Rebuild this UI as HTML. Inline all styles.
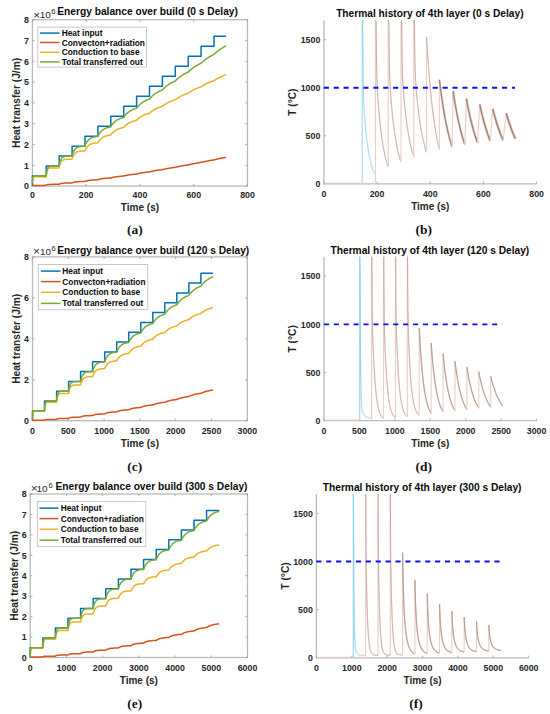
<!DOCTYPE html>
<html><head><meta charset="utf-8"><style>html,body{margin:0;padding:0;background:#fff;width:550px;height:714px;overflow:hidden}svg{display:block}</style></head>
<body><svg width="550" height="714" viewBox="0 0 550 714"><rect x="32.4" y="19.7" width="215.1" height="166.4" fill="none" stroke="#bababa" stroke-width="1.3"/>
<line x1="32.4" y1="186.1" x2="32.4" y2="183.9" stroke="#9a9a9a" stroke-width="0.8"/>
<line x1="32.4" y1="19.7" x2="32.4" y2="21.9" stroke="#9a9a9a" stroke-width="0.8"/>
<text x="32.4" y="198.2" font-size="8.8" text-anchor="middle" font-weight="bold" fill="#262626" font-family='"Liberation Sans", sans-serif' >0</text>
<line x1="86.17" y1="186.1" x2="86.17" y2="183.9" stroke="#9a9a9a" stroke-width="0.8"/>
<line x1="86.17" y1="19.7" x2="86.17" y2="21.9" stroke="#9a9a9a" stroke-width="0.8"/>
<text x="86.17" y="198.2" font-size="8.8" text-anchor="middle" font-weight="bold" fill="#262626" font-family='"Liberation Sans", sans-serif' >200</text>
<line x1="139.95" y1="186.1" x2="139.95" y2="183.9" stroke="#9a9a9a" stroke-width="0.8"/>
<line x1="139.95" y1="19.7" x2="139.95" y2="21.9" stroke="#9a9a9a" stroke-width="0.8"/>
<text x="139.95" y="198.2" font-size="8.8" text-anchor="middle" font-weight="bold" fill="#262626" font-family='"Liberation Sans", sans-serif' >400</text>
<line x1="193.72" y1="186.1" x2="193.72" y2="183.9" stroke="#9a9a9a" stroke-width="0.8"/>
<line x1="193.72" y1="19.7" x2="193.72" y2="21.9" stroke="#9a9a9a" stroke-width="0.8"/>
<text x="193.72" y="198.2" font-size="8.8" text-anchor="middle" font-weight="bold" fill="#262626" font-family='"Liberation Sans", sans-serif' >600</text>
<line x1="247.5" y1="186.1" x2="247.5" y2="183.9" stroke="#9a9a9a" stroke-width="0.8"/>
<line x1="247.5" y1="19.7" x2="247.5" y2="21.9" stroke="#9a9a9a" stroke-width="0.8"/>
<text x="247.5" y="198.2" font-size="8.8" text-anchor="middle" font-weight="bold" fill="#262626" font-family='"Liberation Sans", sans-serif' >800</text>
<line x1="32.4" y1="186.1" x2="34.6" y2="186.1" stroke="#9a9a9a" stroke-width="0.8"/>
<line x1="247.5" y1="186.1" x2="245.3" y2="186.1" stroke="#9a9a9a" stroke-width="0.8"/>
<text x="28.8" y="189.4" font-size="8.8" text-anchor="end" font-weight="bold" fill="#262626" font-family='"Liberation Sans", sans-serif' >0</text>
<line x1="32.4" y1="165.3" x2="34.6" y2="165.3" stroke="#9a9a9a" stroke-width="0.8"/>
<line x1="247.5" y1="165.3" x2="245.3" y2="165.3" stroke="#9a9a9a" stroke-width="0.8"/>
<text x="28.8" y="168.6" font-size="8.8" text-anchor="end" font-weight="bold" fill="#262626" font-family='"Liberation Sans", sans-serif' >1</text>
<line x1="32.4" y1="144.5" x2="34.6" y2="144.5" stroke="#9a9a9a" stroke-width="0.8"/>
<line x1="247.5" y1="144.5" x2="245.3" y2="144.5" stroke="#9a9a9a" stroke-width="0.8"/>
<text x="28.8" y="147.8" font-size="8.8" text-anchor="end" font-weight="bold" fill="#262626" font-family='"Liberation Sans", sans-serif' >2</text>
<line x1="32.4" y1="123.7" x2="34.6" y2="123.7" stroke="#9a9a9a" stroke-width="0.8"/>
<line x1="247.5" y1="123.7" x2="245.3" y2="123.7" stroke="#9a9a9a" stroke-width="0.8"/>
<text x="28.8" y="127" font-size="8.8" text-anchor="end" font-weight="bold" fill="#262626" font-family='"Liberation Sans", sans-serif' >3</text>
<line x1="32.4" y1="102.9" x2="34.6" y2="102.9" stroke="#9a9a9a" stroke-width="0.8"/>
<line x1="247.5" y1="102.9" x2="245.3" y2="102.9" stroke="#9a9a9a" stroke-width="0.8"/>
<text x="28.8" y="106.2" font-size="8.8" text-anchor="end" font-weight="bold" fill="#262626" font-family='"Liberation Sans", sans-serif' >4</text>
<line x1="32.4" y1="82.1" x2="34.6" y2="82.1" stroke="#9a9a9a" stroke-width="0.8"/>
<line x1="247.5" y1="82.1" x2="245.3" y2="82.1" stroke="#9a9a9a" stroke-width="0.8"/>
<text x="28.8" y="85.4" font-size="8.8" text-anchor="end" font-weight="bold" fill="#262626" font-family='"Liberation Sans", sans-serif' >5</text>
<line x1="32.4" y1="61.3" x2="34.6" y2="61.3" stroke="#9a9a9a" stroke-width="0.8"/>
<line x1="247.5" y1="61.3" x2="245.3" y2="61.3" stroke="#9a9a9a" stroke-width="0.8"/>
<text x="28.8" y="64.6" font-size="8.8" text-anchor="end" font-weight="bold" fill="#262626" font-family='"Liberation Sans", sans-serif' >6</text>
<line x1="32.4" y1="40.5" x2="34.6" y2="40.5" stroke="#9a9a9a" stroke-width="0.8"/>
<line x1="247.5" y1="40.5" x2="245.3" y2="40.5" stroke="#9a9a9a" stroke-width="0.8"/>
<text x="28.8" y="43.8" font-size="8.8" text-anchor="end" font-weight="bold" fill="#262626" font-family='"Liberation Sans", sans-serif' >7</text>
<line x1="32.4" y1="19.7" x2="34.6" y2="19.7" stroke="#9a9a9a" stroke-width="0.8"/>
<line x1="247.5" y1="19.7" x2="245.3" y2="19.7" stroke="#9a9a9a" stroke-width="0.8"/>
<text x="28.8" y="23" font-size="8.8" text-anchor="end" font-weight="bold" fill="#262626" font-family='"Liberation Sans", sans-serif' >8</text>
<path d="M32.4,186.1 32.4,176.1 46.2,176.1 46.2,166.1 59.2,166.1 59.2,156.1 72.1,156.1 72.1,146.2 85,146.2 85,136.2 97.9,136.2 97.9,126.2 110.8,126.2 110.8,116.2 123.7,116.2 123.7,106.2 136.6,106.2 136.6,96.2 149.5,96.2 149.5,86.3 162.4,86.3 162.4,76.3 175.3,76.3 175.3,66.3 188.2,66.3 188.2,56.3 201.1,56.3 201.1,46.3 214,46.3 214,36.3 226,36.3" fill="none" stroke="#0072bd" stroke-width="1.5" stroke-linejoin="round" stroke-linecap="butt" />
<path d="M32.4,183 32.7,179.6 32.9,178 33.2,177.3 33.5,177 33.7,176.9 34,176.8 34.3,176.8 34.6,176.8 34.8,176.8 35.1,176.8 35.4,176.8 35.6,176.8 35.9,176.8 36.2,176.8 36.4,176.8 36.7,176.8 37,176.8 37.2,176.8 37.5,176.8 37.8,176.8 38,176.8 38.3,176.8 38.6,176.8 38.9,176.8 39.1,176.8 39.4,176.8 39.7,176.8 39.9,176.8 40.2,176.8 40.5,176.8 40.7,176.8 41,176.8 41.3,176.8 41.5,176.8 41.8,176.8 42.1,176.8 42.3,176.8 42.6,176.8 42.9,176.9 43.2,176.9 43.4,176.9 43.7,176.9 44,176.9 44.2,176.9 44.5,176.9 44.8,176.9 45,176.9 45.3,176.9 45.6,176.9 45.8,176.9 46.1,176.9 46.4,174.6 46.7,173 46.9,171.7 47.2,170.7 47.5,170 47.7,169.5 48,169.1 48.3,168.8 48.5,168.5 48.8,168.4 49.1,168.2 49.3,168.1 49.6,168.1 49.9,168 50.1,168 50.4,167.9 50.7,167.9 51,167.9 51.2,167.9 51.5,167.9 51.8,167.9 52,167.9 52.3,167.9 52.6,167.9 52.8,167.9 53.1,167.9 53.4,167.9 53.6,167.9 53.9,167.9 54.2,167.9 54.4,167.9 54.7,167.9 55,167.9 55.3,167.9 55.5,167.9 55.8,167.9 56.1,167.9 56.3,167.9 56.6,167.9 56.9,167.9 57.1,167.9 57.4,168 57.7,168 57.9,168 58.2,168 58.5,168 58.7,168 59,168 59.3,166.7 59.6,165.6 59.8,164.7 60.1,163.9 60.4,163.2 60.6,162.6 60.9,162.1 61.2,161.7 61.4,161.3 61.7,161 62,160.8 62.2,160.5 62.5,160.3 62.8,160.2 63.1,160 63.3,159.9 63.6,159.8 63.9,159.7 64.1,159.6 64.4,159.6 64.7,159.5 64.9,159.5 65.2,159.4 65.5,159.4 65.7,159.4 66,159.4 66.3,159.3 66.5,159.3 66.8,159.3 67.1,159.3 67.4,159.3 67.6,159.3 67.9,159.3 68.2,159.3 68.4,159.3 68.7,159.3 69,159.3 69.2,159.3 69.5,159.3 69.8,159.3 70,159.3 70.3,159.3 70.6,159.3 70.8,159.3 71.1,159.3 71.4,159.3 71.7,159.3 71.9,159.3 72.2,158.5 72.5,157.7 72.7,157.1 73,156.5 73.3,155.9 73.5,155.4 73.8,154.9 74.1,154.5 74.3,154.2 74.6,153.8 74.9,153.5 75.2,153.3 75.4,153 75.7,152.8 76,152.6 76.2,152.4 76.5,152.3 76.8,152.1 77,152 77.3,151.9 77.6,151.8 77.8,151.7 78.1,151.6 78.4,151.5 78.6,151.4 78.9,151.4 79.2,151.3 79.5,151.3 79.7,151.2 80,151.2 80.3,151.1 80.5,151.1 80.8,151.1 81.1,151.1 81.3,151 81.6,151 81.9,151 82.1,151 82.4,151 82.7,151 82.9,150.9 83.2,150.9 83.5,150.9 83.8,150.9 84,150.9 84.3,150.9 84.6,150.9 84.8,150.9 85.1,150.3 85.4,149.8 85.6,149.3 85.9,148.8 86.2,148.3 86.4,147.9 86.7,147.5 87,147.2 87.3,146.9 87.5,146.5 87.8,146.3 88.1,146 88.3,145.7 88.6,145.5 88.9,145.3 89.1,145.1 89.4,144.9 89.7,144.8 89.9,144.6 90.2,144.4 90.5,144.3 90.7,144.2 91,144.1 91.3,144 91.6,143.9 91.8,143.8 92.1,143.7 92.4,143.6 92.6,143.5 92.9,143.5 93.2,143.4 93.4,143.3 93.7,143.3 94,143.2 94.2,143.2 94.5,143.1 94.8,143.1 95,143.1 95.3,143 95.6,143 95.9,143 96.1,142.9 96.4,142.9 96.7,142.9 96.9,142.9 97.2,142.9 97.5,142.9 97.7,142.8 98,142.4 98.3,141.9 98.5,141.5 98.8,141.2 99.1,140.8 99.3,140.4 99.6,140.1 99.9,139.8 100.2,139.5 100.4,139.2 100.7,139 101,138.7 101.2,138.5 101.5,138.3 101.8,138.1 102,137.9 102.3,137.7 102.6,137.5 102.8,137.3 103.1,137.2 103.4,137 103.7,136.9 103.9,136.8 104.2,136.6 104.5,136.5 104.7,136.4 105,136.3 105.3,136.2 105.5,136.1 105.8,136 106.1,135.9 106.3,135.9 106.6,135.8 106.9,135.7 107.1,135.6 107.4,135.6 107.7,135.5 108,135.5 108.2,135.4 108.5,135.4 108.8,135.3 109,135.3 109.3,135.2 109.6,135.2 109.8,135.2 110.1,135.1 110.4,135.1 110.6,135.1 110.9,134.7 111.2,134.4 111.4,134 111.7,133.7 112,133.4 112.3,133.1 112.5,132.8 112.8,132.5 113.1,132.3 113.3,132 113.6,131.8 113.9,131.5 114.1,131.3 114.4,131.1 114.7,130.9 114.9,130.7 115.2,130.5 115.5,130.4 115.8,130.2 116,130 116.3,129.9 116.6,129.7 116.8,129.6 117.1,129.5 117.4,129.3 117.6,129.2 117.9,129.1 118.2,129 118.4,128.9 118.7,128.8 119,128.7 119.2,128.6 119.5,128.5 119.8,128.4 120.1,128.4 120.3,128.3 120.6,128.2 120.9,128.1 121.1,128.1 121.4,128 121.7,127.9 121.9,127.9 122.2,127.8 122.5,127.8 122.7,127.7 123,127.7 123.3,127.6 123.5,127.6 123.8,127.3 124.1,127 124.4,126.7 124.6,126.4 124.9,126.1 125.2,125.9 125.4,125.6 125.7,125.4 126,125.1 126.2,124.9 126.5,124.7 126.8,124.5 127,124.3 127.3,124.1 127.6,123.9 127.9,123.7 128.1,123.5 128.4,123.4 128.7,123.2 128.9,123 129.2,122.9 129.5,122.7 129.7,122.6 130,122.5 130.3,122.3 130.5,122.2 130.8,122.1 131.1,122 131.3,121.8 131.6,121.7 131.9,121.6 132.2,121.5 132.4,121.4 132.7,121.3 133,121.3 133.2,121.2 133.5,121.1 133.8,121 134,120.9 134.3,120.9 134.6,120.8 134.8,120.7 135.1,120.7 135.4,120.6 135.6,120.5 135.9,120.5 136.2,120.4 136.5,120.4 136.7,120.1 137,119.8 137.3,119.6 137.5,119.3 137.8,119.1 138.1,118.8 138.3,118.6 138.6,118.4 138.9,118.1 139.1,117.9 139.4,117.7 139.7,117.5 139.9,117.3 140.2,117.2 140.5,117 140.8,116.8 141,116.6 141.3,116.5 141.6,116.3 141.8,116.2 142.1,116 142.4,115.9 142.6,115.7 142.9,115.6 143.2,115.4 143.4,115.3 143.7,115.2 144,115.1 144.3,115 144.5,114.8 144.8,114.7 145.1,114.6 145.3,114.5 145.6,114.4 145.9,114.3 146.1,114.2 146.4,114.2 146.7,114.1 146.9,114 147.2,113.9 147.5,113.8 147.7,113.7 148,113.7 148.3,113.6 148.6,113.5 148.8,113.5 149.1,113.4 149.4,113.3 149.6,113.1 149.9,112.8 150.2,112.6 150.4,112.4 150.7,112.2 151,111.9 151.2,111.7 151.5,111.5 151.8,111.3 152,111.1 152.3,110.9 152.6,110.7 152.9,110.6 153.1,110.4 153.4,110.2 153.7,110 153.9,109.9 154.2,109.7 154.5,109.6 154.7,109.4 155,109.3 155.3,109.1 155.5,109 155.8,108.8 156.1,108.7 156.4,108.6 156.6,108.5 156.9,108.3 157.2,108.2 157.4,108.1 157.7,108 158,107.9 158.2,107.8 158.5,107.7 158.8,107.6 159,107.5 159.3,107.4 159.6,107.3 159.8,107.2 160.1,107.1 160.4,107 160.7,106.9 160.9,106.9 161.2,106.8 161.5,106.7 161.7,106.6 162,106.6 162.3,106.5 162.5,106.3 162.8,106 163.1,105.8 163.3,105.6 163.6,105.4 163.9,105.2 164.1,105 164.4,104.8 164.7,104.6 165,104.4 165.2,104.3 165.5,104.1 165.8,103.9 166,103.7 166.3,103.6 166.6,103.4 166.8,103.2 167.1,103.1 167.4,102.9 167.6,102.8 167.9,102.7 168.2,102.5 168.5,102.4 168.7,102.2 169,102.1 169.3,102 169.5,101.9 169.8,101.7 170.1,101.6 170.3,101.5 170.6,101.4 170.9,101.3 171.1,101.2 171.4,101.1 171.7,101 171.9,100.9 172.2,100.8 172.5,100.7 172.8,100.6 173,100.5 173.3,100.4 173.6,100.3 173.8,100.2 174.1,100.1 174.4,100.1 174.6,100 174.9,99.9 175.2,99.8 175.4,99.6 175.7,99.4 176,99.2 176.2,99 176.5,98.8 176.8,98.6 177.1,98.4 177.3,98.2 177.6,98.1 177.9,97.9 178.1,97.7 178.4,97.5 178.7,97.4 178.9,97.2 179.2,97.1 179.5,96.9 179.7,96.7 180,96.6 180.3,96.5 180.6,96.3 180.8,96.2 181.1,96 181.4,95.9 181.6,95.8 181.9,95.6 182.2,95.5 182.4,95.4 182.7,95.3 183,95.1 183.2,95 183.5,94.9 183.8,94.8 184,94.7 184.3,94.6 184.6,94.5 184.9,94.4 185.1,94.3 185.4,94.2 185.7,94.1 185.9,94 186.2,93.9 186.5,93.8 186.7,93.7 187,93.6 187.3,93.5 187.5,93.5 187.8,93.4 188.1,93.3 188.3,93.1 188.6,92.9 188.9,92.7 189.2,92.5 189.4,92.3 189.7,92.2 190,92 190.2,91.8 190.5,91.6 190.8,91.5 191,91.3 191.3,91.1 191.6,91 191.8,90.8 192.1,90.7 192.4,90.5 192.6,90.4 192.9,90.2 193.2,90.1 193.5,89.9 193.7,89.8 194,89.7 194.3,89.5 194.5,89.4 194.8,89.3 195.1,89.2 195.3,89 195.6,88.9 195.9,88.8 196.1,88.7 196.4,88.6 196.7,88.5 197,88.3 197.2,88.2 197.5,88.1 197.8,88 198,87.9 198.3,87.8 198.6,87.7 198.8,87.6 199.1,87.5 199.4,87.4 199.6,87.3 199.9,87.3 200.2,87.2 200.4,87.1 200.7,87 201,86.9 201.3,86.7 201.5,86.5 201.8,86.4 202.1,86.2 202.3,86 202.6,85.8 202.9,85.7 203.1,85.5 203.4,85.3 203.7,85.2 203.9,85 204.2,84.9 204.5,84.7 204.7,84.6 205,84.4 205.3,84.3 205.6,84.1 205.8,84 206.1,83.8 206.4,83.7 206.6,83.6 206.9,83.4 207.2,83.3 207.4,83.2 207.7,83.1 208,82.9 208.2,82.8 208.5,82.7 208.8,82.6 209.1,82.5 209.3,82.3 209.6,82.2 209.9,82.1 210.1,82 210.4,81.9 210.7,81.8 210.9,81.7 211.2,81.6 211.5,81.5 211.7,81.4 212,81.3 212.3,81.2 212.5,81.1 212.8,81 213.1,80.9 213.4,80.8 213.6,80.8 213.9,80.7 214.2,80.5 214.4,80.3 214.7,80.1 215,80 215.2,79.8 215.5,79.6 215.8,79.4 216,79.3 216.3,79.1 216.6,78.9 216.8,78.8 217.1,78.6 217.4,78.5 217.7,78.3 217.9,78.2 218.2,78 218.5,77.9 218.7,77.7 219,77.6 219.3,77.5 219.5,77.3 219.8,77.2 220.1,77.1 220.3,76.9 220.6,76.8 220.9,76.7 221.2,76.6 221.4,76.4 221.7,76.3 222,76.2 222.2,76.1 222.5,76 222.8,75.9 223,75.8 223.3,75.6 223.6,75.5 223.8,75.4 224.1,75.3 224.4,75.2 224.6,75.1 224.9,75 225.2,74.9 225.5,74.8 225.7,74.7 226,74.6" fill="none" stroke="#edb120" stroke-width="1.5" stroke-linejoin="round" stroke-linecap="butt" />
<path d="M32.4,185.9 32.7,185.7 32.9,185.6 33.2,185.5 33.5,185.5 33.7,185.5 34,185.5 34.3,185.5 34.6,185.5 34.8,185.5 35.1,185.5 35.4,185.4 35.6,185.4 35.9,185.4 36.2,185.4 36.4,185.4 36.7,185.4 37,185.4 37.2,185.4 37.5,185.4 37.8,185.4 38,185.4 38.3,185.4 38.6,185.4 38.9,185.4 39.1,185.4 39.4,185.4 39.7,185.4 39.9,185.4 40.2,185.4 40.5,185.4 40.7,185.4 41,185.4 41.3,185.4 41.5,185.4 41.8,185.4 42.1,185.4 42.3,185.4 42.6,185.4 42.9,185.4 43.2,185.4 43.4,185.4 43.7,185.4 44,185.4 44.2,185.4 44.5,185.3 44.8,185.3 45,185.3 45.3,185.3 45.6,185.3 45.8,185.3 46.1,185.3 46.4,185.1 46.7,184.9 46.9,184.8 47.2,184.7 47.5,184.6 47.7,184.6 48,184.5 48.3,184.5 48.5,184.5 48.8,184.5 49.1,184.5 49.3,184.4 49.6,184.4 49.9,184.4 50.1,184.4 50.4,184.4 50.7,184.4 51,184.4 51.2,184.4 51.5,184.4 51.8,184.4 52,184.4 52.3,184.4 52.6,184.4 52.8,184.4 53.1,184.3 53.4,184.3 53.6,184.3 53.9,184.3 54.2,184.3 54.4,184.3 54.7,184.3 55,184.3 55.3,184.3 55.5,184.3 55.8,184.3 56.1,184.3 56.3,184.3 56.6,184.3 56.9,184.3 57.1,184.3 57.4,184.3 57.7,184.3 57.9,184.3 58.2,184.3 58.5,184.3 58.7,184.3 59,184.3 59.3,184.1 59.6,184 59.8,183.8 60.1,183.7 60.4,183.7 60.6,183.6 60.9,183.5 61.2,183.5 61.4,183.4 61.7,183.4 62,183.3 62.2,183.3 62.5,183.3 62.8,183.2 63.1,183.2 63.3,183.2 63.6,183.2 63.9,183.2 64.1,183.1 64.4,183.1 64.7,183.1 64.9,183.1 65.2,183.1 65.5,183.1 65.7,183.1 66,183.1 66.3,183.1 66.5,183.1 66.8,183.1 67.1,183 67.4,183 67.6,183 67.9,183 68.2,183 68.4,183 68.7,183 69,183 69.2,183 69.5,183 69.8,183 70,183 70.3,183 70.6,183 70.8,183 71.1,183 71.4,183 71.7,182.9 71.9,182.9 72.2,182.8 72.5,182.7 72.7,182.6 73,182.5 73.3,182.4 73.5,182.3 73.8,182.3 74.1,182.2 74.3,182.2 74.6,182.1 74.9,182.1 75.2,182 75.4,182 75.7,181.9 76,181.9 76.2,181.9 76.5,181.8 76.8,181.8 77,181.8 77.3,181.8 77.6,181.7 77.8,181.7 78.1,181.7 78.4,181.7 78.6,181.7 78.9,181.6 79.2,181.6 79.5,181.6 79.7,181.6 80,181.6 80.3,181.6 80.5,181.6 80.8,181.6 81.1,181.5 81.3,181.5 81.6,181.5 81.9,181.5 82.1,181.5 82.4,181.5 82.7,181.5 82.9,181.5 83.2,181.5 83.5,181.5 83.8,181.5 84,181.5 84.3,181.4 84.6,181.4 84.8,181.4 85.1,181.3 85.4,181.2 85.6,181.1 85.9,181.1 86.2,181 86.4,180.9 86.7,180.8 87,180.8 87.3,180.7 87.5,180.7 87.8,180.6 88.1,180.6 88.3,180.5 88.6,180.5 88.9,180.4 89.1,180.4 89.4,180.3 89.7,180.3 89.9,180.3 90.2,180.2 90.5,180.2 90.7,180.2 91,180.2 91.3,180.1 91.6,180.1 91.8,180.1 92.1,180.1 92.4,180 92.6,180 92.9,180 93.2,180 93.4,180 93.7,180 94,179.9 94.2,179.9 94.5,179.9 94.8,179.9 95,179.9 95.3,179.9 95.6,179.9 95.9,179.8 96.1,179.8 96.4,179.8 96.7,179.8 96.9,179.8 97.2,179.8 97.5,179.8 97.7,179.8 98,179.7 98.3,179.6 98.5,179.5 98.8,179.4 99.1,179.4 99.3,179.3 99.6,179.2 99.9,179.2 100.2,179.1 100.4,179 100.7,179 101,178.9 101.2,178.9 101.5,178.8 101.8,178.8 102,178.7 102.3,178.7 102.6,178.7 102.8,178.6 103.1,178.6 103.4,178.6 103.7,178.5 103.9,178.5 104.2,178.5 104.5,178.4 104.7,178.4 105,178.4 105.3,178.3 105.5,178.3 105.8,178.3 106.1,178.3 106.3,178.2 106.6,178.2 106.9,178.2 107.1,178.2 107.4,178.2 107.7,178.1 108,178.1 108.2,178.1 108.5,178.1 108.8,178.1 109,178.1 109.3,178 109.6,178 109.8,178 110.1,178 110.4,178 110.6,178 110.9,177.9 111.2,177.8 111.4,177.7 111.7,177.7 112,177.6 112.3,177.5 112.5,177.5 112.8,177.4 113.1,177.3 113.3,177.3 113.6,177.2 113.9,177.2 114.1,177.1 114.4,177.1 114.7,177 114.9,177 115.2,176.9 115.5,176.9 115.8,176.8 116,176.8 116.3,176.8 116.6,176.7 116.8,176.7 117.1,176.7 117.4,176.6 117.6,176.6 117.9,176.6 118.2,176.5 118.4,176.5 118.7,176.5 119,176.4 119.2,176.4 119.5,176.4 119.8,176.4 120.1,176.3 120.3,176.3 120.6,176.3 120.9,176.3 121.1,176.2 121.4,176.2 121.7,176.2 121.9,176.2 122.2,176.2 122.5,176.1 122.7,176.1 123,176.1 123.3,176.1 123.5,176.1 123.8,176 124.1,175.9 124.4,175.8 124.6,175.8 124.9,175.7 125.2,175.6 125.4,175.6 125.7,175.5 126,175.4 126.2,175.4 126.5,175.3 126.8,175.3 127,175.2 127.3,175.2 127.6,175.1 127.9,175.1 128.1,175 128.4,175 128.7,174.9 128.9,174.9 129.2,174.8 129.5,174.8 129.7,174.8 130,174.7 130.3,174.7 130.5,174.7 130.8,174.6 131.1,174.6 131.3,174.5 131.6,174.5 131.9,174.5 132.2,174.4 132.4,174.4 132.7,174.4 133,174.4 133.2,174.3 133.5,174.3 133.8,174.3 134,174.2 134.3,174.2 134.6,174.2 134.8,174.2 135.1,174.2 135.4,174.1 135.6,174.1 135.9,174.1 136.2,174.1 136.5,174 136.7,174 137,173.9 137.3,173.8 137.5,173.8 137.8,173.7 138.1,173.6 138.3,173.6 138.6,173.5 138.9,173.4 139.1,173.4 139.4,173.3 139.7,173.3 139.9,173.2 140.2,173.2 140.5,173.1 140.8,173.1 141,173 141.3,173 141.6,172.9 141.8,172.9 142.1,172.8 142.4,172.8 142.6,172.7 142.9,172.7 143.2,172.6 143.4,172.6 143.7,172.6 144,172.5 144.3,172.5 144.5,172.5 144.8,172.4 145.1,172.4 145.3,172.3 145.6,172.3 145.9,172.3 146.1,172.3 146.4,172.2 146.7,172.2 146.9,172.2 147.2,172.1 147.5,172.1 147.7,172.1 148,172 148.3,172 148.6,172 148.8,172 149.1,171.9 149.4,171.9 149.6,171.8 149.9,171.8 150.2,171.7 150.4,171.6 150.7,171.6 151,171.5 151.2,171.4 151.5,171.4 151.8,171.3 152,171.3 152.3,171.2 152.6,171.1 152.9,171.1 153.1,171 153.4,171 153.7,170.9 153.9,170.9 154.2,170.8 154.5,170.8 154.7,170.7 155,170.7 155.3,170.6 155.5,170.6 155.8,170.5 156.1,170.5 156.4,170.5 156.6,170.4 156.9,170.4 157.2,170.3 157.4,170.3 157.7,170.3 158,170.2 158.2,170.2 158.5,170.1 158.8,170.1 159,170.1 159.3,170 159.6,170 159.8,170 160.1,169.9 160.4,169.9 160.7,169.9 160.9,169.8 161.2,169.8 161.5,169.8 161.7,169.7 162,169.7 162.3,169.7 162.5,169.6 162.8,169.6 163.1,169.5 163.3,169.4 163.6,169.3 163.9,169.3 164.1,169.2 164.4,169.2 164.7,169.1 165,169 165.2,169 165.5,168.9 165.8,168.9 166,168.8 166.3,168.8 166.6,168.7 166.8,168.6 167.1,168.6 167.4,168.5 167.6,168.5 167.9,168.4 168.2,168.4 168.5,168.3 168.7,168.3 169,168.3 169.3,168.2 169.5,168.2 169.8,168.1 170.1,168.1 170.3,168 170.6,168 170.9,167.9 171.1,167.9 171.4,167.9 171.7,167.8 171.9,167.8 172.2,167.8 172.5,167.7 172.8,167.7 173,167.6 173.3,167.6 173.6,167.6 173.8,167.5 174.1,167.5 174.4,167.5 174.6,167.4 174.9,167.4 175.2,167.4 175.4,167.3 175.7,167.2 176,167.2 176.2,167.1 176.5,167 176.8,167 177.1,166.9 177.3,166.8 177.6,166.8 177.9,166.7 178.1,166.7 178.4,166.6 178.7,166.5 178.9,166.5 179.2,166.4 179.5,166.4 179.7,166.3 180,166.3 180.3,166.2 180.6,166.2 180.8,166.1 181.1,166.1 181.4,166 181.6,166 181.9,165.9 182.2,165.9 182.4,165.8 182.7,165.8 183,165.7 183.2,165.7 183.5,165.6 183.8,165.6 184,165.5 184.3,165.5 184.6,165.5 184.9,165.4 185.1,165.4 185.4,165.3 185.7,165.3 185.9,165.3 186.2,165.2 186.5,165.2 186.7,165.2 187,165.1 187.3,165.1 187.5,165 187.8,165 188.1,165 188.3,164.9 188.6,164.8 188.9,164.8 189.2,164.7 189.4,164.6 189.7,164.6 190,164.5 190.2,164.4 190.5,164.4 190.8,164.3 191,164.2 191.3,164.2 191.6,164.1 191.8,164.1 192.1,164 192.4,164 192.6,163.9 192.9,163.8 193.2,163.8 193.5,163.7 193.7,163.7 194,163.6 194.3,163.6 194.5,163.5 194.8,163.5 195.1,163.4 195.3,163.4 195.6,163.3 195.9,163.3 196.1,163.2 196.4,163.2 196.7,163.1 197,163.1 197.2,163.1 197.5,163 197.8,163 198,162.9 198.3,162.9 198.6,162.8 198.8,162.8 199.1,162.8 199.4,162.7 199.6,162.7 199.9,162.6 200.2,162.6 200.4,162.6 200.7,162.5 201,162.5 201.3,162.4 201.5,162.3 201.8,162.3 202.1,162.2 202.3,162.1 202.6,162.1 202.9,162 203.1,161.9 203.4,161.9 203.7,161.8 203.9,161.8 204.2,161.7 204.5,161.6 204.7,161.6 205,161.5 205.3,161.5 205.6,161.4 205.8,161.3 206.1,161.3 206.4,161.2 206.6,161.2 206.9,161.1 207.2,161.1 207.4,161 207.7,161 208,160.9 208.2,160.9 208.5,160.8 208.8,160.8 209.1,160.7 209.3,160.7 209.6,160.6 209.9,160.6 210.1,160.5 210.4,160.5 210.7,160.4 210.9,160.4 211.2,160.3 211.5,160.3 211.7,160.2 212,160.2 212.3,160.2 212.5,160.1 212.8,160.1 213.1,160 213.4,160 213.6,159.9 213.9,159.9 214.2,159.8 214.4,159.8 214.7,159.7 215,159.6 215.2,159.6 215.5,159.5 215.8,159.4 216,159.3 216.3,159.3 216.6,159.2 216.8,159.2 217.1,159.1 217.4,159 217.7,159 217.9,158.9 218.2,158.8 218.5,158.8 218.7,158.7 219,158.7 219.3,158.6 219.5,158.5 219.8,158.5 220.1,158.4 220.3,158.4 220.6,158.3 220.9,158.3 221.2,158.2 221.4,158.2 221.7,158.1 222,158.1 222.2,158 222.5,157.9 222.8,157.9 223,157.8 223.3,157.8 223.6,157.7 223.8,157.7 224.1,157.7 224.4,157.6 224.6,157.6 224.9,157.5 225.2,157.5 225.5,157.4 225.7,157.4 226,157.3" fill="none" stroke="#d95319" stroke-width="1.5" stroke-linejoin="round" stroke-linecap="butt" />
<path d="M32.4,182.8 32.7,179.1 32.9,177.5 33.2,176.7 33.5,176.4 33.7,176.2 34,176.2 34.3,176.1 34.6,176.1 34.8,176.1 35.1,176.1 35.4,176.1 35.6,176.1 35.9,176.1 36.2,176.1 36.4,176.1 36.7,176.1 37,176.1 37.2,176.1 37.5,176.1 37.8,176.1 38,176.1 38.3,176.1 38.6,176.1 38.9,176.1 39.1,176.1 39.4,176.1 39.7,176.1 39.9,176.1 40.2,176.1 40.5,176.1 40.7,176.1 41,176.1 41.3,176.1 41.5,176.1 41.8,176.1 42.1,176.1 42.3,176.1 42.6,176.1 42.9,176.1 43.2,176.1 43.4,176.1 43.7,176.1 44,176.1 44.2,176.1 44.5,176.1 44.8,176.1 45,176.1 45.3,176.1 45.6,176.1 45.8,176.1 46.1,176.1 46.4,173.7 46.7,171.8 46.9,170.4 47.2,169.4 47.5,168.6 47.7,168 48,167.5 48.3,167.2 48.5,166.9 48.8,166.7 49.1,166.6 49.3,166.5 49.6,166.4 49.9,166.3 50.1,166.3 50.4,166.2 50.7,166.2 51,166.2 51.2,166.2 51.5,166.2 51.8,166.2 52,166.2 52.3,166.1 52.6,166.1 52.8,166.1 53.1,166.1 53.4,166.1 53.6,166.1 53.9,166.1 54.2,166.1 54.4,166.1 54.7,166.1 55,166.1 55.3,166.1 55.5,166.1 55.8,166.1 56.1,166.1 56.3,166.1 56.6,166.1 56.9,166.1 57.1,166.1 57.4,166.1 57.7,166.1 57.9,166.1 58.2,166.1 58.5,166.1 58.7,166.1 59,166.1 59.3,164.7 59.6,163.5 59.8,162.4 60.1,161.5 60.4,160.8 60.6,160.1 60.9,159.5 61.2,159.1 61.4,158.6 61.7,158.3 62,158 62.2,157.7 62.5,157.5 62.8,157.3 63.1,157.1 63.3,157 63.6,156.9 63.9,156.8 64.1,156.7 64.4,156.6 64.7,156.5 64.9,156.5 65.2,156.4 65.5,156.4 65.7,156.4 66,156.3 66.3,156.3 66.5,156.3 66.8,156.3 67.1,156.2 67.4,156.2 67.6,156.2 67.9,156.2 68.2,156.2 68.4,156.2 68.7,156.2 69,156.2 69.2,156.2 69.5,156.2 69.8,156.2 70,156.2 70.3,156.2 70.6,156.2 70.8,156.2 71.1,156.2 71.4,156.2 71.7,156.2 71.9,156.2 72.2,155.2 72.5,154.3 72.7,153.6 73,152.9 73.3,152.2 73.5,151.6 73.8,151.1 74.1,150.7 74.3,150.2 74.6,149.8 74.9,149.5 75.2,149.2 75.4,148.9 75.7,148.6 76,148.4 76.2,148.2 76.5,148 76.8,147.8 77,147.7 77.3,147.5 77.6,147.4 77.8,147.3 78.1,147.2 78.4,147.1 78.6,147 78.9,146.9 79.2,146.8 79.5,146.8 79.7,146.7 80,146.7 80.3,146.6 80.5,146.6 80.8,146.5 81.1,146.5 81.3,146.5 81.6,146.4 81.9,146.4 82.1,146.4 82.4,146.4 82.7,146.3 82.9,146.3 83.2,146.3 83.5,146.3 83.8,146.3 84,146.3 84.3,146.3 84.6,146.3 84.8,146.2 85.1,145.6 85.4,144.9 85.6,144.3 85.9,143.7 86.2,143.2 86.4,142.7 86.7,142.3 87,141.9 87.3,141.5 87.5,141.1 87.8,140.8 88.1,140.4 88.3,140.2 88.6,139.9 88.9,139.6 89.1,139.4 89.4,139.2 89.7,139 89.9,138.8 90.2,138.6 90.5,138.4 90.7,138.3 91,138.1 91.3,138 91.6,137.9 91.8,137.7 92.1,137.6 92.4,137.5 92.6,137.4 92.9,137.4 93.2,137.3 93.4,137.2 93.7,137.1 94,137.1 94.2,137 94.5,136.9 94.8,136.9 95,136.8 95.3,136.8 95.6,136.8 95.9,136.7 96.1,136.7 96.4,136.6 96.7,136.6 96.9,136.6 97.2,136.6 97.5,136.5 97.7,136.5 98,136 98.3,135.4 98.5,135 98.8,134.5 99.1,134 99.3,133.6 99.6,133.2 99.9,132.9 100.2,132.5 100.4,132.2 100.7,131.9 101,131.6 101.2,131.3 101.5,131 101.8,130.8 102,130.5 102.3,130.3 102.6,130.1 102.8,129.9 103.1,129.7 103.4,129.5 103.7,129.3 103.9,129.1 104.2,129 104.5,128.8 104.7,128.7 105,128.6 105.3,128.4 105.5,128.3 105.8,128.2 106.1,128.1 106.3,128 106.6,127.9 106.9,127.8 107.1,127.7 107.4,127.6 107.7,127.6 108,127.5 108.2,127.4 108.5,127.4 108.8,127.3 109,127.2 109.3,127.2 109.6,127.1 109.8,127.1 110.1,127 110.4,127 110.6,127 110.9,126.5 111.2,126.1 111.4,125.6 111.7,125.2 112,124.9 112.3,124.5 112.5,124.1 112.8,123.8 113.1,123.5 113.3,123.2 113.6,122.9 113.9,122.6 114.1,122.3 114.4,122.1 114.7,121.8 114.9,121.6 115.2,121.4 115.5,121.1 115.8,120.9 116,120.7 116.3,120.5 116.6,120.4 116.8,120.2 117.1,120 117.4,119.9 117.6,119.7 117.9,119.6 118.2,119.4 118.4,119.3 118.7,119.2 119,119 119.2,118.9 119.5,118.8 119.8,118.7 120.1,118.6 120.3,118.5 120.6,118.4 120.9,118.3 121.1,118.2 121.4,118.1 121.7,118 121.9,118 122.2,117.9 122.5,117.8 122.7,117.7 123,117.7 123.3,117.6 123.5,117.6 123.8,117.2 124.1,116.8 124.4,116.4 124.6,116.1 124.9,115.7 125.2,115.4 125.4,115.1 125.7,114.8 126,114.5 126.2,114.2 126.5,113.9 126.8,113.6 127,113.4 127.3,113.1 127.6,112.9 127.9,112.7 128.1,112.4 128.4,112.2 128.7,112 128.9,111.8 129.2,111.6 129.5,111.4 129.7,111.3 130,111.1 130.3,110.9 130.5,110.7 130.8,110.6 131.1,110.4 131.3,110.3 131.6,110.2 131.9,110 132.2,109.9 132.4,109.8 132.7,109.6 133,109.5 133.2,109.4 133.5,109.3 133.8,109.2 134,109.1 134.3,109 134.6,108.9 134.8,108.8 135.1,108.7 135.4,108.6 135.6,108.5 135.9,108.5 136.2,108.4 136.5,108.3 136.7,108 137,107.6 137.3,107.3 137.5,107 137.8,106.6 138.1,106.3 138.3,106 138.6,105.8 138.9,105.5 139.1,105.2 139.4,105 139.7,104.7 139.9,104.4 140.2,104.2 140.5,104 140.8,103.8 141,103.5 141.3,103.3 141.6,103.1 141.8,102.9 142.1,102.7 142.4,102.5 142.6,102.3 142.9,102.2 143.2,102 143.4,101.8 143.7,101.7 144,101.5 144.3,101.4 144.5,101.2 144.8,101.1 145.1,100.9 145.3,100.8 145.6,100.6 145.9,100.5 146.1,100.4 146.4,100.3 146.7,100.2 146.9,100 147.2,99.9 147.5,99.8 147.7,99.7 148,99.6 148.3,99.5 148.6,99.4 148.8,99.3 149.1,99.2 149.4,99.2 149.6,98.8 149.9,98.5 150.2,98.2 150.4,97.9 150.7,97.6 151,97.3 151.2,97.1 151.5,96.8 151.8,96.5 152,96.3 152.3,96 152.6,95.8 152.9,95.5 153.1,95.3 153.4,95.1 153.7,94.9 153.9,94.6 154.2,94.4 154.5,94.2 154.7,94 155,93.8 155.3,93.6 155.5,93.5 155.8,93.3 156.1,93.1 156.4,92.9 156.6,92.8 156.9,92.6 157.2,92.5 157.4,92.3 157.7,92.1 158,92 158.2,91.9 158.5,91.7 158.8,91.6 159,91.4 159.3,91.3 159.6,91.2 159.8,91.1 160.1,90.9 160.4,90.8 160.7,90.7 160.9,90.6 161.2,90.5 161.5,90.4 161.7,90.3 162,90.2 162.3,90.1 162.5,89.8 162.8,89.5 163.1,89.2 163.3,88.9 163.6,88.7 163.9,88.4 164.1,88.1 164.4,87.9 164.7,87.6 165,87.4 165.2,87.1 165.5,86.9 165.8,86.7 166,86.4 166.3,86.2 166.6,86 166.8,85.8 167.1,85.6 167.4,85.4 167.6,85.2 167.9,85 168.2,84.8 168.5,84.6 168.7,84.4 169,84.3 169.3,84.1 169.5,83.9 169.8,83.8 170.1,83.6 170.3,83.4 170.6,83.3 170.9,83.1 171.1,83 171.4,82.8 171.7,82.7 171.9,82.5 172.2,82.4 172.5,82.3 172.8,82.1 173,82 173.3,81.9 173.6,81.8 173.8,81.7 174.1,81.5 174.4,81.4 174.6,81.3 174.9,81.2 175.2,81.1 175.4,80.8 175.7,80.5 176,80.3 176.2,80 176.5,79.7 176.8,79.5 177.1,79.2 177.3,79 177.6,78.7 177.9,78.5 178.1,78.3 178.4,78 178.7,77.8 178.9,77.6 179.2,77.4 179.5,77.2 179.7,77 180,76.8 180.3,76.6 180.6,76.4 180.8,76.2 181.1,76 181.4,75.8 181.6,75.6 181.9,75.4 182.2,75.3 182.4,75.1 182.7,74.9 183,74.8 183.2,74.6 183.5,74.4 183.8,74.3 184,74.1 184.3,74 184.6,73.8 184.9,73.7 185.1,73.6 185.4,73.4 185.7,73.3 185.9,73.1 186.2,73 186.5,72.9 186.7,72.8 187,72.6 187.3,72.5 187.5,72.4 187.8,72.3 188.1,72.2 188.3,71.9 188.6,71.6 188.9,71.4 189.2,71.1 189.4,70.9 189.7,70.6 190,70.4 190.2,70.1 190.5,69.9 190.8,69.7 191,69.5 191.3,69.2 191.6,69 191.8,68.8 192.1,68.6 192.4,68.4 192.6,68.2 192.9,68 193.2,67.8 193.5,67.6 193.7,67.4 194,67.2 194.3,67 194.5,66.8 194.8,66.7 195.1,66.5 195.3,66.3 195.6,66.1 195.9,66 196.1,65.8 196.4,65.7 196.7,65.5 197,65.3 197.2,65.2 197.5,65 197.8,64.9 198,64.7 198.3,64.6 198.6,64.5 198.8,64.3 199.1,64.2 199.4,64.1 199.6,63.9 199.9,63.8 200.2,63.7 200.4,63.5 200.7,63.4 201,63.3 201.3,63 201.5,62.8 201.8,62.5 202.1,62.3 202.3,62.1 202.6,61.8 202.9,61.6 203.1,61.3 203.4,61.1 203.7,60.9 203.9,60.7 204.2,60.5 204.5,60.2 204.7,60 205,59.8 205.3,59.6 205.6,59.4 205.8,59.2 206.1,59 206.4,58.8 206.6,58.6 206.9,58.5 207.2,58.3 207.4,58.1 207.7,57.9 208,57.7 208.2,57.6 208.5,57.4 208.8,57.2 209.1,57.1 209.3,56.9 209.6,56.7 209.9,56.6 210.1,56.4 210.4,56.3 210.7,56.1 210.9,56 211.2,55.8 211.5,55.7 211.7,55.5 212,55.4 212.3,55.3 212.5,55.1 212.8,55 213.1,54.9 213.4,54.7 213.6,54.6 213.9,54.5 214.2,54.2 214.4,54 214.7,53.7 215,53.5 215.2,53.2 215.5,53 215.8,52.8 216,52.5 216.3,52.3 216.6,52.1 216.8,51.8 217.1,51.6 217.4,51.4 217.7,51.2 217.9,51 218.2,50.8 218.5,50.6 218.7,50.4 219,50.2 219.3,50 219.5,49.8 219.8,49.6 220.1,49.4 220.3,49.2 220.6,49 220.9,48.9 221.2,48.7 221.4,48.5 221.7,48.3 222,48.2 222.2,48 222.5,47.8 222.8,47.7 223,47.5 223.3,47.3 223.6,47.2 223.8,47 224.1,46.9 224.4,46.7 224.6,46.6 224.9,46.4 225.2,46.3 225.5,46.2 225.7,46 226,45.9" fill="none" stroke="#77ac30" stroke-width="1.5" stroke-linejoin="round" stroke-linecap="butt" />
<text x="57.3" y="14.9" font-size="10.2" text-anchor="start" font-weight="bold" fill="#0a0a0a" font-family='"Liberation Sans", sans-serif' >Energy balance over build (0 s Delay)</text>
<text x="33.2" y="18.6" font-size="11.8" text-anchor="start" font-weight="normal" fill="#262626" font-family='"Liberation Sans", sans-serif' >×</text>
<text x="39.8" y="18" font-size="9.9" text-anchor="start" font-weight="normal" fill="#262626" font-family='"Liberation Sans", sans-serif' >10</text>
<text x="51.3" y="13.7" font-size="7.6" text-anchor="start" font-weight="normal" fill="#262626" font-family='"Liberation Sans", sans-serif' >6</text>
<rect x="37.8" y="27.1" width="108.7" height="40" fill="#fff" stroke="#c4c4c4" stroke-width="0.9"/>
<line x1="39.9" y1="33.1" x2="59.5" y2="33.1" stroke="#0072bd" stroke-width="1.5"/>
<text x="61.7" y="36.1" font-size="8.35" text-anchor="start" font-weight="bold" fill="#0a0a0a" font-family='"Liberation Sans", sans-serif' >Heat input</text>
<line x1="39.9" y1="42.5" x2="59.5" y2="42.5" stroke="#d95319" stroke-width="1.5"/>
<text x="61.7" y="45.5" font-size="8.35" text-anchor="start" font-weight="bold" fill="#0a0a0a" font-family='"Liberation Sans", sans-serif' >Convecton+radiation</text>
<line x1="39.9" y1="52.3" x2="59.5" y2="52.3" stroke="#edb120" stroke-width="1.5"/>
<text x="61.7" y="55.3" font-size="8.35" text-anchor="start" font-weight="bold" fill="#0a0a0a" font-family='"Liberation Sans", sans-serif' >Conduction to base</text>
<line x1="39.9" y1="61.9" x2="59.5" y2="61.9" stroke="#77ac30" stroke-width="1.5"/>
<text x="61.7" y="64.9" font-size="8.35" text-anchor="start" font-weight="bold" fill="#0a0a0a" font-family='"Liberation Sans", sans-serif' >Total transferred out</text>
<text x="0" y="0" font-size="10.2" font-weight="bold" fill="#262626" font-family='"Liberation Sans", sans-serif' text-anchor="middle" transform="translate(19.6,102.9) rotate(-90)">Heat transfer (J/m)</text>
<text x="139.95" y="210.5" font-size="10.0" text-anchor="middle" font-weight="bold" fill="#262626" font-family='"Liberation Sans", sans-serif' >Time (s)</text>
<rect x="32.5" y="256.9" width="214.8" height="163.8" fill="none" stroke="#bababa" stroke-width="1.3"/>
<line x1="32.5" y1="420.7" x2="32.5" y2="418.5" stroke="#9a9a9a" stroke-width="0.8"/>
<line x1="32.5" y1="256.9" x2="32.5" y2="259.1" stroke="#9a9a9a" stroke-width="0.8"/>
<text x="32.5" y="433.7" font-size="8.8" text-anchor="middle" font-weight="bold" fill="#262626" font-family='"Liberation Sans", sans-serif' >0</text>
<line x1="68.3" y1="420.7" x2="68.3" y2="418.5" stroke="#9a9a9a" stroke-width="0.8"/>
<line x1="68.3" y1="256.9" x2="68.3" y2="259.1" stroke="#9a9a9a" stroke-width="0.8"/>
<text x="68.3" y="433.7" font-size="8.8" text-anchor="middle" font-weight="bold" fill="#262626" font-family='"Liberation Sans", sans-serif' >500</text>
<line x1="104.1" y1="420.7" x2="104.1" y2="418.5" stroke="#9a9a9a" stroke-width="0.8"/>
<line x1="104.1" y1="256.9" x2="104.1" y2="259.1" stroke="#9a9a9a" stroke-width="0.8"/>
<text x="104.1" y="433.7" font-size="8.8" text-anchor="middle" font-weight="bold" fill="#262626" font-family='"Liberation Sans", sans-serif' >1000</text>
<line x1="139.9" y1="420.7" x2="139.9" y2="418.5" stroke="#9a9a9a" stroke-width="0.8"/>
<line x1="139.9" y1="256.9" x2="139.9" y2="259.1" stroke="#9a9a9a" stroke-width="0.8"/>
<text x="139.9" y="433.7" font-size="8.8" text-anchor="middle" font-weight="bold" fill="#262626" font-family='"Liberation Sans", sans-serif' >1500</text>
<line x1="175.7" y1="420.7" x2="175.7" y2="418.5" stroke="#9a9a9a" stroke-width="0.8"/>
<line x1="175.7" y1="256.9" x2="175.7" y2="259.1" stroke="#9a9a9a" stroke-width="0.8"/>
<text x="175.7" y="433.7" font-size="8.8" text-anchor="middle" font-weight="bold" fill="#262626" font-family='"Liberation Sans", sans-serif' >2000</text>
<line x1="211.5" y1="420.7" x2="211.5" y2="418.5" stroke="#9a9a9a" stroke-width="0.8"/>
<line x1="211.5" y1="256.9" x2="211.5" y2="259.1" stroke="#9a9a9a" stroke-width="0.8"/>
<text x="211.5" y="433.7" font-size="8.8" text-anchor="middle" font-weight="bold" fill="#262626" font-family='"Liberation Sans", sans-serif' >2500</text>
<line x1="247.3" y1="420.7" x2="247.3" y2="418.5" stroke="#9a9a9a" stroke-width="0.8"/>
<line x1="247.3" y1="256.9" x2="247.3" y2="259.1" stroke="#9a9a9a" stroke-width="0.8"/>
<text x="247.3" y="433.7" font-size="8.8" text-anchor="middle" font-weight="bold" fill="#262626" font-family='"Liberation Sans", sans-serif' >3000</text>
<line x1="32.5" y1="420.7" x2="34.7" y2="420.7" stroke="#9a9a9a" stroke-width="0.8"/>
<line x1="247.3" y1="420.7" x2="245.1" y2="420.7" stroke="#9a9a9a" stroke-width="0.8"/>
<text x="28.9" y="424" font-size="8.8" text-anchor="end" font-weight="bold" fill="#262626" font-family='"Liberation Sans", sans-serif' >0</text>
<line x1="32.5" y1="379.75" x2="34.7" y2="379.75" stroke="#9a9a9a" stroke-width="0.8"/>
<line x1="247.3" y1="379.75" x2="245.1" y2="379.75" stroke="#9a9a9a" stroke-width="0.8"/>
<text x="28.9" y="383.05" font-size="8.8" text-anchor="end" font-weight="bold" fill="#262626" font-family='"Liberation Sans", sans-serif' >2</text>
<line x1="32.5" y1="338.8" x2="34.7" y2="338.8" stroke="#9a9a9a" stroke-width="0.8"/>
<line x1="247.3" y1="338.8" x2="245.1" y2="338.8" stroke="#9a9a9a" stroke-width="0.8"/>
<text x="28.9" y="342.1" font-size="8.8" text-anchor="end" font-weight="bold" fill="#262626" font-family='"Liberation Sans", sans-serif' >4</text>
<line x1="32.5" y1="297.85" x2="34.7" y2="297.85" stroke="#9a9a9a" stroke-width="0.8"/>
<line x1="247.3" y1="297.85" x2="245.1" y2="297.85" stroke="#9a9a9a" stroke-width="0.8"/>
<text x="28.9" y="301.15" font-size="8.8" text-anchor="end" font-weight="bold" fill="#262626" font-family='"Liberation Sans", sans-serif' >6</text>
<line x1="32.5" y1="256.9" x2="34.7" y2="256.9" stroke="#9a9a9a" stroke-width="0.8"/>
<line x1="247.3" y1="256.9" x2="245.1" y2="256.9" stroke="#9a9a9a" stroke-width="0.8"/>
<text x="28.9" y="260.2" font-size="8.8" text-anchor="end" font-weight="bold" fill="#262626" font-family='"Liberation Sans", sans-serif' >8</text>
<path d="M32.5,420.7 32.5,410.9 44.5,410.9 44.5,401 56.6,401 56.6,391.2 68.6,391.2 68.6,381.4 80.6,381.4 80.6,371.6 92.6,371.6 92.6,361.7 104.7,361.7 104.7,351.9 116.7,351.9 116.7,342.1 128.7,342.1 128.7,332.2 140.8,332.2 140.8,322.4 152.8,322.4 152.8,312.6 164.8,312.6 164.8,302.8 176.8,302.8 176.8,292.9 188.9,292.9 188.9,283.1 200.9,283.1 200.9,273.3 212.9,273.3" fill="none" stroke="#0072bd" stroke-width="1.5" stroke-linejoin="round" stroke-linecap="butt" />
<path d="M32.5,419.3 32.8,413.8 33,412.1 33.3,411.5 33.5,411.4 33.8,411.3 34,411.3 34.3,411.3 34.5,411.3 34.8,411.3 35,411.3 35.3,411.3 35.5,411.3 35.8,411.3 36,411.3 36.3,411.3 36.5,411.3 36.8,411.3 37,411.3 37.3,411.3 37.5,411.3 37.8,411.3 38,411.3 38.3,411.3 38.5,411.3 38.8,411.3 39,411.3 39.3,411.3 39.5,411.3 39.8,411.3 40,411.3 40.3,411.3 40.5,411.3 40.8,411.3 41,411.3 41.3,411.3 41.5,411.3 41.8,411.3 42,411.3 42.3,411.3 42.5,411.3 42.8,411.3 43,411.3 43.3,411.3 43.5,411.3 43.8,411.3 44,411.3 44.3,411.3 44.5,410.8 44.8,407.7 45,405.7 45.3,404.5 45.5,403.7 45.8,403.1 46,402.8 46.3,402.6 46.5,402.5 46.8,402.4 47,402.3 47.3,402.3 47.5,402.3 47.8,402.2 48,402.2 48.3,402.2 48.5,402.2 48.8,402.2 49,402.2 49.3,402.2 49.5,402.2 49.8,402.2 50,402.2 50.3,402.2 50.5,402.2 50.8,402.2 51,402.2 51.3,402.2 51.5,402.2 51.8,402.2 52,402.2 52.3,402.2 52.5,402.2 52.8,402.2 53,402.3 53.3,402.3 53.6,402.3 53.8,402.3 54.1,402.3 54.3,402.3 54.6,402.3 54.8,402.3 55.1,402.3 55.3,402.3 55.6,402.3 55.8,402.3 56.1,402.3 56.3,402.3 56.6,402 56.8,400.1 57.1,398.6 57.3,397.4 57.6,396.5 57.8,395.8 58.1,395.3 58.3,394.9 58.6,394.6 58.8,394.3 59.1,394.1 59.3,394 59.6,393.8 59.8,393.7 60.1,393.7 60.3,393.6 60.6,393.6 60.8,393.5 61.1,393.5 61.3,393.5 61.6,393.5 61.8,393.5 62.1,393.5 62.3,393.5 62.6,393.5 62.8,393.5 63.1,393.5 63.3,393.5 63.6,393.5 63.8,393.5 64.1,393.5 64.3,393.5 64.6,393.5 64.8,393.5 65.1,393.5 65.3,393.5 65.6,393.5 65.8,393.5 66.1,393.5 66.3,393.5 66.6,393.5 66.8,393.5 67.1,393.5 67.3,393.5 67.6,393.5 67.8,393.5 68.1,393.5 68.3,393.5 68.6,393.3 68.8,392 69.1,390.9 69.3,390 69.6,389.2 69.8,388.5 70.1,387.9 70.3,387.5 70.6,387.1 70.8,386.7 71.1,386.4 71.3,386.2 71.6,386 71.8,385.8 72.1,385.7 72.3,385.6 72.6,385.5 72.8,385.4 73.1,385.3 73.3,385.2 73.6,385.2 73.8,385.1 74.1,385.1 74.4,385.1 74.6,385 74.9,385 75.1,385 75.4,385 75.6,385 75.9,385 76.1,385 76.4,385 76.6,385 76.9,385 77.1,384.9 77.4,384.9 77.6,384.9 77.9,384.9 78.1,384.9 78.4,384.9 78.6,384.9 78.9,384.9 79.1,384.9 79.4,385 79.6,385 79.9,385 80.1,385 80.4,385 80.6,384.8 80.9,383.9 81.1,383 81.4,382.3 81.6,381.6 81.9,381 82.1,380.5 82.4,380.1 82.6,379.7 82.9,379.3 83.1,379 83.4,378.7 83.6,378.5 83.9,378.2 84.1,378 84.4,377.9 84.6,377.7 84.9,377.6 85.1,377.5 85.4,377.4 85.6,377.3 85.9,377.2 86.1,377.1 86.4,377.1 86.6,377 86.9,377 87.1,376.9 87.4,376.9 87.6,376.9 87.9,376.8 88.1,376.8 88.4,376.8 88.6,376.8 88.9,376.8 89.1,376.7 89.4,376.7 89.6,376.7 89.9,376.7 90.1,376.7 90.4,376.7 90.6,376.7 90.9,376.7 91.1,376.7 91.4,376.7 91.6,376.7 91.9,376.7 92.1,376.7 92.4,376.7 92.6,376.6 92.9,375.8 93.1,375.2 93.4,374.6 93.6,374 93.9,373.5 94.1,373.1 94.4,372.6 94.6,372.3 94.9,371.9 95.2,371.6 95.4,371.3 95.7,371.1 95.9,370.8 96.2,370.6 96.4,370.4 96.7,370.3 96.9,370.1 97.2,370 97.4,369.8 97.7,369.7 97.9,369.6 98.2,369.5 98.4,369.4 98.7,369.3 98.9,369.3 99.2,369.2 99.4,369.1 99.7,369.1 99.9,369 100.2,369 100.4,369 100.7,368.9 100.9,368.9 101.2,368.9 101.4,368.8 101.7,368.8 101.9,368.8 102.2,368.8 102.4,368.8 102.7,368.7 102.9,368.7 103.2,368.7 103.4,368.7 103.7,368.7 103.9,368.7 104.2,368.7 104.4,368.7 104.7,368.6 104.9,368 105.2,367.5 105.4,366.9 105.7,366.5 105.9,366.1 106.2,365.7 106.4,365.3 106.7,364.9 106.9,364.6 107.2,364.3 107.4,364.1 107.7,363.8 107.9,363.6 108.2,363.4 108.4,363.2 108.7,363 108.9,362.8 109.2,362.6 109.4,362.5 109.7,362.4 109.9,362.2 110.2,362.1 110.4,362 110.7,361.9 110.9,361.8 111.2,361.7 111.4,361.7 111.7,361.6 111.9,361.5 112.2,361.5 112.4,361.4 112.7,361.4 112.9,361.3 113.2,361.3 113.4,361.2 113.7,361.2 113.9,361.2 114.2,361.1 114.4,361.1 114.7,361.1 114.9,361.1 115.2,361 115.4,361 115.7,361 115.9,361 116.2,361 116.5,361 116.7,360.9 117,360.4 117.2,359.9 117.5,359.5 117.7,359.1 118,358.7 118.2,358.4 118.5,358 118.7,357.7 119,357.4 119.2,357.2 119.5,356.9 119.7,356.7 120,356.4 120.2,356.2 120.5,356 120.7,355.8 121,355.7 121.2,355.5 121.5,355.4 121.7,355.2 122,355.1 122.2,355 122.5,354.8 122.7,354.7 123,354.6 123.2,354.5 123.5,354.4 123.7,354.4 124,354.3 124.2,354.2 124.5,354.1 124.7,354.1 125,354 125.2,354 125.5,353.9 125.7,353.9 126,353.8 126.2,353.8 126.5,353.7 126.7,353.7 127,353.7 127.2,353.6 127.5,353.6 127.7,353.6 128,353.5 128.2,353.5 128.5,353.5 128.7,353.4 129,353 129.2,352.6 129.5,352.2 129.7,351.9 130,351.6 130.2,351.2 130.5,350.9 130.7,350.7 131,350.4 131.2,350.1 131.5,349.9 131.7,349.7 132,349.5 132.2,349.3 132.5,349.1 132.7,348.9 133,348.7 133.2,348.5 133.5,348.4 133.7,348.2 134,348.1 134.2,348 134.5,347.8 134.7,347.7 135,347.6 135.2,347.5 135.5,347.4 135.7,347.3 136,347.2 136.2,347.2 136.5,347.1 136.7,347 137,346.9 137.3,346.9 137.5,346.8 137.8,346.7 138,346.7 138.3,346.6 138.5,346.6 138.8,346.5 139,346.5 139.3,346.5 139.5,346.4 139.8,346.4 140,346.3 140.3,346.3 140.5,346.3 140.8,346.2 141,345.8 141.3,345.5 141.5,345.2 141.8,344.9 142,344.6 142.3,344.3 142.5,344 142.8,343.8 143,343.5 143.3,343.3 143.5,343 143.8,342.8 144,342.6 144.3,342.4 144.5,342.2 144.8,342.1 145,341.9 145.3,341.7 145.5,341.6 145.8,341.4 146,341.3 146.3,341.2 146.5,341 146.8,340.9 147,340.8 147.3,340.7 147.5,340.6 147.8,340.5 148,340.4 148.3,340.3 148.5,340.2 148.8,340.2 149,340.1 149.3,340 149.5,339.9 149.8,339.9 150,339.8 150.3,339.7 150.5,339.7 150.8,339.6 151,339.6 151.3,339.5 151.5,339.5 151.8,339.4 152,339.4 152.3,339.4 152.5,339.3 152.8,339.2 153,338.9 153.3,338.6 153.5,338.3 153.8,338 154,337.8 154.3,337.5 154.5,337.3 154.8,337 155,336.8 155.3,336.6 155.5,336.4 155.8,336.2 156,336 156.3,335.8 156.5,335.6 156.8,335.4 157,335.3 157.3,335.1 157.5,335 157.8,334.8 158.1,334.7 158.3,334.6 158.6,334.4 158.8,334.3 159.1,334.2 159.3,334.1 159.6,334 159.8,333.9 160.1,333.8 160.3,333.7 160.6,333.6 160.8,333.5 161.1,333.4 161.3,333.3 161.6,333.3 161.8,333.2 162.1,333.1 162.3,333.1 162.6,333 162.8,332.9 163.1,332.9 163.3,332.8 163.6,332.8 163.8,332.7 164.1,332.7 164.3,332.6 164.6,332.6 164.8,332.5 165.1,332.2 165.3,331.9 165.6,331.7 165.8,331.4 166.1,331.2 166.3,330.9 166.6,330.7 166.8,330.5 167.1,330.3 167.3,330.1 167.6,329.9 167.8,329.7 168.1,329.5 168.3,329.3 168.6,329.1 168.8,329 169.1,328.8 169.3,328.7 169.6,328.5 169.8,328.4 170.1,328.2 170.3,328.1 170.6,328 170.8,327.9 171.1,327.7 171.3,327.6 171.6,327.5 171.8,327.4 172.1,327.3 172.3,327.2 172.6,327.1 172.8,327 173.1,327 173.3,326.9 173.6,326.8 173.8,326.7 174.1,326.6 174.3,326.6 174.6,326.5 174.8,326.4 175.1,326.4 175.3,326.3 175.6,326.3 175.8,326.2 176.1,326.1 176.3,326.1 176.6,326 176.8,326 177.1,325.7 177.3,325.5 177.6,325.2 177.8,325 178.1,324.7 178.3,324.5 178.6,324.3 178.9,324.1 179.1,323.9 179.4,323.7 179.6,323.5 179.9,323.3 180.1,323.2 180.4,323 180.6,322.8 180.9,322.7 181.1,322.5 181.4,322.4 181.6,322.2 181.9,322.1 182.1,322 182.4,321.8 182.6,321.7 182.9,321.6 183.1,321.5 183.4,321.4 183.6,321.3 183.9,321.2 184.1,321.1 184.4,321 184.6,320.9 184.9,320.8 185.1,320.7 185.4,320.6 185.6,320.5 185.9,320.4 186.1,320.4 186.4,320.3 186.6,320.2 186.9,320.1 187.1,320.1 187.4,320 187.6,319.9 187.9,319.9 188.1,319.8 188.4,319.8 188.6,319.7 188.9,319.6 189.1,319.4 189.4,319.2 189.6,318.9 189.9,318.7 190.1,318.5 190.4,318.3 190.6,318.1 190.9,317.9 191.1,317.7 191.4,317.5 191.6,317.4 191.9,317.2 192.1,317 192.4,316.9 192.6,316.7 192.9,316.6 193.1,316.4 193.4,316.3 193.6,316.1 193.9,316 194.1,315.9 194.4,315.7 194.6,315.6 194.9,315.5 195.1,315.4 195.4,315.3 195.6,315.2 195.9,315.1 196.1,315 196.4,314.9 196.6,314.8 196.9,314.7 197.1,314.6 197.4,314.5 197.6,314.4 197.9,314.3 198.1,314.3 198.4,314.2 198.6,314.1 198.9,314 199.1,314 199.4,313.9 199.7,313.8 199.9,313.8 200.2,313.7 200.4,313.6 200.7,313.6 200.9,313.5 201.2,313.3 201.4,313.1 201.7,312.9 201.9,312.7 202.2,312.5 202.4,312.3 202.7,312.1 202.9,311.9 203.2,311.7 203.4,311.6 203.7,311.4 203.9,311.2 204.2,311.1 204.4,310.9 204.7,310.8 204.9,310.6 205.2,310.5 205.4,310.3 205.7,310.2 205.9,310.1 206.2,309.9 206.4,309.8 206.7,309.7 206.9,309.6 207.2,309.5 207.4,309.4 207.7,309.3 207.9,309.1 208.2,309 208.4,308.9 208.7,308.9 208.9,308.8 209.2,308.7 209.4,308.6 209.7,308.5 209.9,308.4 210.2,308.3 210.4,308.3 210.7,308.2 210.9,308.1 211.2,308 211.4,308 211.7,307.9 211.9,307.8 212.2,307.8 212.4,307.7 212.7,307.6 212.9,307.6" fill="none" stroke="#edb120" stroke-width="1.5" stroke-linejoin="round" stroke-linecap="butt" />
<path d="M32.5,420.6 32.8,420.4 33,420.3 33.3,420.3 33.5,420.3 33.8,420.3 34,420.3 34.3,420.3 34.5,420.3 34.8,420.3 35,420.3 35.3,420.3 35.5,420.3 35.8,420.3 36,420.3 36.3,420.3 36.5,420.3 36.8,420.3 37,420.3 37.3,420.3 37.5,420.3 37.8,420.3 38,420.3 38.3,420.3 38.5,420.3 38.8,420.3 39,420.3 39.3,420.3 39.5,420.3 39.8,420.3 40,420.3 40.3,420.3 40.5,420.3 40.8,420.3 41,420.3 41.3,420.3 41.5,420.3 41.8,420.3 42,420.3 42.3,420.3 42.5,420.2 42.8,420.2 43,420.2 43.3,420.2 43.5,420.2 43.8,420.2 44,420.2 44.3,420.2 44.5,420.2 44.8,420 45,419.8 45.3,419.7 45.5,419.7 45.8,419.6 46,419.6 46.3,419.6 46.5,419.6 46.8,419.5 47,419.5 47.3,419.5 47.5,419.5 47.8,419.5 48,419.5 48.3,419.5 48.5,419.5 48.8,419.5 49,419.5 49.3,419.5 49.5,419.5 49.8,419.5 50,419.5 50.3,419.5 50.5,419.5 50.8,419.5 51,419.5 51.3,419.5 51.5,419.5 51.8,419.5 52,419.5 52.3,419.5 52.5,419.5 52.8,419.5 53,419.5 53.3,419.5 53.6,419.5 53.8,419.5 54.1,419.5 54.3,419.5 54.6,419.5 54.8,419.5 55.1,419.5 55.3,419.5 55.6,419.5 55.8,419.5 56.1,419.5 56.3,419.5 56.6,419.4 56.8,419.2 57.1,419.1 57.3,419 57.6,418.9 57.8,418.8 58.1,418.7 58.3,418.7 58.6,418.6 58.8,418.6 59.1,418.6 59.3,418.6 59.6,418.5 59.8,418.5 60.1,418.5 60.3,418.5 60.6,418.5 60.8,418.5 61.1,418.5 61.3,418.5 61.6,418.5 61.8,418.5 62.1,418.5 62.3,418.5 62.6,418.5 62.8,418.5 63.1,418.5 63.3,418.5 63.6,418.5 63.8,418.5 64.1,418.5 64.3,418.5 64.6,418.5 64.8,418.5 65.1,418.5 65.3,418.5 65.6,418.5 65.8,418.5 66.1,418.4 66.3,418.4 66.6,418.4 66.8,418.4 67.1,418.4 67.3,418.4 67.6,418.4 67.8,418.4 68.1,418.4 68.3,418.4 68.6,418.4 68.8,418.2 69.1,418.1 69.3,417.9 69.6,417.8 69.8,417.7 70.1,417.7 70.3,417.6 70.6,417.5 70.8,417.5 71.1,417.4 71.3,417.4 71.6,417.4 71.8,417.4 72.1,417.3 72.3,417.3 72.6,417.3 72.8,417.3 73.1,417.3 73.3,417.3 73.6,417.2 73.8,417.2 74.1,417.2 74.4,417.2 74.6,417.2 74.9,417.2 75.1,417.2 75.4,417.2 75.6,417.2 75.9,417.2 76.1,417.2 76.4,417.2 76.6,417.2 76.9,417.2 77.1,417.2 77.4,417.2 77.6,417.2 77.9,417.2 78.1,417.2 78.4,417.2 78.6,417.2 78.9,417.2 79.1,417.1 79.4,417.1 79.6,417.1 79.9,417.1 80.1,417.1 80.4,417.1 80.6,417.1 80.9,416.9 81.1,416.8 81.4,416.7 81.6,416.6 81.9,416.5 82.1,416.4 82.4,416.3 82.6,416.2 82.9,416.2 83.1,416.1 83.4,416.1 83.6,416 83.9,416 84.1,415.9 84.4,415.9 84.6,415.9 84.9,415.9 85.1,415.8 85.4,415.8 85.6,415.8 85.9,415.8 86.1,415.8 86.4,415.8 86.6,415.7 86.9,415.7 87.1,415.7 87.4,415.7 87.6,415.7 87.9,415.7 88.1,415.7 88.4,415.7 88.6,415.7 88.9,415.7 89.1,415.7 89.4,415.7 89.6,415.7 89.9,415.6 90.1,415.6 90.4,415.6 90.6,415.6 90.9,415.6 91.1,415.6 91.4,415.6 91.6,415.6 91.9,415.6 92.1,415.6 92.4,415.6 92.6,415.6 92.9,415.4 93.1,415.3 93.4,415.2 93.6,415.1 93.9,415 94.1,414.9 94.4,414.8 94.6,414.7 94.9,414.6 95.2,414.6 95.4,414.5 95.7,414.5 95.9,414.4 96.2,414.4 96.4,414.3 96.7,414.3 96.9,414.3 97.2,414.2 97.4,414.2 97.7,414.2 97.9,414.2 98.2,414.1 98.4,414.1 98.7,414.1 98.9,414.1 99.2,414.1 99.4,414 99.7,414 99.9,414 100.2,414 100.4,414 100.7,414 100.9,414 101.2,414 101.4,413.9 101.7,413.9 101.9,413.9 102.2,413.9 102.4,413.9 102.7,413.9 102.9,413.9 103.2,413.9 103.4,413.9 103.7,413.9 103.9,413.9 104.2,413.9 104.4,413.9 104.7,413.8 104.9,413.7 105.2,413.6 105.4,413.5 105.7,413.4 105.9,413.3 106.2,413.2 106.4,413.1 106.7,413 106.9,412.9 107.2,412.8 107.4,412.8 107.7,412.7 107.9,412.7 108.2,412.6 108.4,412.6 108.7,412.5 108.9,412.5 109.2,412.4 109.4,412.4 109.7,412.4 109.9,412.3 110.2,412.3 110.4,412.3 110.7,412.2 110.9,412.2 111.2,412.2 111.4,412.2 111.7,412.2 111.9,412.1 112.2,412.1 112.4,412.1 112.7,412.1 112.9,412.1 113.2,412.1 113.4,412 113.7,412 113.9,412 114.2,412 114.4,412 114.7,412 114.9,412 115.2,412 115.4,412 115.7,411.9 115.9,411.9 116.2,411.9 116.5,411.9 116.7,411.9 117,411.8 117.2,411.6 117.5,411.5 117.7,411.4 118,411.3 118.2,411.2 118.5,411.1 118.7,411.1 119,411 119.2,410.9 119.5,410.8 119.7,410.8 120,410.7 120.2,410.7 120.5,410.6 120.7,410.6 121,410.5 121.2,410.5 121.5,410.4 121.7,410.4 122,410.3 122.2,410.3 122.5,410.3 122.7,410.2 123,410.2 123.2,410.2 123.5,410.1 123.7,410.1 124,410.1 124.2,410.1 124.5,410 124.7,410 125,410 125.2,410 125.5,410 125.7,409.9 126,409.9 126.2,409.9 126.5,409.9 126.7,409.9 127,409.9 127.2,409.9 127.5,409.8 127.7,409.8 128,409.8 128.2,409.8 128.5,409.8 128.7,409.8 129,409.6 129.2,409.5 129.5,409.4 129.7,409.3 130,409.2 130.2,409.1 130.5,409 130.7,408.9 131,408.9 131.2,408.8 131.5,408.7 131.7,408.6 132,408.6 132.2,408.5 132.5,408.5 132.7,408.4 133,408.3 133.2,408.3 133.5,408.2 133.7,408.2 134,408.1 134.2,408.1 134.5,408.1 134.7,408 135,408 135.2,408 135.5,407.9 135.7,407.9 136,407.9 136.2,407.8 136.5,407.8 136.7,407.8 137,407.7 137.3,407.7 137.5,407.7 137.8,407.7 138,407.7 138.3,407.6 138.5,407.6 138.8,407.6 139,407.6 139.3,407.6 139.5,407.5 139.8,407.5 140,407.5 140.3,407.5 140.5,407.5 140.8,407.4 141,407.3 141.3,407.2 141.5,407.1 141.8,407 142,406.9 142.3,406.8 142.5,406.7 142.8,406.6 143,406.6 143.3,406.5 143.5,406.4 143.8,406.3 144,406.3 144.3,406.2 144.5,406.1 144.8,406.1 145,406 145.3,405.9 145.5,405.9 145.8,405.8 146,405.8 146.3,405.7 146.5,405.7 146.8,405.6 147,405.6 147.3,405.6 147.5,405.5 147.8,405.5 148,405.5 148.3,405.4 148.5,405.4 148.8,405.4 149,405.3 149.3,405.3 149.5,405.3 149.8,405.2 150,405.2 150.3,405.2 150.5,405.2 150.8,405.1 151,405.1 151.3,405.1 151.5,405.1 151.8,405 152,405 152.3,405 152.5,405 152.8,405 153,404.8 153.3,404.7 153.5,404.6 153.8,404.5 154,404.4 154.3,404.3 154.5,404.2 154.8,404.1 155,404.1 155.3,404 155.5,403.9 155.8,403.8 156,403.7 156.3,403.7 156.5,403.6 156.8,403.5 157,403.5 157.3,403.4 157.5,403.4 157.8,403.3 158.1,403.2 158.3,403.2 158.6,403.1 158.8,403.1 159.1,403.1 159.3,403 159.6,403 159.8,402.9 160.1,402.9 160.3,402.8 160.6,402.8 160.8,402.8 161.1,402.7 161.3,402.7 161.6,402.7 161.8,402.6 162.1,402.6 162.3,402.6 162.6,402.5 162.8,402.5 163.1,402.5 163.3,402.5 163.6,402.4 163.8,402.4 164.1,402.4 164.3,402.4 164.6,402.3 164.8,402.3 165.1,402.2 165.3,402.1 165.6,402 165.8,401.9 166.1,401.8 166.3,401.7 166.6,401.6 166.8,401.5 167.1,401.4 167.3,401.3 167.6,401.2 167.8,401.1 168.1,401.1 168.3,401 168.6,400.9 168.8,400.9 169.1,400.8 169.3,400.7 169.6,400.7 169.8,400.6 170.1,400.5 170.3,400.5 170.6,400.4 170.8,400.4 171.1,400.3 171.3,400.3 171.6,400.2 171.8,400.2 172.1,400.1 172.3,400.1 172.6,400 172.8,400 173.1,400 173.3,399.9 173.6,399.9 173.8,399.9 174.1,399.8 174.3,399.8 174.6,399.7 174.8,399.7 175.1,399.7 175.3,399.7 175.6,399.6 175.8,399.6 176.1,399.6 176.3,399.5 176.6,399.5 176.8,399.5 177.1,399.4 177.3,399.2 177.6,399.1 177.8,399 178.1,398.9 178.3,398.8 178.6,398.7 178.9,398.6 179.1,398.6 179.4,398.5 179.6,398.4 179.9,398.3 180.1,398.2 180.4,398.1 180.6,398.1 180.9,398 181.1,397.9 181.4,397.9 181.6,397.8 181.9,397.7 182.1,397.7 182.4,397.6 182.6,397.5 182.9,397.5 183.1,397.4 183.4,397.4 183.6,397.3 183.9,397.3 184.1,397.2 184.4,397.2 184.6,397.1 184.9,397.1 185.1,397 185.4,397 185.6,397 185.9,396.9 186.1,396.9 186.4,396.8 186.6,396.8 186.9,396.8 187.1,396.7 187.4,396.7 187.6,396.7 187.9,396.6 188.1,396.6 188.4,396.6 188.6,396.5 188.9,396.5 189.1,396.4 189.4,396.3 189.6,396.1 189.9,396 190.1,395.9 190.4,395.8 190.6,395.7 190.9,395.7 191.1,395.6 191.4,395.5 191.6,395.4 191.9,395.3 192.1,395.2 192.4,395.1 192.6,395.1 192.9,395 193.1,394.9 193.4,394.8 193.6,394.8 193.9,394.7 194.1,394.6 194.4,394.6 194.6,394.5 194.9,394.4 195.1,394.4 195.4,394.3 195.6,394.3 195.9,394.2 196.1,394.2 196.4,394.1 196.6,394 196.9,394 197.1,394 197.4,393.9 197.6,393.9 197.9,393.8 198.1,393.8 198.4,393.7 198.6,393.7 198.9,393.6 199.1,393.6 199.4,393.6 199.7,393.5 199.9,393.5 200.2,393.4 200.4,393.4 200.7,393.4 200.9,393.3 201.2,393.2 201.4,393.1 201.7,393 201.9,392.9 202.2,392.8 202.4,392.7 202.7,392.6 202.9,392.5 203.2,392.4 203.4,392.3 203.7,392.2 203.9,392.1 204.2,392 204.4,392 204.7,391.9 204.9,391.8 205.2,391.7 205.4,391.6 205.7,391.6 205.9,391.5 206.2,391.4 206.4,391.4 206.7,391.3 206.9,391.2 207.2,391.2 207.4,391.1 207.7,391 207.9,391 208.2,390.9 208.4,390.9 208.7,390.8 208.9,390.8 209.2,390.7 209.4,390.7 209.7,390.6 209.9,390.6 210.2,390.5 210.4,390.5 210.7,390.4 210.9,390.4 211.2,390.3 211.4,390.3 211.7,390.2 211.9,390.2 212.2,390.1 212.4,390.1 212.7,390.1 212.9,390" fill="none" stroke="#d95319" stroke-width="1.5" stroke-linejoin="round" stroke-linecap="butt" />
<path d="M32.5,419.2 32.8,413.5 33,411.7 33.3,411.1 33.5,411 33.8,410.9 34,410.9 34.3,410.9 34.5,410.9 34.8,410.9 35,410.9 35.3,410.9 35.5,410.9 35.8,410.9 36,410.9 36.3,410.9 36.5,410.9 36.8,410.9 37,410.9 37.3,410.9 37.5,410.9 37.8,410.9 38,410.9 38.3,410.9 38.5,410.9 38.8,410.9 39,410.9 39.3,410.9 39.5,410.9 39.8,410.9 40,410.9 40.3,410.9 40.5,410.9 40.8,410.9 41,410.9 41.3,410.9 41.5,410.9 41.8,410.9 42,410.9 42.3,410.9 42.5,410.9 42.8,410.9 43,410.9 43.3,410.9 43.5,410.9 43.8,410.9 44,410.9 44.3,410.9 44.5,410.3 44.8,407 45,404.9 45.3,403.5 45.5,402.6 45.8,402.1 46,401.7 46.3,401.5 46.5,401.3 46.8,401.2 47,401.2 47.3,401.1 47.5,401.1 47.8,401.1 48,401.1 48.3,401.1 48.5,401.1 48.8,401 49,401 49.3,401 49.5,401 49.8,401 50,401 50.3,401 50.5,401 50.8,401 51,401 51.3,401 51.5,401 51.8,401 52,401 52.3,401 52.5,401 52.8,401 53,401 53.3,401 53.6,401 53.8,401 54.1,401 54.3,401 54.6,401 54.8,401 55.1,401 55.3,401 55.6,401 55.8,401 56.1,401 56.3,401 56.6,400.7 56.8,398.6 57.1,397 57.3,395.7 57.6,394.7 57.8,393.9 58.1,393.3 58.3,392.9 58.6,392.5 58.8,392.2 59.1,392 59.3,391.8 59.6,391.7 59.8,391.6 60.1,391.5 60.3,391.4 60.6,391.4 60.8,391.3 61.1,391.3 61.3,391.3 61.6,391.3 61.8,391.3 62.1,391.3 62.3,391.2 62.6,391.2 62.8,391.2 63.1,391.2 63.3,391.2 63.6,391.2 63.8,391.2 64.1,391.2 64.3,391.2 64.6,391.2 64.8,391.2 65.1,391.2 65.3,391.2 65.6,391.2 65.8,391.2 66.1,391.2 66.3,391.2 66.6,391.2 66.8,391.2 67.1,391.2 67.3,391.2 67.6,391.2 67.8,391.2 68.1,391.2 68.3,391.2 68.6,391 68.8,389.5 69.1,388.3 69.3,387.2 69.6,386.3 69.8,385.5 70.1,384.9 70.3,384.4 70.6,383.9 70.8,383.5 71.1,383.2 71.3,382.9 71.6,382.7 71.8,382.5 72.1,382.3 72.3,382.2 72.6,382 72.8,381.9 73.1,381.9 73.3,381.8 73.6,381.7 73.8,381.7 74.1,381.6 74.4,381.6 74.6,381.6 74.9,381.5 75.1,381.5 75.4,381.5 75.6,381.5 75.9,381.5 76.1,381.5 76.4,381.4 76.6,381.4 76.9,381.4 77.1,381.4 77.4,381.4 77.6,381.4 77.9,381.4 78.1,381.4 78.4,381.4 78.6,381.4 78.9,381.4 79.1,381.4 79.4,381.4 79.6,381.4 79.9,381.4 80.1,381.4 80.4,381.4 80.6,381.2 80.9,380.1 81.1,379.1 81.4,378.2 81.6,377.5 81.9,376.8 82.1,376.2 82.4,375.7 82.6,375.2 82.9,374.8 83.1,374.4 83.4,374.1 83.6,373.8 83.9,373.5 84.1,373.3 84.4,373.1 84.6,372.9 84.9,372.8 85.1,372.6 85.4,372.5 85.6,372.4 85.9,372.3 86.1,372.2 86.4,372.1 86.6,372.1 86.9,372 87.1,372 87.4,371.9 87.6,371.9 87.9,371.8 88.1,371.8 88.4,371.8 88.6,371.8 88.9,371.7 89.1,371.7 89.4,371.7 89.6,371.7 89.9,371.7 90.1,371.7 90.4,371.6 90.6,371.6 90.9,371.6 91.1,371.6 91.4,371.6 91.6,371.6 91.9,371.6 92.1,371.6 92.4,371.6 92.6,371.5 92.9,370.6 93.1,369.8 93.4,369 93.6,368.4 93.9,367.8 94.1,367.2 94.4,366.7 94.6,366.3 94.9,365.9 95.2,365.5 95.4,365.2 95.7,364.8 95.9,364.6 96.2,364.3 96.4,364.1 96.7,363.9 96.9,363.7 97.2,363.5 97.4,363.3 97.7,363.2 97.9,363.1 98.2,362.9 98.4,362.8 98.7,362.7 98.9,362.6 99.2,362.6 99.4,362.5 99.7,362.4 99.9,362.4 100.2,362.3 100.4,362.2 100.7,362.2 100.9,362.2 101.2,362.1 101.4,362.1 101.7,362.1 101.9,362 102.2,362 102.4,362 102.7,361.9 102.9,361.9 103.2,361.9 103.4,361.9 103.7,361.9 103.9,361.9 104.2,361.9 104.4,361.8 104.7,361.7 104.9,361 105.2,360.3 105.4,359.7 105.7,359.1 105.9,358.6 106.2,358.1 106.4,357.7 106.7,357.2 106.9,356.8 107.2,356.5 107.4,356.1 107.7,355.8 107.9,355.5 108.2,355.3 108.4,355 108.7,354.8 108.9,354.6 109.2,354.4 109.4,354.2 109.7,354 109.9,353.9 110.2,353.7 110.4,353.6 110.7,353.5 110.9,353.4 111.2,353.2 111.4,353.1 111.7,353.1 111.9,353 112.2,352.9 112.4,352.8 112.7,352.8 112.9,352.7 113.2,352.6 113.4,352.6 113.7,352.5 113.9,352.5 114.2,352.4 114.4,352.4 114.7,352.4 114.9,352.3 115.2,352.3 115.4,352.3 115.7,352.2 115.9,352.2 116.2,352.2 116.5,352.2 116.7,352.1 117,351.5 117.2,350.9 117.5,350.3 117.7,349.8 118,349.3 118.2,348.9 118.5,348.5 118.7,348.1 119,347.7 119.2,347.4 119.5,347 119.7,346.7 120,346.5 120.2,346.2 120.5,345.9 120.7,345.7 121,345.5 121.2,345.3 121.5,345.1 121.7,344.9 122,344.7 122.2,344.5 122.5,344.4 122.7,344.3 123,344.1 123.2,344 123.5,343.9 123.7,343.8 124,343.7 124.2,343.6 124.5,343.5 124.7,343.4 125,343.3 125.2,343.2 125.5,343.2 125.7,343.1 126,343 126.2,343 126.5,342.9 126.7,342.9 127,342.8 127.2,342.8 127.5,342.7 127.7,342.7 128,342.7 128.2,342.6 128.5,342.6 128.7,342.5 129,341.9 129.2,341.4 129.5,341 129.7,340.5 130,340.1 130.2,339.7 130.5,339.3 130.7,338.9 131,338.5 131.2,338.2 131.5,337.9 131.7,337.6 132,337.3 132.2,337.1 132.5,336.8 132.7,336.6 133,336.3 133.2,336.1 133.5,335.9 133.7,335.7 134,335.6 134.2,335.4 134.5,335.2 134.7,335.1 135,334.9 135.2,334.8 135.5,334.6 135.7,334.5 136,334.4 136.2,334.3 136.5,334.2 136.7,334.1 137,334 137.3,333.9 137.5,333.8 137.8,333.7 138,333.6 138.3,333.6 138.5,333.5 138.8,333.4 139,333.4 139.3,333.3 139.5,333.3 139.8,333.2 140,333.2 140.3,333.1 140.5,333.1 140.8,333 141,332.5 141.3,332 141.5,331.6 141.8,331.2 142,330.8 142.3,330.4 142.5,330 142.8,329.7 143,329.4 143.3,329 143.5,328.7 143.8,328.5 144,328.2 144.3,327.9 144.5,327.7 144.8,327.4 145,327.2 145.3,327 145.5,326.8 145.8,326.6 146,326.4 146.3,326.2 146.5,326 146.8,325.9 147,325.7 147.3,325.6 147.5,325.4 147.8,325.3 148,325.2 148.3,325 148.5,324.9 148.8,324.8 149,324.7 149.3,324.6 149.5,324.5 149.8,324.4 150,324.3 150.3,324.2 150.5,324.1 150.8,324.1 151,324 151.3,323.9 151.5,323.8 151.8,323.8 152,323.7 152.3,323.7 152.5,323.6 152.8,323.5 153,323.1 153.3,322.6 153.5,322.2 153.8,321.9 154,321.5 154.3,321.1 154.5,320.8 154.8,320.5 155,320.2 155.3,319.9 155.5,319.6 155.8,319.3 156,319 156.3,318.8 156.5,318.5 156.8,318.3 157,318.1 157.3,317.8 157.5,317.6 157.8,317.4 158.1,317.2 158.3,317.1 158.6,316.9 158.8,316.7 159.1,316.5 159.3,316.4 159.6,316.2 159.8,316.1 160.1,315.9 160.3,315.8 160.6,315.7 160.8,315.6 161.1,315.4 161.3,315.3 161.6,315.2 161.8,315.1 162.1,315 162.3,314.9 162.6,314.8 162.8,314.7 163.1,314.7 163.3,314.6 163.6,314.5 163.8,314.4 164.1,314.3 164.3,314.3 164.6,314.2 164.8,314.1 165.1,313.7 165.3,313.3 165.6,312.9 165.8,312.6 166.1,312.2 166.3,311.9 166.6,311.6 166.8,311.3 167.1,311 167.3,310.7 167.6,310.4 167.8,310.1 168.1,309.9 168.3,309.6 168.6,309.4 168.8,309.1 169.1,308.9 169.3,308.7 169.6,308.5 169.8,308.3 170.1,308.1 170.3,307.9 170.6,307.7 170.8,307.5 171.1,307.4 171.3,307.2 171.6,307.1 171.8,306.9 172.1,306.8 172.3,306.6 172.6,306.5 172.8,306.3 173.1,306.2 173.3,306.1 173.6,306 173.8,305.9 174.1,305.8 174.3,305.7 174.6,305.5 174.8,305.4 175.1,305.4 175.3,305.3 175.6,305.2 175.8,305.1 176.1,305 176.3,304.9 176.6,304.9 176.8,304.7 177.1,304.4 177.3,304 177.6,303.6 177.8,303.3 178.1,303 178.3,302.7 178.6,302.4 178.9,302.1 179.1,301.8 179.4,301.5 179.6,301.2 179.9,301 180.1,300.7 180.4,300.5 180.6,300.2 180.9,300 181.1,299.8 181.4,299.5 181.6,299.3 181.9,299.1 182.1,298.9 182.4,298.7 182.6,298.6 182.9,298.4 183.1,298.2 183.4,298 183.6,297.9 183.9,297.7 184.1,297.6 184.4,297.4 184.6,297.3 184.9,297.2 185.1,297 185.4,296.9 185.6,296.8 185.9,296.6 186.1,296.5 186.4,296.4 186.6,296.3 186.9,296.2 187.1,296.1 187.4,296 187.6,295.9 187.9,295.8 188.1,295.7 188.4,295.6 188.6,295.5 188.9,295.4 189.1,295.1 189.4,294.7 189.6,294.4 189.9,294.1 190.1,293.8 190.4,293.5 190.6,293.2 190.9,292.9 191.1,292.6 191.4,292.3 191.6,292.1 191.9,291.8 192.1,291.6 192.4,291.3 192.6,291.1 192.9,290.8 193.1,290.6 193.4,290.4 193.6,290.2 193.9,290 194.1,289.8 194.4,289.6 194.6,289.4 194.9,289.2 195.1,289.1 195.4,288.9 195.6,288.7 195.9,288.6 196.1,288.4 196.4,288.3 196.6,288.1 196.9,288 197.1,287.8 197.4,287.7 197.6,287.6 197.9,287.4 198.1,287.3 198.4,287.2 198.6,287.1 198.9,287 199.1,286.9 199.4,286.7 199.7,286.6 199.9,286.5 200.2,286.4 200.4,286.4 200.7,286.3 200.9,286.1 201.2,285.8 201.4,285.5 201.7,285.2 201.9,284.8 202.2,284.5 202.4,284.3 202.7,284 202.9,283.7 203.2,283.4 203.4,283.2 203.7,282.9 203.9,282.7 204.2,282.4 204.4,282.2 204.7,281.9 204.9,281.7 205.2,281.5 205.4,281.3 205.7,281.1 205.9,280.9 206.2,280.7 206.4,280.5 206.7,280.3 206.9,280.1 207.2,279.9 207.4,279.8 207.7,279.6 207.9,279.4 208.2,279.3 208.4,279.1 208.7,279 208.9,278.8 209.2,278.7 209.4,278.5 209.7,278.4 209.9,278.3 210.2,278.1 210.4,278 210.7,277.9 210.9,277.8 211.2,277.6 211.4,277.5 211.7,277.4 211.9,277.3 212.2,277.2 212.4,277.1 212.7,277 212.9,276.9" fill="none" stroke="#77ac30" stroke-width="1.5" stroke-linejoin="round" stroke-linecap="butt" />
<text x="57.3" y="253.6" font-size="10.2" text-anchor="start" font-weight="bold" fill="#0a0a0a" font-family='"Liberation Sans", sans-serif' >Energy balance over build (120 s Delay)</text>
<text x="33" y="255.1" font-size="11.8" text-anchor="start" font-weight="normal" fill="#262626" font-family='"Liberation Sans", sans-serif' >×</text>
<text x="40.1" y="254.5" font-size="9.9" text-anchor="start" font-weight="normal" fill="#262626" font-family='"Liberation Sans", sans-serif' >10</text>
<text x="51.6" y="250.7" font-size="7.6" text-anchor="start" font-weight="normal" fill="#262626" font-family='"Liberation Sans", sans-serif' >6</text>
<rect x="38.3" y="264.5" width="109.5" height="45.2" fill="#fff" stroke="#c4c4c4" stroke-width="0.9"/>
<line x1="40.9" y1="271.1" x2="60.5" y2="271.1" stroke="#0072bd" stroke-width="1.5"/>
<text x="62.3" y="274.1" font-size="8.35" text-anchor="start" font-weight="bold" fill="#0a0a0a" font-family='"Liberation Sans", sans-serif' >Heat input</text>
<line x1="40.9" y1="281.6" x2="60.5" y2="281.6" stroke="#d95319" stroke-width="1.5"/>
<text x="62.3" y="284.6" font-size="8.35" text-anchor="start" font-weight="bold" fill="#0a0a0a" font-family='"Liberation Sans", sans-serif' >Convecton+radiation</text>
<line x1="40.9" y1="292.3" x2="60.5" y2="292.3" stroke="#edb120" stroke-width="1.5"/>
<text x="62.3" y="295.3" font-size="8.35" text-anchor="start" font-weight="bold" fill="#0a0a0a" font-family='"Liberation Sans", sans-serif' >Conduction to base</text>
<line x1="40.9" y1="303.4" x2="60.5" y2="303.4" stroke="#77ac30" stroke-width="1.5"/>
<text x="62.3" y="306.4" font-size="8.35" text-anchor="start" font-weight="bold" fill="#0a0a0a" font-family='"Liberation Sans", sans-serif' >Total transferred out</text>
<text x="0" y="0" font-size="10.2" font-weight="bold" fill="#262626" font-family='"Liberation Sans", sans-serif' text-anchor="middle" transform="translate(19.6,338.8) rotate(-90)">Heat transfer (J/m)</text>
<text x="139.9" y="446.8" font-size="10.0" text-anchor="middle" font-weight="bold" fill="#262626" font-family='"Liberation Sans", sans-serif' >Time (s)</text>
<rect x="30.2" y="494" width="217.3" height="163.5" fill="none" stroke="#bababa" stroke-width="1.3"/>
<line x1="30.2" y1="657.5" x2="30.2" y2="655.3" stroke="#9a9a9a" stroke-width="0.8"/>
<line x1="30.2" y1="494" x2="30.2" y2="496.2" stroke="#9a9a9a" stroke-width="0.8"/>
<text x="30.2" y="670.5" font-size="8.8" text-anchor="middle" font-weight="bold" fill="#262626" font-family='"Liberation Sans", sans-serif' >0</text>
<line x1="66.42" y1="657.5" x2="66.42" y2="655.3" stroke="#9a9a9a" stroke-width="0.8"/>
<line x1="66.42" y1="494" x2="66.42" y2="496.2" stroke="#9a9a9a" stroke-width="0.8"/>
<text x="66.42" y="670.5" font-size="8.8" text-anchor="middle" font-weight="bold" fill="#262626" font-family='"Liberation Sans", sans-serif' >1000</text>
<line x1="102.63" y1="657.5" x2="102.63" y2="655.3" stroke="#9a9a9a" stroke-width="0.8"/>
<line x1="102.63" y1="494" x2="102.63" y2="496.2" stroke="#9a9a9a" stroke-width="0.8"/>
<text x="102.63" y="670.5" font-size="8.8" text-anchor="middle" font-weight="bold" fill="#262626" font-family='"Liberation Sans", sans-serif' >2000</text>
<line x1="138.85" y1="657.5" x2="138.85" y2="655.3" stroke="#9a9a9a" stroke-width="0.8"/>
<line x1="138.85" y1="494" x2="138.85" y2="496.2" stroke="#9a9a9a" stroke-width="0.8"/>
<text x="138.85" y="670.5" font-size="8.8" text-anchor="middle" font-weight="bold" fill="#262626" font-family='"Liberation Sans", sans-serif' >3000</text>
<line x1="175.07" y1="657.5" x2="175.07" y2="655.3" stroke="#9a9a9a" stroke-width="0.8"/>
<line x1="175.07" y1="494" x2="175.07" y2="496.2" stroke="#9a9a9a" stroke-width="0.8"/>
<text x="175.07" y="670.5" font-size="8.8" text-anchor="middle" font-weight="bold" fill="#262626" font-family='"Liberation Sans", sans-serif' >4000</text>
<line x1="211.28" y1="657.5" x2="211.28" y2="655.3" stroke="#9a9a9a" stroke-width="0.8"/>
<line x1="211.28" y1="494" x2="211.28" y2="496.2" stroke="#9a9a9a" stroke-width="0.8"/>
<text x="211.28" y="670.5" font-size="8.8" text-anchor="middle" font-weight="bold" fill="#262626" font-family='"Liberation Sans", sans-serif' >5000</text>
<line x1="247.5" y1="657.5" x2="247.5" y2="655.3" stroke="#9a9a9a" stroke-width="0.8"/>
<line x1="247.5" y1="494" x2="247.5" y2="496.2" stroke="#9a9a9a" stroke-width="0.8"/>
<text x="247.5" y="670.5" font-size="8.8" text-anchor="middle" font-weight="bold" fill="#262626" font-family='"Liberation Sans", sans-serif' >6000</text>
<line x1="30.2" y1="657.5" x2="32.4" y2="657.5" stroke="#9a9a9a" stroke-width="0.8"/>
<line x1="247.5" y1="657.5" x2="245.3" y2="657.5" stroke="#9a9a9a" stroke-width="0.8"/>
<text x="26.6" y="660.8" font-size="8.8" text-anchor="end" font-weight="bold" fill="#262626" font-family='"Liberation Sans", sans-serif' >0</text>
<line x1="30.2" y1="637.06" x2="32.4" y2="637.06" stroke="#9a9a9a" stroke-width="0.8"/>
<line x1="247.5" y1="637.06" x2="245.3" y2="637.06" stroke="#9a9a9a" stroke-width="0.8"/>
<text x="26.6" y="640.36" font-size="8.8" text-anchor="end" font-weight="bold" fill="#262626" font-family='"Liberation Sans", sans-serif' >1</text>
<line x1="30.2" y1="616.62" x2="32.4" y2="616.62" stroke="#9a9a9a" stroke-width="0.8"/>
<line x1="247.5" y1="616.62" x2="245.3" y2="616.62" stroke="#9a9a9a" stroke-width="0.8"/>
<text x="26.6" y="619.92" font-size="8.8" text-anchor="end" font-weight="bold" fill="#262626" font-family='"Liberation Sans", sans-serif' >2</text>
<line x1="30.2" y1="596.19" x2="32.4" y2="596.19" stroke="#9a9a9a" stroke-width="0.8"/>
<line x1="247.5" y1="596.19" x2="245.3" y2="596.19" stroke="#9a9a9a" stroke-width="0.8"/>
<text x="26.6" y="599.49" font-size="8.8" text-anchor="end" font-weight="bold" fill="#262626" font-family='"Liberation Sans", sans-serif' >3</text>
<line x1="30.2" y1="575.75" x2="32.4" y2="575.75" stroke="#9a9a9a" stroke-width="0.8"/>
<line x1="247.5" y1="575.75" x2="245.3" y2="575.75" stroke="#9a9a9a" stroke-width="0.8"/>
<text x="26.6" y="579.05" font-size="8.8" text-anchor="end" font-weight="bold" fill="#262626" font-family='"Liberation Sans", sans-serif' >4</text>
<line x1="30.2" y1="555.31" x2="32.4" y2="555.31" stroke="#9a9a9a" stroke-width="0.8"/>
<line x1="247.5" y1="555.31" x2="245.3" y2="555.31" stroke="#9a9a9a" stroke-width="0.8"/>
<text x="26.6" y="558.61" font-size="8.8" text-anchor="end" font-weight="bold" fill="#262626" font-family='"Liberation Sans", sans-serif' >5</text>
<line x1="30.2" y1="534.88" x2="32.4" y2="534.88" stroke="#9a9a9a" stroke-width="0.8"/>
<line x1="247.5" y1="534.88" x2="245.3" y2="534.88" stroke="#9a9a9a" stroke-width="0.8"/>
<text x="26.6" y="538.17" font-size="8.8" text-anchor="end" font-weight="bold" fill="#262626" font-family='"Liberation Sans", sans-serif' >6</text>
<line x1="30.2" y1="514.44" x2="32.4" y2="514.44" stroke="#9a9a9a" stroke-width="0.8"/>
<line x1="247.5" y1="514.44" x2="245.3" y2="514.44" stroke="#9a9a9a" stroke-width="0.8"/>
<text x="26.6" y="517.74" font-size="8.8" text-anchor="end" font-weight="bold" fill="#262626" font-family='"Liberation Sans", sans-serif' >7</text>
<line x1="30.2" y1="494" x2="32.4" y2="494" stroke="#9a9a9a" stroke-width="0.8"/>
<line x1="247.5" y1="494" x2="245.3" y2="494" stroke="#9a9a9a" stroke-width="0.8"/>
<text x="26.6" y="497.3" font-size="8.8" text-anchor="end" font-weight="bold" fill="#262626" font-family='"Liberation Sans", sans-serif' >8</text>
<path d="M30.2,657.5 30.2,647.7 42.8,647.7 42.8,637.9 55.4,637.9 55.4,628.1 68,628.1 68,618.3 80.6,618.3 80.6,608.5 93.2,608.5 93.2,598.6 105.8,598.6 105.8,588.8 118.4,588.8 118.4,579 131,579 131,569.2 143.6,569.2 143.6,559.4 156.2,559.4 156.2,549.6 168.8,549.6 168.8,539.8 181.4,539.8 181.4,530 194,530 194,520.2 206.6,520.2 206.6,510.4 219.3,510.4" fill="none" stroke="#0072bd" stroke-width="1.5" stroke-linejoin="round" stroke-linecap="butt" />
<path d="M30.2,656.9 30.5,651.6 30.7,649.5 31,648.7 31.2,648.3 31.5,648.2 31.7,648.2 32,648.2 32.2,648.1 32.5,648.1 32.7,648.1 33,648.1 33.2,648.1 33.5,648.1 33.7,648.1 34,648.1 34.3,648.1 34.5,648.1 34.8,648.2 35,648.2 35.3,648.2 35.5,648.2 35.8,648.2 36,648.2 36.3,648.2 36.5,648.2 36.8,648.2 37,648.2 37.3,648.2 37.6,648.2 37.8,648.2 38.1,648.2 38.3,648.2 38.6,648.2 38.8,648.2 39.1,648.2 39.3,648.2 39.6,648.2 39.8,648.2 40.1,648.2 40.3,648.2 40.6,648.2 40.8,648.2 41.1,648.2 41.4,648.2 41.6,648.2 41.9,648.2 42.1,648.2 42.4,648.2 42.6,648.2 42.9,646.9 43.1,644.1 43.4,642.4 43.6,641.2 43.9,640.5 44.1,640 44.4,639.7 44.7,639.5 44.9,639.4 45.2,639.3 45.4,639.2 45.7,639.2 45.9,639.2 46.2,639.2 46.4,639.2 46.7,639.2 46.9,639.2 47.2,639.1 47.4,639.1 47.7,639.2 47.9,639.2 48.2,639.2 48.5,639.2 48.7,639.2 49,639.2 49.2,639.2 49.5,639.2 49.7,639.2 50,639.2 50.2,639.2 50.5,639.2 50.7,639.2 51,639.2 51.2,639.2 51.5,639.2 51.7,639.2 52,639.2 52.3,639.2 52.5,639.2 52.8,639.2 53,639.2 53.3,639.2 53.5,639.2 53.8,639.2 54,639.2 54.3,639.2 54.5,639.2 54.8,639.2 55,639.2 55.3,639.2 55.6,637.8 55.8,636 56.1,634.6 56.3,633.6 56.6,632.8 56.8,632.2 57.1,631.8 57.3,631.5 57.6,631.2 57.8,631 58.1,630.9 58.3,630.8 58.6,630.7 58.8,630.6 59.1,630.6 59.4,630.5 59.6,630.5 59.9,630.5 60.1,630.5 60.4,630.5 60.6,630.5 60.9,630.5 61.1,630.5 61.4,630.5 61.6,630.5 61.9,630.5 62.1,630.5 62.4,630.5 62.7,630.5 62.9,630.5 63.2,630.5 63.4,630.5 63.7,630.5 63.9,630.5 64.2,630.5 64.4,630.5 64.7,630.5 64.9,630.5 65.2,630.5 65.4,630.5 65.7,630.5 65.9,630.5 66.2,630.5 66.5,630.5 66.7,630.5 67,630.5 67.2,630.5 67.5,630.5 67.7,630.5 68,630.5 68.2,629 68.5,627.7 68.7,626.7 69,625.8 69.2,625.1 69.5,624.5 69.7,624.1 70,623.7 70.3,623.4 70.5,623.1 70.8,622.9 71,622.7 71.3,622.6 71.5,622.5 71.8,622.4 72,622.3 72.3,622.3 72.5,622.2 72.8,622.2 73,622.2 73.3,622.1 73.6,622.1 73.8,622.1 74.1,622.1 74.3,622.1 74.6,622.1 74.8,622.1 75.1,622.1 75.3,622.1 75.6,622.1 75.8,622.1 76.1,622.1 76.3,622.1 76.6,622.1 76.8,622.1 77.1,622.1 77.4,622.1 77.6,622.1 77.9,622.1 78.1,622.1 78.4,622.1 78.6,622.1 78.9,622.1 79.1,622.1 79.4,622.1 79.6,622.1 79.9,622.1 80.1,622.1 80.4,622.1 80.6,621.8 80.9,620.6 81.2,619.6 81.4,618.8 81.7,618 81.9,617.4 82.2,616.9 82.4,616.4 82.7,616 82.9,615.7 83.2,615.4 83.4,615.2 83.7,615 83.9,614.8 84.2,614.7 84.5,614.6 84.7,614.4 85,614.4 85.2,614.3 85.5,614.2 85.7,614.2 86,614.1 86.2,614.1 86.5,614 86.7,614 87,614 87.2,614 87.5,614 87.7,613.9 88,613.9 88.3,613.9 88.5,613.9 88.8,613.9 89,613.9 89.3,613.9 89.5,613.9 89.8,613.9 90,613.9 90.3,613.9 90.5,613.9 90.8,613.9 91,613.9 91.3,613.9 91.6,613.9 91.8,613.9 92.1,613.9 92.3,613.9 92.6,613.9 92.8,613.9 93.1,613.9 93.3,613.4 93.6,612.5 93.8,611.7 94.1,611 94.3,610.3 94.6,609.8 94.8,609.3 95.1,608.9 95.4,608.5 95.6,608.2 95.9,607.9 96.1,607.7 96.4,607.5 96.6,607.3 96.9,607.1 97.1,607 97.4,606.8 97.6,606.7 97.9,606.6 98.1,606.5 98.4,606.5 98.6,606.4 98.9,606.3 99.2,606.3 99.4,606.2 99.7,606.2 99.9,606.2 100.2,606.1 100.4,606.1 100.7,606.1 100.9,606.1 101.2,606.1 101.4,606.1 101.7,606 101.9,606 102.2,606 102.5,606 102.7,606 103,606 103.2,606 103.5,606 103.7,606 104,606 104.2,606 104.5,606 104.7,606 105,606 105.2,606 105.5,606 105.7,606 106,605.4 106.3,604.6 106.5,603.9 106.8,603.3 107,602.8 107.3,602.3 107.5,601.9 107.8,601.5 108,601.2 108.3,600.8 108.5,600.6 108.8,600.3 109,600.1 109.3,599.9 109.6,599.7 109.8,599.6 110.1,599.4 110.3,599.3 110.6,599.2 110.8,599.1 111.1,599 111.3,598.9 111.6,598.8 111.8,598.8 112.1,598.7 112.3,598.7 112.6,598.6 112.8,598.6 113.1,598.6 113.4,598.5 113.6,598.5 113.9,598.5 114.1,598.5 114.4,598.4 114.6,598.4 114.9,598.4 115.1,598.4 115.4,598.4 115.6,598.4 115.9,598.4 116.1,598.4 116.4,598.4 116.6,598.3 116.9,598.3 117.2,598.3 117.4,598.3 117.7,598.3 117.9,598.3 118.2,598.3 118.4,598.3 118.7,597.6 118.9,597 119.2,596.4 119.4,595.9 119.7,595.4 119.9,595 120.2,594.6 120.5,594.2 120.7,593.9 121,593.6 121.2,593.4 121.5,593.1 121.7,592.9 122,592.7 122.2,592.5 122.5,592.4 122.7,592.2 123,592.1 123.2,592 123.5,591.9 123.7,591.8 124,591.7 124.3,591.6 124.5,591.5 124.8,591.4 125,591.4 125.3,591.3 125.5,591.3 125.8,591.2 126,591.2 126.3,591.2 126.5,591.1 126.8,591.1 127,591.1 127.3,591 127.6,591 127.8,591 128.1,591 128.3,591 128.6,591 128.8,591 129.1,590.9 129.3,590.9 129.6,590.9 129.8,590.9 130.1,590.9 130.3,590.9 130.6,590.9 130.8,590.9 131.1,590.7 131.4,590.1 131.6,589.6 131.9,589.1 132.1,588.6 132.4,588.2 132.6,587.8 132.9,587.5 133.1,587.2 133.4,586.9 133.6,586.6 133.9,586.3 134.1,586.1 134.4,585.9 134.6,585.7 134.9,585.5 135.2,585.4 135.4,585.2 135.7,585.1 135.9,584.9 136.2,584.8 136.4,584.7 136.7,584.6 136.9,584.5 137.2,584.5 137.4,584.4 137.7,584.3 137.9,584.2 138.2,584.2 138.5,584.1 138.7,584.1 139,584 139.2,584 139.5,584 139.7,583.9 140,583.9 140.2,583.9 140.5,583.9 140.7,583.8 141,583.8 141.2,583.8 141.5,583.8 141.7,583.8 142,583.8 142.3,583.7 142.5,583.7 142.8,583.7 143,583.7 143.3,583.7 143.5,583.7 143.8,583.4 144,582.9 144.3,582.4 144.5,582 144.8,581.6 145,581.2 145.3,580.8 145.6,580.5 145.8,580.2 146.1,580 146.3,579.7 146.6,579.5 146.8,579.3 147.1,579 147.3,578.9 147.6,578.7 147.8,578.5 148.1,578.4 148.3,578.2 148.6,578.1 148.8,578 149.1,577.9 149.4,577.8 149.6,577.7 149.9,577.6 150.1,577.5 150.4,577.4 150.6,577.4 150.9,577.3 151.1,577.3 151.4,577.2 151.6,577.2 151.9,577.1 152.1,577.1 152.4,577 152.6,577 152.9,577 153.2,576.9 153.4,576.9 153.7,576.9 153.9,576.9 154.2,576.8 154.4,576.8 154.7,576.8 154.9,576.8 155.2,576.8 155.4,576.8 155.7,576.7 155.9,576.7 156.2,576.7 156.5,576.3 156.7,575.9 157,575.4 157.2,575.1 157.5,574.7 157.7,574.4 158,574.1 158.2,573.8 158.5,573.5 158.7,573.2 159,573 159.2,572.8 159.5,572.6 159.7,572.4 160,572.2 160.3,572 160.5,571.9 160.8,571.7 161,571.6 161.3,571.5 161.5,571.3 161.8,571.2 162,571.1 162.3,571 162.5,570.9 162.8,570.9 163,570.8 163.3,570.7 163.5,570.6 163.8,570.6 164.1,570.5 164.3,570.5 164.6,570.4 164.8,570.4 165.1,570.3 165.3,570.3 165.6,570.3 165.8,570.2 166.1,570.2 166.3,570.2 166.6,570.1 166.8,570.1 167.1,570.1 167.4,570.1 167.6,570 167.9,570 168.1,570 168.4,570 168.6,570 168.9,569.9 169.1,569.5 169.4,569.1 169.6,568.7 169.9,568.4 170.1,568 170.4,567.7 170.6,567.5 170.9,567.2 171.2,566.9 171.4,566.7 171.7,566.5 171.9,566.3 172.2,566.1 172.4,565.9 172.7,565.7 172.9,565.6 173.2,565.4 173.4,565.3 173.7,565.1 173.9,565 174.2,564.9 174.5,564.8 174.7,564.7 175,564.6 175.2,564.5 175.5,564.4 175.7,564.3 176,564.2 176.2,564.2 176.5,564.1 176.7,564 177,564 177.2,563.9 177.5,563.9 177.7,563.8 178,563.8 178.3,563.7 178.5,563.7 178.8,563.7 179,563.6 179.3,563.6 179.5,563.6 179.8,563.6 180,563.5 180.3,563.5 180.5,563.5 180.8,563.5 181,563.5 181.3,563.4 181.5,563.2 181.8,562.9 182.1,562.5 182.3,562.2 182.6,561.9 182.8,561.6 183.1,561.3 183.3,561.1 183.6,560.8 183.8,560.6 184.1,560.4 184.3,560.1 184.6,559.9 184.8,559.8 185.1,559.6 185.4,559.4 185.6,559.3 185.9,559.1 186.1,559 186.4,558.8 186.6,558.7 186.9,558.6 187.1,558.5 187.4,558.4 187.6,558.3 187.9,558.2 188.1,558.1 188.4,558 188.6,558 188.9,557.9 189.2,557.8 189.4,557.8 189.7,557.7 189.9,557.6 190.2,557.6 190.4,557.5 190.7,557.5 190.9,557.4 191.2,557.4 191.4,557.4 191.7,557.3 191.9,557.3 192.2,557.3 192.5,557.2 192.7,557.2 193,557.2 193.2,557.2 193.5,557.1 193.7,557.1 194,557.1 194.2,556.8 194.5,556.5 194.7,556.2 195,555.9 195.2,555.6 195.5,555.3 195.7,555.1 196,554.8 196.3,554.6 196.5,554.4 196.8,554.2 197,554 197.3,553.8 197.5,553.6 197.8,553.5 198,553.3 198.3,553.1 198.5,553 198.8,552.9 199,552.7 199.3,552.6 199.5,552.5 199.8,552.4 200.1,552.3 200.3,552.2 200.6,552.1 200.8,552 201.1,551.9 201.3,551.9 201.6,551.8 201.8,551.7 202.1,551.7 202.3,551.6 202.6,551.5 202.8,551.5 203.1,551.4 203.4,551.4 203.6,551.3 203.9,551.3 204.1,551.2 204.4,551.2 204.6,551.2 204.9,551.1 205.1,551.1 205.4,551.1 205.6,551 205.9,551 206.1,551 206.4,551 206.6,550.9 206.9,550.6 207.2,550.3 207.4,550 207.7,549.8 207.9,549.5 208.2,549.3 208.4,549 208.7,548.8 208.9,548.6 209.2,548.4 209.4,548.2 209.7,548 209.9,547.8 210.2,547.7 210.5,547.5 210.7,547.4 211,547.2 211.2,547.1 211.5,546.9 211.7,546.8 212,546.7 212.2,546.6 212.5,546.5 212.7,546.4 213,546.3 213.2,546.2 213.5,546.1 213.7,546 214,546 214.3,545.9 214.5,545.8 214.8,545.7 215,545.7 215.3,545.6 215.5,545.6 215.8,545.5 216,545.5 216.3,545.4 216.5,545.4 216.8,545.3 217,545.3 217.3,545.2 217.5,545.2 217.8,545.2 218.1,545.1 218.3,545.1 218.6,545.1 218.8,545.1 219.1,545" fill="none" stroke="#edb120" stroke-width="1.5" stroke-linejoin="round" stroke-linecap="butt" />
<path d="M30.2,657.5 30.5,657.2 30.7,657.1 31,657.1 31.2,657.1 31.5,657.1 31.7,657.1 32,657.1 32.2,657 32.5,657 32.7,657 33,657 33.2,657 33.5,657 33.7,657 34,657 34.3,657 34.5,657 34.8,657 35,657 35.3,657 35.5,657 35.8,657 36,657 36.3,657 36.5,657 36.8,657 37,657 37.3,657 37.6,657 37.8,657 38.1,657 38.3,657 38.6,657 38.8,657 39.1,657 39.3,657 39.6,657 39.8,657 40.1,657 40.3,657 40.6,657 40.8,657 41.1,657 41.4,657 41.6,657 41.9,657 42.1,657 42.4,657 42.6,657 42.9,656.9 43.1,656.7 43.4,656.5 43.6,656.4 43.9,656.4 44.1,656.3 44.4,656.3 44.7,656.3 44.9,656.3 45.2,656.3 45.4,656.3 45.7,656.3 45.9,656.2 46.2,656.2 46.4,656.2 46.7,656.2 46.9,656.2 47.2,656.2 47.4,656.2 47.7,656.2 47.9,656.2 48.2,656.2 48.5,656.2 48.7,656.2 49,656.2 49.2,656.2 49.5,656.2 49.7,656.2 50,656.2 50.2,656.2 50.5,656.2 50.7,656.2 51,656.2 51.2,656.2 51.5,656.2 51.7,656.2 52,656.2 52.3,656.2 52.5,656.2 52.8,656.2 53,656.2 53.3,656.2 53.5,656.2 53.8,656.2 54,656.2 54.3,656.2 54.5,656.2 54.8,656.2 55,656.2 55.3,656.2 55.6,656 55.8,655.8 56.1,655.6 56.3,655.5 56.6,655.4 56.8,655.4 57.1,655.3 57.3,655.3 57.6,655.2 57.8,655.2 58.1,655.2 58.3,655.2 58.6,655.2 58.8,655.2 59.1,655.2 59.4,655.1 59.6,655.1 59.9,655.1 60.1,655.1 60.4,655.1 60.6,655.1 60.9,655.1 61.1,655.1 61.4,655.1 61.6,655.1 61.9,655.1 62.1,655.1 62.4,655.1 62.7,655.1 62.9,655.1 63.2,655.1 63.4,655.1 63.7,655.1 63.9,655.1 64.2,655.1 64.4,655.1 64.7,655.1 64.9,655.1 65.2,655.1 65.4,655.1 65.7,655.1 65.9,655.1 66.2,655.1 66.5,655.1 66.7,655.1 67,655.1 67.2,655.1 67.5,655.1 67.7,655.1 68,655.1 68.2,654.8 68.5,654.6 68.7,654.5 69,654.4 69.2,654.3 69.5,654.2 69.7,654.1 70,654 70.3,654 70.5,653.9 70.8,653.9 71,653.9 71.3,653.9 71.5,653.8 71.8,653.8 72,653.8 72.3,653.8 72.5,653.8 72.8,653.8 73,653.8 73.3,653.8 73.6,653.8 73.8,653.8 74.1,653.8 74.3,653.7 74.6,653.7 74.8,653.7 75.1,653.7 75.3,653.7 75.6,653.7 75.8,653.7 76.1,653.7 76.3,653.7 76.6,653.7 76.8,653.7 77.1,653.7 77.4,653.7 77.6,653.7 77.9,653.7 78.1,653.7 78.4,653.7 78.6,653.7 78.9,653.7 79.1,653.7 79.4,653.7 79.6,653.7 79.9,653.7 80.1,653.7 80.4,653.7 80.6,653.6 80.9,653.4 81.2,653.2 81.4,653.1 81.7,652.9 81.9,652.8 82.2,652.7 82.4,652.6 82.7,652.6 82.9,652.5 83.2,652.4 83.4,652.4 83.7,652.4 83.9,652.3 84.2,652.3 84.5,652.3 84.7,652.2 85,652.2 85.2,652.2 85.5,652.2 85.7,652.2 86,652.2 86.2,652.2 86.5,652.1 86.7,652.1 87,652.1 87.2,652.1 87.5,652.1 87.7,652.1 88,652.1 88.3,652.1 88.5,652.1 88.8,652.1 89,652.1 89.3,652.1 89.5,652.1 89.8,652.1 90,652.1 90.3,652.1 90.5,652.1 90.8,652.1 91,652.1 91.3,652.1 91.6,652 91.8,652 92.1,652 92.3,652 92.6,652 92.8,652 93.1,652 93.3,651.9 93.6,651.7 93.8,651.5 94.1,651.4 94.3,651.3 94.6,651.1 94.8,651 95.1,650.9 95.4,650.9 95.6,650.8 95.9,650.7 96.1,650.7 96.4,650.6 96.6,650.6 96.9,650.5 97.1,650.5 97.4,650.5 97.6,650.4 97.9,650.4 98.1,650.4 98.4,650.4 98.6,650.3 98.9,650.3 99.2,650.3 99.4,650.3 99.7,650.3 99.9,650.3 100.2,650.3 100.4,650.3 100.7,650.3 100.9,650.2 101.2,650.2 101.4,650.2 101.7,650.2 101.9,650.2 102.2,650.2 102.5,650.2 102.7,650.2 103,650.2 103.2,650.2 103.5,650.2 103.7,650.2 104,650.2 104.2,650.2 104.5,650.2 104.7,650.2 105,650.2 105.2,650.2 105.5,650.1 105.7,650.1 106,650 106.3,649.8 106.5,649.6 106.8,649.5 107,649.3 107.3,649.2 107.5,649.1 107.8,649 108,648.9 108.3,648.8 108.5,648.8 108.8,648.7 109,648.6 109.3,648.6 109.6,648.5 109.8,648.5 110.1,648.5 110.3,648.4 110.6,648.4 110.8,648.4 111.1,648.3 111.3,648.3 111.6,648.3 111.8,648.3 112.1,648.3 112.3,648.2 112.6,648.2 112.8,648.2 113.1,648.2 113.4,648.2 113.6,648.2 113.9,648.2 114.1,648.1 114.4,648.1 114.6,648.1 114.9,648.1 115.1,648.1 115.4,648.1 115.6,648.1 115.9,648.1 116.1,648.1 116.4,648.1 116.6,648.1 116.9,648.1 117.2,648.1 117.4,648.1 117.7,648 117.9,648 118.2,648 118.4,648 118.7,647.8 118.9,647.6 119.2,647.5 119.4,647.3 119.7,647.2 119.9,647.1 120.2,647 120.5,646.9 120.7,646.8 121,646.7 121.2,646.6 121.5,646.5 121.7,646.5 122,646.4 122.2,646.4 122.5,646.3 122.7,646.3 123,646.2 123.2,646.2 123.5,646.1 123.7,646.1 124,646.1 124.3,646 124.5,646 124.8,646 125,646 125.3,646 125.5,645.9 125.8,645.9 126,645.9 126.3,645.9 126.5,645.9 126.8,645.9 127,645.8 127.3,645.8 127.6,645.8 127.8,645.8 128.1,645.8 128.3,645.8 128.6,645.8 128.8,645.8 129.1,645.8 129.3,645.7 129.6,645.7 129.8,645.7 130.1,645.7 130.3,645.7 130.6,645.7 130.8,645.7 131.1,645.6 131.4,645.4 131.6,645.3 131.9,645.1 132.1,645 132.4,644.8 132.6,644.7 132.9,644.6 133.1,644.5 133.4,644.4 133.6,644.3 133.9,644.2 134.1,644.1 134.4,644.1 134.6,644 134.9,643.9 135.2,643.9 135.4,643.8 135.7,643.8 135.9,643.7 136.2,643.7 136.4,643.7 136.7,643.6 136.9,643.6 137.2,643.6 137.4,643.5 137.7,643.5 137.9,643.5 138.2,643.5 138.5,643.4 138.7,643.4 139,643.4 139.2,643.4 139.5,643.4 139.7,643.3 140,643.3 140.2,643.3 140.5,643.3 140.7,643.3 141,643.3 141.2,643.3 141.5,643.2 141.7,643.2 142,643.2 142.3,643.2 142.5,643.2 142.8,643.2 143,643.2 143.3,643.2 143.5,643.2 143.8,643 144,642.9 144.3,642.7 144.5,642.5 144.8,642.4 145,642.3 145.3,642.1 145.6,642 145.8,641.9 146.1,641.8 146.3,641.7 146.6,641.6 146.8,641.6 147.1,641.5 147.3,641.4 147.6,641.3 147.8,641.3 148.1,641.2 148.3,641.2 148.6,641.1 148.8,641.1 149.1,641 149.4,641 149.6,640.9 149.9,640.9 150.1,640.9 150.4,640.8 150.6,640.8 150.9,640.8 151.1,640.7 151.4,640.7 151.6,640.7 151.9,640.7 152.1,640.7 152.4,640.6 152.6,640.6 152.9,640.6 153.2,640.6 153.4,640.6 153.7,640.5 153.9,640.5 154.2,640.5 154.4,640.5 154.7,640.5 154.9,640.5 155.2,640.5 155.4,640.5 155.7,640.4 155.9,640.4 156.2,640.4 156.5,640.3 156.7,640.1 157,639.9 157.2,639.8 157.5,639.6 157.7,639.5 158,639.4 158.2,639.2 158.5,639.1 158.7,639 159,638.9 159.2,638.8 159.5,638.8 159.7,638.7 160,638.6 160.3,638.5 160.5,638.5 160.8,638.4 161,638.3 161.3,638.3 161.5,638.2 161.8,638.2 162,638.1 162.3,638.1 162.5,638 162.8,638 163,638 163.3,637.9 163.5,637.9 163.8,637.9 164.1,637.8 164.3,637.8 164.6,637.8 164.8,637.8 165.1,637.7 165.3,637.7 165.6,637.7 165.8,637.7 166.1,637.7 166.3,637.6 166.6,637.6 166.8,637.6 167.1,637.6 167.4,637.6 167.6,637.5 167.9,637.5 168.1,637.5 168.4,637.5 168.6,637.5 168.9,637.4 169.1,637.3 169.4,637.1 169.6,636.9 169.9,636.8 170.1,636.6 170.4,636.5 170.6,636.4 170.9,636.3 171.2,636.2 171.4,636 171.7,635.9 171.9,635.9 172.2,635.8 172.4,635.7 172.7,635.6 172.9,635.5 173.2,635.5 173.4,635.4 173.7,635.3 173.9,635.3 174.2,635.2 174.5,635.1 174.7,635.1 175,635 175.2,635 175.5,635 175.7,634.9 176,634.9 176.2,634.8 176.5,634.8 176.7,634.8 177,634.7 177.2,634.7 177.5,634.7 177.7,634.6 178,634.6 178.3,634.6 178.5,634.6 178.8,634.5 179,634.5 179.3,634.5 179.5,634.5 179.8,634.5 180,634.4 180.3,634.4 180.5,634.4 180.8,634.4 181,634.4 181.3,634.4 181.5,634.3 181.8,634.1 182.1,633.9 182.3,633.8 182.6,633.6 182.8,633.5 183.1,633.3 183.3,633.2 183.6,633.1 183.8,633 184.1,632.9 184.3,632.8 184.6,632.7 184.8,632.6 185.1,632.5 185.4,632.4 185.6,632.3 185.9,632.3 186.1,632.2 186.4,632.1 186.6,632 186.9,632 187.1,631.9 187.4,631.9 187.6,631.8 187.9,631.8 188.1,631.7 188.4,631.7 188.6,631.6 188.9,631.6 189.2,631.5 189.4,631.5 189.7,631.5 189.9,631.4 190.2,631.4 190.4,631.4 190.7,631.3 190.9,631.3 191.2,631.3 191.4,631.3 191.7,631.2 191.9,631.2 192.2,631.2 192.5,631.2 192.7,631.1 193,631.1 193.2,631.1 193.5,631.1 193.7,631.1 194,631 194.2,630.9 194.5,630.7 194.7,630.6 195,630.4 195.2,630.3 195.5,630.1 195.7,630 196,629.9 196.3,629.7 196.5,629.6 196.8,629.5 197,629.4 197.3,629.3 197.5,629.2 197.8,629.1 198,629 198.3,628.9 198.5,628.9 198.8,628.8 199,628.7 199.3,628.6 199.5,628.6 199.8,628.5 200.1,628.5 200.3,628.4 200.6,628.3 200.8,628.3 201.1,628.2 201.3,628.2 201.6,628.1 201.8,628.1 202.1,628.1 202.3,628 202.6,628 202.8,627.9 203.1,627.9 203.4,627.9 203.6,627.8 203.9,627.8 204.1,627.8 204.4,627.7 204.6,627.7 204.9,627.7 205.1,627.7 205.4,627.6 205.6,627.6 205.9,627.6 206.1,627.6 206.4,627.5 206.6,627.5 206.9,627.3 207.2,627.2 207.4,627 207.7,626.9 207.9,626.7 208.2,626.6 208.4,626.4 208.7,626.3 208.9,626.2 209.2,626.1 209.4,625.9 209.7,625.8 209.9,625.7 210.2,625.6 210.5,625.5 210.7,625.5 211,625.4 211.2,625.3 211.5,625.2 211.7,625.1 212,625.1 212.2,625 212.5,624.9 212.7,624.9 213,624.8 213.2,624.7 213.5,624.7 213.7,624.6 214,624.6 214.3,624.5 214.5,624.5 214.8,624.4 215,624.4 215.3,624.3 215.5,624.3 215.8,624.3 216,624.2 216.3,624.2 216.5,624.1 216.8,624.1 217,624.1 217.3,624.1 217.5,624 217.8,624 218.1,624 218.3,623.9 218.6,623.9 218.8,623.9 219.1,623.9" fill="none" stroke="#d95319" stroke-width="1.5" stroke-linejoin="round" stroke-linecap="butt" />
<path d="M30.2,656.9 30.5,651.3 30.7,649.1 31,648.2 31.2,647.9 31.5,647.8 31.7,647.7 32,647.7 32.2,647.7 32.5,647.7 32.7,647.7 33,647.7 33.2,647.7 33.5,647.7 33.7,647.7 34,647.7 34.3,647.7 34.5,647.7 34.8,647.7 35,647.7 35.3,647.7 35.5,647.7 35.8,647.7 36,647.7 36.3,647.7 36.5,647.7 36.8,647.7 37,647.7 37.3,647.7 37.6,647.7 37.8,647.7 38.1,647.7 38.3,647.7 38.6,647.7 38.8,647.7 39.1,647.7 39.3,647.7 39.6,647.7 39.8,647.7 40.1,647.7 40.3,647.7 40.6,647.7 40.8,647.7 41.1,647.7 41.4,647.7 41.6,647.7 41.9,647.7 42.1,647.7 42.4,647.7 42.6,647.7 42.9,646.3 43.1,643.3 43.4,641.4 43.6,640.2 43.9,639.4 44.1,638.8 44.4,638.5 44.7,638.3 44.9,638.1 45.2,638 45.4,638 45.7,637.9 45.9,637.9 46.2,637.9 46.4,637.9 46.7,637.9 46.9,637.9 47.2,637.9 47.4,637.9 47.7,637.9 47.9,637.9 48.2,637.9 48.5,637.9 48.7,637.9 49,637.9 49.2,637.9 49.5,637.9 49.7,637.9 50,637.9 50.2,637.9 50.5,637.9 50.7,637.9 51,637.9 51.2,637.9 51.5,637.9 51.7,637.9 52,637.9 52.3,637.9 52.5,637.9 52.8,637.9 53,637.9 53.3,637.9 53.5,637.9 53.8,637.9 54,637.9 54.3,637.9 54.5,637.9 54.8,637.9 55,637.9 55.3,637.9 55.6,636.3 55.8,634.3 56.1,632.8 56.3,631.6 56.6,630.8 56.8,630.1 57.1,629.6 57.3,629.2 57.6,629 57.8,628.7 58.1,628.6 58.3,628.5 58.6,628.4 58.8,628.3 59.1,628.2 59.4,628.2 59.6,628.2 59.9,628.1 60.1,628.1 60.4,628.1 60.6,628.1 60.9,628.1 61.1,628.1 61.4,628.1 61.6,628.1 61.9,628.1 62.1,628.1 62.4,628.1 62.7,628.1 62.9,628.1 63.2,628.1 63.4,628.1 63.7,628.1 63.9,628.1 64.2,628.1 64.4,628.1 64.7,628.1 64.9,628.1 65.2,628.1 65.4,628.1 65.7,628.1 65.9,628.1 66.2,628.1 66.5,628.1 66.7,628.1 67,628.1 67.2,628.1 67.5,628.1 67.7,628.1 68,628.1 68.2,626.4 68.5,624.9 68.7,623.7 69,622.7 69.2,621.9 69.5,621.2 69.7,620.7 70,620.2 70.3,619.9 70.5,619.6 70.8,619.3 71,619.1 71.3,619 71.5,618.8 71.8,618.7 72,618.6 72.3,618.6 72.5,618.5 72.8,618.5 73,618.4 73.3,618.4 73.6,618.4 73.8,618.4 74.1,618.3 74.3,618.3 74.6,618.3 74.8,618.3 75.1,618.3 75.3,618.3 75.6,618.3 75.8,618.3 76.1,618.3 76.3,618.3 76.6,618.3 76.8,618.3 77.1,618.3 77.4,618.3 77.6,618.3 77.9,618.3 78.1,618.3 78.4,618.3 78.6,618.3 78.9,618.3 79.1,618.3 79.4,618.3 79.6,618.3 79.9,618.3 80.1,618.3 80.4,618.3 80.6,617.9 80.9,616.5 81.2,615.4 81.4,614.3 81.7,613.5 81.9,612.7 82.2,612.1 82.4,611.6 82.7,611.1 82.9,610.7 83.2,610.4 83.4,610.1 83.7,609.9 83.9,609.7 84.2,609.5 84.5,609.3 84.7,609.2 85,609.1 85.2,609 85.5,608.9 85.7,608.8 86,608.8 86.2,608.7 86.5,608.7 86.7,608.7 87,608.6 87.2,608.6 87.5,608.6 87.7,608.6 88,608.5 88.3,608.5 88.5,608.5 88.8,608.5 89,608.5 89.3,608.5 89.5,608.5 89.8,608.5 90,608.5 90.3,608.5 90.5,608.5 90.8,608.5 91,608.5 91.3,608.5 91.6,608.5 91.8,608.5 92.1,608.5 92.3,608.5 92.6,608.5 92.8,608.5 93.1,608.5 93.3,607.8 93.6,606.7 93.8,605.7 94.1,604.9 94.3,604.1 94.6,603.4 94.8,602.9 95.1,602.3 95.4,601.9 95.6,601.5 95.9,601.1 96.1,600.8 96.4,600.6 96.6,600.3 96.9,600.1 97.1,599.9 97.4,599.8 97.6,599.6 97.9,599.5 98.1,599.4 98.4,599.3 98.6,599.2 98.9,599.2 99.2,599.1 99.4,599 99.7,599 99.9,599 100.2,598.9 100.4,598.9 100.7,598.9 100.9,598.8 101.2,598.8 101.4,598.8 101.7,598.8 101.9,598.8 102.2,598.7 102.5,598.7 102.7,598.7 103,598.7 103.2,598.7 103.5,598.7 103.7,598.7 104,598.7 104.2,598.7 104.5,598.7 104.7,598.7 105,598.7 105.2,598.7 105.5,598.7 105.7,598.7 106,597.8 106.3,596.9 106.5,596.1 106.8,595.3 107,594.6 107.3,594 107.5,593.5 107.8,593 108,592.6 108.3,592.2 108.5,591.8 108.8,591.5 109,591.2 109.3,591 109.6,590.8 109.8,590.6 110.1,590.4 110.3,590.2 110.6,590.1 110.8,590 111.1,589.8 111.3,589.7 111.6,589.6 111.8,589.6 112.1,589.5 112.3,589.4 112.6,589.3 112.8,589.3 113.1,589.2 113.4,589.2 113.6,589.2 113.9,589.1 114.1,589.1 114.4,589.1 114.6,589 114.9,589 115.1,589 115.4,589 115.6,589 115.9,589 116.1,588.9 116.4,588.9 116.6,588.9 116.9,588.9 117.2,588.9 117.4,588.9 117.7,588.9 117.9,588.9 118.2,588.9 118.4,588.8 118.7,587.9 118.9,587.1 119.2,586.4 119.4,585.7 119.7,585.1 119.9,584.6 120.2,584.1 120.5,583.6 120.7,583.2 121,582.8 121.2,582.5 121.5,582.2 121.7,581.9 122,581.6 122.2,581.4 122.5,581.2 122.7,581 123,580.8 123.2,580.6 123.5,580.5 123.7,580.4 124,580.2 124.3,580.1 124.5,580 124.8,579.9 125,579.9 125.3,579.8 125.5,579.7 125.8,579.6 126,579.6 126.3,579.5 126.5,579.5 126.8,579.4 127,579.4 127.3,579.4 127.6,579.3 127.8,579.3 128.1,579.3 128.3,579.3 128.6,579.2 128.8,579.2 129.1,579.2 129.3,579.2 129.6,579.2 129.8,579.2 130.1,579.1 130.3,579.1 130.6,579.1 130.8,579.1 131.1,578.8 131.4,578.1 131.6,577.3 131.9,576.7 132.1,576.1 132.4,575.5 132.6,575 132.9,574.6 133.1,574.1 133.4,573.8 133.6,573.4 133.9,573.1 134.1,572.7 134.4,572.5 134.6,572.2 134.9,572 135.2,571.7 135.4,571.5 135.7,571.4 135.9,571.2 136.2,571 136.4,570.9 136.7,570.7 136.9,570.6 137.2,570.5 137.4,570.4 137.7,570.3 137.9,570.2 138.2,570.1 138.5,570.1 138.7,570 139,569.9 139.2,569.9 139.5,569.8 139.7,569.8 140,569.7 140.2,569.7 140.5,569.7 140.7,569.6 141,569.6 141.2,569.6 141.5,569.5 141.7,569.5 142,569.5 142.3,569.5 142.5,569.4 142.8,569.4 143,569.4 143.3,569.4 143.5,569.4 143.8,568.9 144,568.2 144.3,567.6 144.5,567 144.8,566.5 145,566 145.3,565.5 145.6,565.1 145.8,564.7 146.1,564.3 146.3,563.9 146.6,563.6 146.8,563.3 147.1,563 147.3,562.8 147.6,562.5 147.8,562.3 148.1,562.1 148.3,561.9 148.6,561.7 148.8,561.6 149.1,561.4 149.4,561.3 149.6,561.1 149.9,561 150.1,560.9 150.4,560.8 150.6,560.7 150.9,560.6 151.1,560.5 151.4,560.4 151.6,560.4 151.9,560.3 152.1,560.2 152.4,560.2 152.6,560.1 152.9,560.1 153.2,560 153.4,560 153.7,559.9 153.9,559.9 154.2,559.9 154.4,559.8 154.7,559.8 154.9,559.8 155.2,559.7 155.4,559.7 155.7,559.7 155.9,559.7 156.2,559.7 156.5,559 156.7,558.4 157,557.9 157.2,557.3 157.5,556.8 157.7,556.4 158,555.9 158.2,555.5 158.5,555.1 158.7,554.8 159,554.4 159.2,554.1 159.5,553.8 159.7,553.6 160,553.3 160.3,553.1 160.5,552.8 160.8,552.6 161,552.4 161.3,552.2 161.5,552.1 161.8,551.9 162,551.8 162.3,551.6 162.5,551.5 162.8,551.4 163,551.3 163.3,551.1 163.5,551 163.8,551 164.1,550.9 164.3,550.8 164.6,550.7 164.8,550.6 165.1,550.6 165.3,550.5 165.6,550.4 165.8,550.4 166.1,550.3 166.3,550.3 166.6,550.2 166.8,550.2 167.1,550.2 167.4,550.1 167.6,550.1 167.9,550.1 168.1,550 168.4,550 168.6,550 168.9,549.8 169.1,549.2 169.4,548.7 169.6,548.2 169.9,547.7 170.1,547.2 170.4,546.8 170.6,546.3 170.9,546 171.2,545.6 171.4,545.3 171.7,544.9 171.9,544.6 172.2,544.3 172.4,544.1 172.7,543.8 172.9,543.6 173.2,543.4 173.4,543.1 173.7,543 173.9,542.8 174.2,542.6 174.5,542.4 174.7,542.3 175,542.1 175.2,542 175.5,541.9 175.7,541.7 176,541.6 176.2,541.5 176.5,541.4 176.7,541.3 177,541.2 177.2,541.1 177.5,541.1 177.7,541 178,540.9 178.3,540.8 178.5,540.8 178.8,540.7 179,540.7 179.3,540.6 179.5,540.6 179.8,540.5 180,540.5 180.3,540.4 180.5,540.4 180.8,540.4 181,540.3 181.3,540.3 181.5,540 181.8,539.5 182.1,538.9 182.3,538.5 182.6,538 182.8,537.6 183.1,537.2 183.3,536.8 183.6,536.4 183.8,536.1 184.1,535.7 184.3,535.4 184.6,535.1 184.8,534.8 185.1,534.6 185.4,534.3 185.6,534.1 185.9,533.9 186.1,533.7 186.4,533.5 186.6,533.3 186.9,533.1 187.1,532.9 187.4,532.8 187.6,532.6 187.9,532.5 188.1,532.3 188.4,532.2 188.6,532.1 188.9,532 189.2,531.9 189.4,531.8 189.7,531.7 189.9,531.6 190.2,531.5 190.4,531.4 190.7,531.3 190.9,531.3 191.2,531.2 191.4,531.1 191.7,531.1 191.9,531 192.2,530.9 192.5,530.9 192.7,530.8 193,530.8 193.2,530.7 193.5,530.7 193.7,530.7 194,530.6 194.2,530.2 194.5,529.7 194.7,529.2 195,528.8 195.2,528.3 195.5,527.9 195.7,527.6 196,527.2 196.3,526.8 196.5,526.5 196.8,526.2 197,525.9 197.3,525.6 197.5,525.3 197.8,525.1 198,524.8 198.3,524.6 198.5,524.4 198.8,524.2 199,524 199.3,523.8 199.5,523.6 199.8,523.4 200.1,523.3 200.3,523.1 200.6,523 200.8,522.8 201.1,522.7 201.3,522.6 201.6,522.4 201.8,522.3 202.1,522.2 202.3,522.1 202.6,522 202.8,521.9 203.1,521.8 203.4,521.8 203.6,521.7 203.9,521.6 204.1,521.5 204.4,521.5 204.6,521.4 204.9,521.3 205.1,521.3 205.4,521.2 205.6,521.2 205.9,521.1 206.1,521.1 206.4,521 206.6,520.9 206.9,520.5 207.2,520 207.4,519.5 207.7,519.1 207.9,518.7 208.2,518.3 208.4,517.9 208.7,517.6 208.9,517.3 209.2,516.9 209.4,516.6 209.7,516.3 209.9,516.1 210.2,515.8 210.5,515.5 210.7,515.3 211,515.1 211.2,514.9 211.5,514.6 211.7,514.5 212,514.3 212.2,514.1 212.5,513.9 212.7,513.7 213,513.6 213.2,513.4 213.5,513.3 213.7,513.2 214,513 214.3,512.9 214.5,512.8 214.8,512.7 215,512.6 215.3,512.5 215.5,512.4 215.8,512.3 216,512.2 216.3,512.1 216.5,512 216.8,511.9 217,511.9 217.3,511.8 217.5,511.7 217.8,511.7 218.1,511.6 218.3,511.5 218.6,511.5 218.8,511.4 219.1,511.4" fill="none" stroke="#77ac30" stroke-width="1.5" stroke-linejoin="round" stroke-linecap="butt" />
<text x="55.5" y="490" font-size="10.2" text-anchor="start" font-weight="bold" fill="#0a0a0a" font-family='"Liberation Sans", sans-serif' >Energy balance over build (300 s Delay)</text>
<text x="30.8" y="492.4" font-size="11.8" text-anchor="start" font-weight="normal" fill="#262626" font-family='"Liberation Sans", sans-serif' >×</text>
<text x="36.5" y="491.8" font-size="9.9" text-anchor="start" font-weight="normal" fill="#262626" font-family='"Liberation Sans", sans-serif' >10</text>
<text x="48.6" y="487.7" font-size="7.6" text-anchor="start" font-weight="normal" fill="#262626" font-family='"Liberation Sans", sans-serif' >6</text>
<rect x="37.4" y="501.5" width="108.4" height="45.2" fill="#fff" stroke="#c4c4c4" stroke-width="0.9"/>
<line x1="39.5" y1="508.1" x2="58.5" y2="508.1" stroke="#0072bd" stroke-width="1.5"/>
<text x="60.7" y="511.1" font-size="8.35" text-anchor="start" font-weight="bold" fill="#0a0a0a" font-family='"Liberation Sans", sans-serif' >Heat input</text>
<line x1="39.5" y1="518.6" x2="58.5" y2="518.6" stroke="#d95319" stroke-width="1.5"/>
<text x="60.7" y="521.6" font-size="8.35" text-anchor="start" font-weight="bold" fill="#0a0a0a" font-family='"Liberation Sans", sans-serif' >Convecton+radiation</text>
<line x1="39.5" y1="529.3" x2="58.5" y2="529.3" stroke="#edb120" stroke-width="1.5"/>
<text x="60.7" y="532.3" font-size="8.35" text-anchor="start" font-weight="bold" fill="#0a0a0a" font-family='"Liberation Sans", sans-serif' >Conduction to base</text>
<line x1="39.5" y1="540.2" x2="58.5" y2="540.2" stroke="#77ac30" stroke-width="1.5"/>
<text x="60.7" y="543.2" font-size="8.35" text-anchor="start" font-weight="bold" fill="#0a0a0a" font-family='"Liberation Sans", sans-serif' >Total transferred out</text>
<text x="0" y="0" font-size="10.2" font-weight="bold" fill="#262626" font-family='"Liberation Sans", sans-serif' text-anchor="middle" transform="translate(17.5,575.75) rotate(-90)">Heat transfer (J/m)</text>
<text x="138.85" y="683.8" font-size="10.0" text-anchor="middle" font-weight="bold" fill="#262626" font-family='"Liberation Sans", sans-serif' >Time (s)</text>
<path d="M323.9,20.5 L323.9,183.8 L536.6,183.8" fill="none" stroke="#bababa" stroke-width="1.3"/>
<line x1="323.9" y1="183.8" x2="323.9" y2="181.6" stroke="#9a9a9a" stroke-width="0.8"/>
<text x="323.9" y="196.8" font-size="8.8" text-anchor="middle" font-weight="bold" fill="#262626" font-family='"Liberation Sans", sans-serif' >0</text>
<line x1="377.07" y1="183.8" x2="377.07" y2="181.6" stroke="#9a9a9a" stroke-width="0.8"/>
<text x="377.07" y="196.8" font-size="8.8" text-anchor="middle" font-weight="bold" fill="#262626" font-family='"Liberation Sans", sans-serif' >200</text>
<line x1="430.25" y1="183.8" x2="430.25" y2="181.6" stroke="#9a9a9a" stroke-width="0.8"/>
<text x="430.25" y="196.8" font-size="8.8" text-anchor="middle" font-weight="bold" fill="#262626" font-family='"Liberation Sans", sans-serif' >400</text>
<line x1="483.43" y1="183.8" x2="483.43" y2="181.6" stroke="#9a9a9a" stroke-width="0.8"/>
<text x="483.43" y="196.8" font-size="8.8" text-anchor="middle" font-weight="bold" fill="#262626" font-family='"Liberation Sans", sans-serif' >600</text>
<line x1="536.6" y1="183.8" x2="536.6" y2="181.6" stroke="#9a9a9a" stroke-width="0.8"/>
<text x="536.6" y="196.8" font-size="8.8" text-anchor="middle" font-weight="bold" fill="#262626" font-family='"Liberation Sans", sans-serif' >800</text>
<line x1="323.9" y1="183.8" x2="326.1" y2="183.8" stroke="#9a9a9a" stroke-width="0.8"/>
<text x="320.3" y="187.1" font-size="8.8" text-anchor="end" font-weight="bold" fill="#262626" font-family='"Liberation Sans", sans-serif' >0</text>
<line x1="323.9" y1="135.77" x2="326.1" y2="135.77" stroke="#9a9a9a" stroke-width="0.8"/>
<text x="320.3" y="139.07" font-size="8.8" text-anchor="end" font-weight="bold" fill="#262626" font-family='"Liberation Sans", sans-serif' >500</text>
<line x1="323.9" y1="87.74" x2="326.1" y2="87.74" stroke="#9a9a9a" stroke-width="0.8"/>
<text x="320.3" y="91.04" font-size="8.8" text-anchor="end" font-weight="bold" fill="#262626" font-family='"Liberation Sans", sans-serif' >1000</text>
<line x1="323.9" y1="39.71" x2="326.1" y2="39.71" stroke="#9a9a9a" stroke-width="0.8"/>
<text x="320.3" y="43.01" font-size="8.8" text-anchor="end" font-weight="bold" fill="#262626" font-family='"Liberation Sans", sans-serif' >1500</text>
<line x1="323.9" y1="183.3" x2="362.19" y2="183.3" stroke="#e2c9c2" stroke-width="1"/>
<line x1="362.19" y1="183.8" x2="362.19" y2="20.5" stroke="#a6daf2" stroke-width="1.1"/>
<path d="M362.2,20.5 362.4,20.5 362.7,20.5 362.7,23.8 362.7,27.2 362.8,30.4 362.8,33.6 362.8,36.7 362.8,39.8 362.8,42.7 362.9,45.6 362.9,48.3 362.9,51 362.9,53.6 362.9,56.2 363,58.6 363,61 363,63.3 363,65.5 363.1,67.6 363.1,69.7 363.1,71.7 363.1,73.6 363.2,75.4 363.2,77.2 363.2,78.9 363.2,80.6 363.3,82.1 363.3,83.7 363.3,85.1 363.4,86.6 363.4,87.9 363.4,89.3 363.5,90.5 363.5,91.8 363.5,92.9 363.5,94.1 363.6,95.2 363.6,96.3 363.6,97.3 363.7,98.3 363.7,99.2 363.7,100.2 363.8,101.1 363.8,102 363.9,102.8 363.9,103.7 363.9,104.5 364,105.3 364,106 364,106.8 364.1,107.5 364.1,108.3 364.1,109 364.2,109.7 364.2,110.4 364.3,111 364.3,111.7 364.3,112.4 364.4,113 364.4,113.7 364.5,114.3 364.5,114.9 364.6,115.5 364.6,116.1 364.6,116.8 364.7,117.4 364.7,118 364.8,118.6 364.8,119.1 364.9,119.7 364.9,120.3 365,120.9 365,121.5 365.1,122.1 365.1,122.6 365.2,123.2 365.2,123.8 365.3,124.3 365.3,124.9 365.4,125.5 365.4,126 365.5,126.6 365.5,127.2 365.6,127.7 365.6,128.3 365.7,128.8 365.7,129.4 365.8,129.9 365.8,130.5 365.9,131 365.9,131.6 366,132.1 366,132.7 366.1,133.2 366.2,133.7 366.2,134.3 366.3,134.8 366.3,135.4 366.4,135.9 366.5,136.4 366.5,137 366.6,137.5 366.6,138 366.7,138.5 366.8,139 366.8,139.6 366.9,140.1 366.9,140.6 367,141.1 367.1,141.6 367.1,142.1 367.2,142.6 367.3,143.1 367.3,143.6 367.4,144.1 367.5,144.6 367.5,145.1 367.6,145.6 367.7,146.1 367.7,146.6 367.8,147 367.9,147.5 367.9,148 368,148.5 368.1,148.9 368.2,149.4 368.2,149.8 368.3,150.3 368.4,150.8 368.4,151.2 368.5,151.6 368.6,152.1 368.7,152.5 368.7,153 368.8,153.4 368.9,153.8 369,154.3 369,154.7 369.1,155.1 369.2,155.5 369.3,155.9 369.4,156.3 369.4,156.7 369.5,157.1 369.6,157.5 369.7,157.9 369.8,158.3 369.8,158.7 369.9,159.1 370,159.5 370.1,159.9 370.2,160.2 370.2,160.6 370.3,161 370.4,161.3 370.5,161.7 370.6,162 370.7,162.4 370.8,162.7 370.8,163.1 370.9,163.4 371,163.7 371.1,164.1 371.2,164.4 371.3,164.7 371.4,165.1 371.5,165.4 371.6,165.7 371.7,166 371.7,166.3 371.8,166.6 371.9,166.9 372,167.2 372.1,167.5 372.2,167.8 372.3,168.1 372.4,168.3 372.5,168.6 372.6,168.9 372.7,169.1 372.8,169.4 372.9,169.7 373,169.9 373.1,170.2 373.2,170.4 373.4,170.9 373.6,171.4 373.8,171.9 374,172.3 374.2,172.8 374.4,173.2 374.6,173.6 374.8,174 374.9,174.2" fill="none" stroke="#8ccfee" stroke-width="1.0" stroke-linejoin="round" stroke-linecap="butt" />
<line x1="375.48" y1="183.8" x2="375.48" y2="20.5" stroke="#ead0c9" stroke-width="1.15"/>
<path d="M375.5,20.5 375.7,20.5 376,20.5 376.1,23.5 376.1,26.3 376.2,29.1 376.2,31.8 376.2,34.4 376.2,36.9 376.3,39.4 376.3,41.8 376.3,44 376.3,46.3 376.4,48.4 376.4,50.5 376.4,52.5 376.4,54.4 376.5,56.2 376.5,58 376.5,59.7 376.5,61.4 376.6,63 376.6,64.5 376.6,66 376.7,67.4 376.7,68.8 376.7,70.2 376.7,71.4 376.8,72.7 376.8,73.9 376.8,75 376.9,76.2 376.9,77.2 376.9,78.3 377,79.3 377,80.3 377,81.2 377.1,82.2 377.1,83.1 377.1,83.9 377.2,84.8 377.2,85.6 377.3,86.4 377.3,87.2 377.3,88 377.4,88.8 377.4,89.5 377.4,90.3 377.5,91 377.5,91.7 377.6,92.4 377.6,93.1 377.6,93.8 377.7,94.5 377.7,95.2 377.8,95.8 377.8,96.5 377.9,97.1 377.9,97.8 377.9,98.4 378,99.1 378,99.7 378.1,100.3 378.1,101 378.2,101.6 378.2,102.2 378.3,102.8 378.3,103.5 378.4,104.1 378.4,104.7 378.4,105.3 378.5,105.9 378.5,106.6 378.6,107.2 378.6,107.8 378.7,108.4 378.7,109 378.8,109.6 378.9,110.2 378.9,110.8 379,111.5 379,112.1 379.1,112.7 379.1,113.3 379.2,113.9 379.2,114.5 379.3,115.1 379.3,115.7 379.4,116.3 379.5,116.9 379.5,117.5 379.6,118.1 379.6,118.7 379.7,119.3 379.7,119.9 379.8,120.5 379.9,121.1 379.9,121.7 380,122.3 380,122.9 380.1,123.5 380.2,124.1 380.2,124.6 380.3,125.2 380.4,125.8 380.4,126.4 380.5,127 380.6,127.6 380.6,128.1 380.7,128.7 380.8,129.3 380.8,129.9 380.9,130.4 381,131 381,131.6 381.1,132.1 381.2,132.7 381.2,133.2 381.3,133.8 381.4,134.3 381.4,134.9 381.5,135.4 381.6,136 381.7,136.5 381.7,137.1 381.8,137.6 381.9,138.1 382,138.7 382,139.2 382.1,139.7 382.2,140.2 382.3,140.8 382.3,141.3 382.4,141.8 382.5,142.3 382.6,142.8 382.6,143.3 382.7,143.8 382.8,144.3 382.9,144.8 383,145.3 383,145.8 383.1,146.3 383.2,146.8 383.3,147.2 383.4,147.7 383.5,148.2 383.5,148.6 383.6,149.1 383.7,149.6 383.8,150 383.9,150.5 384,150.9 384.1,151.4 384.1,151.8 384.2,152.3 384.3,152.7 384.4,153.1 384.5,153.6 384.6,154 384.7,154.4 384.8,154.8 384.9,155.2 384.9,155.6 385,156.1 385.1,156.5 385.2,156.9 385.3,157.2 385.4,157.6 385.5,158 385.6,158.4 385.7,158.8 385.8,159.2 385.9,159.5 386,159.9 386.1,160.3 386.2,160.6 386.3,161 386.4,161.3 386.5,161.7 386.6,162 386.7,162.4 386.8,162.7 386.9,163.1 387,163.4 387.1,163.7 387.2,164 387.3,164.4 387.4,164.7 387.5,165 387.6,165.3 387.7,165.6 387.8,165.9 387.9,166.2 388,166.5 388.1,166.8 388.2,167.1" fill="none" stroke="#ecdad5" stroke-width="1.3" stroke-linejoin="round" stroke-linecap="butt" stroke-opacity="0.6"/>
<path d="M375.5,20.5 375.7,20.5 376,20.5 376.1,23.5 376.1,26.3 376.2,29.1 376.2,31.8 376.2,34.4 376.2,36.9 376.3,39.4 376.3,41.8 376.3,44 376.3,46.3 376.4,48.4 376.4,50.5 376.4,52.5 376.4,54.4 376.5,56.2 376.5,58 376.5,59.7 376.5,61.4 376.6,63 376.6,64.5 376.6,66 376.7,67.4 376.7,68.8 376.7,70.2 376.7,71.4 376.8,72.7 376.8,73.9 376.8,75 376.9,76.2 376.9,77.2 376.9,78.3 377,79.3 377,80.3 377,81.2 377.1,82.2 377.1,83.1 377.1,83.9 377.2,84.8 377.2,85.6 377.3,86.4 377.3,87.2 377.3,88 377.4,88.8 377.4,89.5 377.4,90.3 377.5,91 377.5,91.7 377.6,92.4 377.6,93.1 377.6,93.8 377.7,94.5 377.7,95.2 377.8,95.8 377.8,96.5 377.9,97.1 377.9,97.8 377.9,98.4 378,99.1 378,99.7 378.1,100.3 378.1,101 378.2,101.6 378.2,102.2 378.3,102.8 378.3,103.5 378.4,104.1 378.4,104.7 378.4,105.3 378.5,105.9 378.5,106.6 378.6,107.2 378.6,107.8 378.7,108.4 378.7,109 378.8,109.6 378.9,110.2 378.9,110.8 379,111.5 379,112.1 379.1,112.7 379.1,113.3 379.2,113.9 379.2,114.5 379.3,115.1 379.3,115.7 379.4,116.3 379.5,116.9 379.5,117.5 379.6,118.1 379.6,118.7 379.7,119.3 379.7,119.9 379.8,120.5 379.9,121.1 379.9,121.7 380,122.3 380,122.9 380.1,123.5 380.2,124.1 380.2,124.6 380.3,125.2 380.4,125.8 380.4,126.4 380.5,127 380.6,127.6 380.6,128.1 380.7,128.7 380.8,129.3 380.8,129.9 380.9,130.4 381,131 381,131.6 381.1,132.1 381.2,132.7 381.2,133.2 381.3,133.8 381.4,134.3 381.4,134.9 381.5,135.4 381.6,136 381.7,136.5 381.7,137.1 381.8,137.6 381.9,138.1 382,138.7 382,139.2 382.1,139.7 382.2,140.2 382.3,140.8 382.3,141.3 382.4,141.8 382.5,142.3 382.6,142.8 382.6,143.3 382.7,143.8 382.8,144.3 382.9,144.8 383,145.3 383,145.8 383.1,146.3 383.2,146.8 383.3,147.2 383.4,147.7 383.5,148.2 383.5,148.6 383.6,149.1 383.7,149.6 383.8,150 383.9,150.5 384,150.9 384.1,151.4 384.1,151.8 384.2,152.3 384.3,152.7 384.4,153.1 384.5,153.6 384.6,154 384.7,154.4 384.8,154.8 384.9,155.2 384.9,155.6 385,156.1 385.1,156.5 385.2,156.9 385.3,157.2 385.4,157.6 385.5,158 385.6,158.4 385.7,158.8 385.8,159.2 385.9,159.5 386,159.9 386.1,160.3 386.2,160.6 386.3,161 386.4,161.3 386.5,161.7 386.6,162 386.7,162.4 386.8,162.7 386.9,163.1 387,163.4 387.1,163.7 387.2,164 387.3,164.4 387.4,164.7 387.5,165 387.6,165.3 387.7,165.6 387.8,165.9 387.9,166.2 388,166.5 388.1,166.8 388.2,167.1" fill="none" stroke="#b89689" stroke-width="0.75" stroke-linejoin="round" stroke-linecap="butt" />
<line x1="388.24" y1="167.09" x2="388.24" y2="20.5" stroke="#ead0c9" stroke-width="1.15"/>
<path d="M388.2,20.5 388.5,20.5 388.7,20.5 388.9,22.3 388.9,25.2 388.9,27.9 389,30.6 389,33.2 389,35.6 389,38.1 389,40.4 389.1,42.6 389.1,44.8 389.1,46.9 389.1,49 389.2,50.9 389.2,52.8 389.2,54.6 389.2,56.4 389.3,58 389.3,59.7 389.3,61.2 389.4,62.7 389.4,64.2 389.4,65.6 389.4,66.9 389.5,68.2 389.5,69.4 389.5,70.6 389.6,71.8 389.6,72.9 389.6,74 389.7,75 389.7,76 389.7,77 389.8,77.9 389.8,78.9 389.8,79.7 389.9,80.6 389.9,81.4 389.9,82.2 390,83 390,83.8 390.1,84.6 390.1,85.3 390.1,86 390.2,86.7 390.2,87.4 390.2,88.1 390.3,88.8 390.3,89.5 390.4,90.1 390.4,90.8 390.4,91.4 390.5,92 390.5,92.6 390.6,93.3 390.6,93.9 390.7,94.5 390.7,95.1 390.7,95.7 390.8,96.3 390.8,96.9 390.9,97.5 390.9,98.1 391,98.6 391,99.2 391.1,99.8 391.1,100.4 391.2,101 391.2,101.6 391.3,102.1 391.3,102.7 391.4,103.3 391.4,103.9 391.5,104.4 391.5,105 391.6,105.6 391.6,106.2 391.7,106.7 391.7,107.3 391.8,107.9 391.8,108.5 391.9,109 391.9,109.6 392,110.2 392,110.8 392.1,111.3 392.2,111.9 392.2,112.5 392.3,113.1 392.3,113.6 392.4,114.2 392.4,114.8 392.5,115.3 392.6,115.9 392.6,116.5 392.7,117 392.7,117.6 392.8,118.2 392.9,118.7 392.9,119.3 393,119.9 393.1,120.4 393.1,121 393.2,121.5 393.3,122.1 393.3,122.6 393.4,123.2 393.4,123.8 393.5,124.3 393.6,124.9 393.7,125.4 393.7,126 393.8,126.5 393.9,127 393.9,127.6 394,128.1 394.1,128.7 394.1,129.2 394.2,129.7 394.3,130.3 394.3,130.8 394.4,131.3 394.5,131.9 394.6,132.4 394.6,132.9 394.7,133.4 394.8,133.9 394.9,134.4 394.9,135 395,135.5 395.1,136 395.2,136.5 395.3,137 395.3,137.5 395.4,138 395.5,138.5 395.6,139 395.6,139.5 395.7,139.9 395.8,140.4 395.9,140.9 396,141.4 396.1,141.9 396.1,142.3 396.2,142.8 396.3,143.3 396.4,143.7 396.5,144.2 396.6,144.6 396.6,145.1 396.7,145.5 396.8,146 396.9,146.4 397,146.9 397.1,147.3 397.2,147.7 397.3,148.2 397.3,148.6 397.4,149 397.5,149.5 397.6,149.9 397.7,150.3 397.8,150.7 397.9,151.1 398,151.5 398.1,151.9 398.2,152.3 398.3,152.7 398.4,153.1 398.5,153.5 398.6,153.9 398.7,154.3 398.7,154.6 398.8,155 398.9,155.4 399,155.7 399.1,156.1 399.2,156.5 399.3,156.8 399.4,157.2 399.5,157.5 399.6,157.9 399.7,158.2 399.8,158.6 399.9,158.9 400.1,159.2 400.2,159.6 400.3,159.9 400.4,160.2 400.5,160.5 400.6,160.9 400.7,161.2 400.8,161.5 400.9,161.8 401,162.1" fill="none" stroke="#ecdad5" stroke-width="1.3" stroke-linejoin="round" stroke-linecap="butt" stroke-opacity="0.6"/>
<path d="M388.2,20.5 388.5,20.5 388.7,20.5 388.9,22.3 388.9,25.2 388.9,27.9 389,30.6 389,33.2 389,35.6 389,38.1 389,40.4 389.1,42.6 389.1,44.8 389.1,46.9 389.1,49 389.2,50.9 389.2,52.8 389.2,54.6 389.2,56.4 389.3,58 389.3,59.7 389.3,61.2 389.4,62.7 389.4,64.2 389.4,65.6 389.4,66.9 389.5,68.2 389.5,69.4 389.5,70.6 389.6,71.8 389.6,72.9 389.6,74 389.7,75 389.7,76 389.7,77 389.8,77.9 389.8,78.9 389.8,79.7 389.9,80.6 389.9,81.4 389.9,82.2 390,83 390,83.8 390.1,84.6 390.1,85.3 390.1,86 390.2,86.7 390.2,87.4 390.2,88.1 390.3,88.8 390.3,89.5 390.4,90.1 390.4,90.8 390.4,91.4 390.5,92 390.5,92.6 390.6,93.3 390.6,93.9 390.7,94.5 390.7,95.1 390.7,95.7 390.8,96.3 390.8,96.9 390.9,97.5 390.9,98.1 391,98.6 391,99.2 391.1,99.8 391.1,100.4 391.2,101 391.2,101.6 391.3,102.1 391.3,102.7 391.4,103.3 391.4,103.9 391.5,104.4 391.5,105 391.6,105.6 391.6,106.2 391.7,106.7 391.7,107.3 391.8,107.9 391.8,108.5 391.9,109 391.9,109.6 392,110.2 392,110.8 392.1,111.3 392.2,111.9 392.2,112.5 392.3,113.1 392.3,113.6 392.4,114.2 392.4,114.8 392.5,115.3 392.6,115.9 392.6,116.5 392.7,117 392.7,117.6 392.8,118.2 392.9,118.7 392.9,119.3 393,119.9 393.1,120.4 393.1,121 393.2,121.5 393.3,122.1 393.3,122.6 393.4,123.2 393.4,123.8 393.5,124.3 393.6,124.9 393.7,125.4 393.7,126 393.8,126.5 393.9,127 393.9,127.6 394,128.1 394.1,128.7 394.1,129.2 394.2,129.7 394.3,130.3 394.3,130.8 394.4,131.3 394.5,131.9 394.6,132.4 394.6,132.9 394.7,133.4 394.8,133.9 394.9,134.4 394.9,135 395,135.5 395.1,136 395.2,136.5 395.3,137 395.3,137.5 395.4,138 395.5,138.5 395.6,139 395.6,139.5 395.7,139.9 395.8,140.4 395.9,140.9 396,141.4 396.1,141.9 396.1,142.3 396.2,142.8 396.3,143.3 396.4,143.7 396.5,144.2 396.6,144.6 396.6,145.1 396.7,145.5 396.8,146 396.9,146.4 397,146.9 397.1,147.3 397.2,147.7 397.3,148.2 397.3,148.6 397.4,149 397.5,149.5 397.6,149.9 397.7,150.3 397.8,150.7 397.9,151.1 398,151.5 398.1,151.9 398.2,152.3 398.3,152.7 398.4,153.1 398.5,153.5 398.6,153.9 398.7,154.3 398.7,154.6 398.8,155 398.9,155.4 399,155.7 399.1,156.1 399.2,156.5 399.3,156.8 399.4,157.2 399.5,157.5 399.6,157.9 399.7,158.2 399.8,158.6 399.9,158.9 400.1,159.2 400.2,159.6 400.3,159.9 400.4,160.2 400.5,160.5 400.6,160.9 400.7,161.2 400.8,161.5 400.9,161.8 401,162.1" fill="none" stroke="#b89689" stroke-width="0.75" stroke-linejoin="round" stroke-linecap="butt" />
<line x1="401" y1="162.09" x2="401" y2="20.5" stroke="#ead0c9" stroke-width="1.15"/>
<path d="M401,20.5 401.3,20.5 401.5,20.5 401.6,21.3 401.7,24.1 401.7,26.8 401.7,29.5 401.7,32 401.8,34.5 401.8,36.9 401.8,39.2 401.8,41.4 401.9,43.5 401.9,45.6 401.9,47.6 401.9,49.5 402,51.4 402,53.1 402,54.9 402,56.5 402.1,58.1 402.1,59.6 402.1,61.1 402.2,62.5 402.2,63.8 402.2,65.1 402.2,66.4 402.3,67.6 402.3,68.8 402.3,69.9 402.4,71 402.4,72 402.4,73 402.5,74 402.5,74.9 402.5,75.8 402.6,76.7 402.6,77.5 402.6,78.3 402.7,79.1 402.7,79.9 402.7,80.7 402.8,81.4 402.8,82.1 402.9,82.8 402.9,83.5 402.9,84.2 403,84.8 403,85.5 403,86.1 403.1,86.7 403.1,87.3 403.2,87.9 403.2,88.5 403.2,89.1 403.3,89.7 403.3,90.3 403.4,90.9 403.4,91.4 403.5,92 403.5,92.6 403.6,93.1 403.6,93.7 403.6,94.2 403.7,94.8 403.7,95.3 403.8,95.9 403.8,96.4 403.9,97 403.9,97.5 404,98 404,98.6 404.1,99.1 404.1,99.7 404.2,100.2 404.2,100.7 404.3,101.3 404.3,101.8 404.4,102.4 404.4,102.9 404.5,103.4 404.5,104 404.6,104.5 404.6,105.1 404.7,105.6 404.8,106.1 404.8,106.7 404.9,107.2 404.9,107.8 405,108.3 405,108.8 405.1,109.4 405.2,109.9 405.2,110.5 405.3,111 405.3,111.5 405.4,112.1 405.5,112.6 405.5,113.1 405.6,113.7 405.6,114.2 405.7,114.7 405.8,115.3 405.8,115.8 405.9,116.3 406,116.9 406,117.4 406.1,117.9 406.1,118.5 406.2,119 406.3,119.5 406.3,120.1 406.4,120.6 406.5,121.1 406.5,121.6 406.6,122.1 406.7,122.7 406.8,123.2 406.8,123.7 406.9,124.2 407,124.7 407,125.2 407.1,125.8 407.2,126.3 407.3,126.8 407.3,127.3 407.4,127.8 407.5,128.3 407.6,128.8 407.6,129.3 407.7,129.8 407.8,130.3 407.9,130.8 407.9,131.3 408,131.7 408.1,132.2 408.2,132.7 408.2,133.2 408.3,133.7 408.4,134.1 408.5,134.6 408.6,135.1 408.7,135.6 408.7,136 408.8,136.5 408.9,137 409,137.4 409.1,137.9 409.1,138.3 409.2,138.8 409.3,139.2 409.4,139.7 409.5,140.1 409.6,140.6 409.7,141 409.8,141.4 409.8,141.9 409.9,142.3 410,142.7 410.1,143.2 410.2,143.6 410.3,144 410.4,144.4 410.5,144.8 410.6,145.3 410.7,145.7 410.7,146.1 410.8,146.5 410.9,146.9 411,147.3 411.1,147.7 411.2,148 411.3,148.4 411.4,148.8 411.5,149.2 411.6,149.6 411.7,150 411.8,150.3 411.9,150.7 412,151.1 412.1,151.4 412.2,151.8 412.3,152.1 412.4,152.5 412.5,152.8 412.6,153.2 412.7,153.5 412.8,153.9 412.9,154.2 413,154.5 413.1,154.9 413.2,155.2 413.3,155.5 413.4,155.9 413.6,156.2 413.7,156.5 413.8,156.8" fill="none" stroke="#ecdad5" stroke-width="1.3" stroke-linejoin="round" stroke-linecap="butt" stroke-opacity="0.6"/>
<path d="M401,20.5 401.3,20.5 401.5,20.5 401.6,21.3 401.7,24.1 401.7,26.8 401.7,29.5 401.7,32 401.8,34.5 401.8,36.9 401.8,39.2 401.8,41.4 401.9,43.5 401.9,45.6 401.9,47.6 401.9,49.5 402,51.4 402,53.1 402,54.9 402,56.5 402.1,58.1 402.1,59.6 402.1,61.1 402.2,62.5 402.2,63.8 402.2,65.1 402.2,66.4 402.3,67.6 402.3,68.8 402.3,69.9 402.4,71 402.4,72 402.4,73 402.5,74 402.5,74.9 402.5,75.8 402.6,76.7 402.6,77.5 402.6,78.3 402.7,79.1 402.7,79.9 402.7,80.7 402.8,81.4 402.8,82.1 402.9,82.8 402.9,83.5 402.9,84.2 403,84.8 403,85.5 403,86.1 403.1,86.7 403.1,87.3 403.2,87.9 403.2,88.5 403.2,89.1 403.3,89.7 403.3,90.3 403.4,90.9 403.4,91.4 403.5,92 403.5,92.6 403.6,93.1 403.6,93.7 403.6,94.2 403.7,94.8 403.7,95.3 403.8,95.9 403.8,96.4 403.9,97 403.9,97.5 404,98 404,98.6 404.1,99.1 404.1,99.7 404.2,100.2 404.2,100.7 404.3,101.3 404.3,101.8 404.4,102.4 404.4,102.9 404.5,103.4 404.5,104 404.6,104.5 404.6,105.1 404.7,105.6 404.8,106.1 404.8,106.7 404.9,107.2 404.9,107.8 405,108.3 405,108.8 405.1,109.4 405.2,109.9 405.2,110.5 405.3,111 405.3,111.5 405.4,112.1 405.5,112.6 405.5,113.1 405.6,113.7 405.6,114.2 405.7,114.7 405.8,115.3 405.8,115.8 405.9,116.3 406,116.9 406,117.4 406.1,117.9 406.1,118.5 406.2,119 406.3,119.5 406.3,120.1 406.4,120.6 406.5,121.1 406.5,121.6 406.6,122.1 406.7,122.7 406.8,123.2 406.8,123.7 406.9,124.2 407,124.7 407,125.2 407.1,125.8 407.2,126.3 407.3,126.8 407.3,127.3 407.4,127.8 407.5,128.3 407.6,128.8 407.6,129.3 407.7,129.8 407.8,130.3 407.9,130.8 407.9,131.3 408,131.7 408.1,132.2 408.2,132.7 408.2,133.2 408.3,133.7 408.4,134.1 408.5,134.6 408.6,135.1 408.7,135.6 408.7,136 408.8,136.5 408.9,137 409,137.4 409.1,137.9 409.1,138.3 409.2,138.8 409.3,139.2 409.4,139.7 409.5,140.1 409.6,140.6 409.7,141 409.8,141.4 409.8,141.9 409.9,142.3 410,142.7 410.1,143.2 410.2,143.6 410.3,144 410.4,144.4 410.5,144.8 410.6,145.3 410.7,145.7 410.7,146.1 410.8,146.5 410.9,146.9 411,147.3 411.1,147.7 411.2,148 411.3,148.4 411.4,148.8 411.5,149.2 411.6,149.6 411.7,150 411.8,150.3 411.9,150.7 412,151.1 412.1,151.4 412.2,151.8 412.3,152.1 412.4,152.5 412.5,152.8 412.6,153.2 412.7,153.5 412.8,153.9 412.9,154.2 413,154.5 413.1,154.9 413.2,155.2 413.3,155.5 413.4,155.9 413.6,156.2 413.7,156.5 413.8,156.8" fill="none" stroke="#b89689" stroke-width="0.75" stroke-linejoin="round" stroke-linecap="butt" />
<line x1="413.77" y1="156.81" x2="413.77" y2="20.5" stroke="#ead0c9" stroke-width="1.15"/>
<path d="M413.8,20.5 414,20.5 414.3,20.5 414.4,23.3 414.5,26 414.5,28.6 414.5,31.1 414.5,33.5 414.5,35.9 414.6,38.2 414.6,40.4 414.6,42.5 414.6,44.5 414.7,46.5 414.7,48.4 414.7,50.2 414.7,52 414.8,53.6 414.8,55.3 414.8,56.8 414.9,58.3 414.9,59.7 414.9,61.1 414.9,62.4 415,63.7 415,64.9 415,66.1 415.1,67.2 415.1,68.3 415.1,69.4 415.2,70.4 415.2,71.4 415.2,72.3 415.3,73.2 415.3,74.1 415.3,74.9 415.4,75.7 415.4,76.5 415.4,77.3 415.5,78 415.5,78.7 415.5,79.4 415.6,80.1 415.6,80.8 415.7,81.4 415.7,82.1 415.7,82.7 415.8,83.3 415.8,83.9 415.8,84.5 415.9,85.1 415.9,85.7 416,86.2 416,86.8 416.1,87.3 416.1,87.9 416.1,88.4 416.2,89 416.2,89.5 416.3,90 416.3,90.5 416.4,91.1 416.4,91.6 416.5,92.1 416.5,92.6 416.5,93.1 416.6,93.6 416.6,94.2 416.7,94.7 416.7,95.2 416.8,95.7 416.8,96.2 416.9,96.7 416.9,97.2 417,97.7 417,98.2 417.1,98.7 417.1,99.3 417.2,99.8 417.2,100.3 417.3,100.8 417.4,101.3 417.4,101.8 417.5,102.3 417.5,102.8 417.6,103.3 417.6,103.8 417.7,104.4 417.7,104.9 417.8,105.4 417.9,105.9 417.9,106.4 418,106.9 418,107.4 418.1,107.9 418.2,108.5 418.2,109 418.3,109.5 418.3,110 418.4,110.5 418.5,111 418.5,111.5 418.6,112 418.6,112.5 418.7,113 418.8,113.6 418.8,114.1 418.9,114.6 419,115.1 419,115.6 419.1,116.1 419.2,116.6 419.2,117.1 419.3,117.6 419.4,118.1 419.4,118.6 419.5,119.1 419.6,119.6 419.7,120.1 419.7,120.6 419.8,121.1 419.9,121.6 419.9,122.1 420,122.6 420.1,123.1 420.2,123.5 420.2,124 420.3,124.5 420.4,125 420.5,125.5 420.5,126 420.6,126.4 420.7,126.9 420.8,127.4 420.9,127.9 420.9,128.3 421,128.8 421.1,129.3 421.2,129.7 421.3,130.2 421.3,130.7 421.4,131.1 421.5,131.6 421.6,132 421.7,132.5 421.7,133 421.8,133.4 421.9,133.9 422,134.3 422.1,134.7 422.2,135.2 422.3,135.6 422.3,136.1 422.4,136.5 422.5,136.9 422.6,137.4 422.7,137.8 422.8,138.2 422.9,138.6 423,139.1 423.1,139.5 423.1,139.9 423.2,140.3 423.3,140.7 423.4,141.1 423.5,141.5 423.6,141.9 423.7,142.3 423.8,142.7 423.9,143.1 424,143.5 424.1,143.9 424.2,144.3 424.3,144.7 424.4,145 424.5,145.4 424.6,145.8 424.7,146.2 424.8,146.5 424.9,146.9 425,147.3 425.1,147.6 425.2,148 425.3,148.3 425.4,148.7 425.5,149 425.6,149.4 425.7,149.7 425.8,150.1 425.9,150.4 426,150.8 426.1,151.1 426.2,151.4 426.3,151.7 426.4,152.1 426.5,152.4" fill="none" stroke="#ecdad5" stroke-width="1.3" stroke-linejoin="round" stroke-linecap="butt" stroke-opacity="0.6"/>
<path d="M413.8,20.5 414,20.5 414.3,20.5 414.4,23.3 414.5,26 414.5,28.6 414.5,31.1 414.5,33.5 414.5,35.9 414.6,38.2 414.6,40.4 414.6,42.5 414.6,44.5 414.7,46.5 414.7,48.4 414.7,50.2 414.7,52 414.8,53.6 414.8,55.3 414.8,56.8 414.9,58.3 414.9,59.7 414.9,61.1 414.9,62.4 415,63.7 415,64.9 415,66.1 415.1,67.2 415.1,68.3 415.1,69.4 415.2,70.4 415.2,71.4 415.2,72.3 415.3,73.2 415.3,74.1 415.3,74.9 415.4,75.7 415.4,76.5 415.4,77.3 415.5,78 415.5,78.7 415.5,79.4 415.6,80.1 415.6,80.8 415.7,81.4 415.7,82.1 415.7,82.7 415.8,83.3 415.8,83.9 415.8,84.5 415.9,85.1 415.9,85.7 416,86.2 416,86.8 416.1,87.3 416.1,87.9 416.1,88.4 416.2,89 416.2,89.5 416.3,90 416.3,90.5 416.4,91.1 416.4,91.6 416.5,92.1 416.5,92.6 416.5,93.1 416.6,93.6 416.6,94.2 416.7,94.7 416.7,95.2 416.8,95.7 416.8,96.2 416.9,96.7 416.9,97.2 417,97.7 417,98.2 417.1,98.7 417.1,99.3 417.2,99.8 417.2,100.3 417.3,100.8 417.4,101.3 417.4,101.8 417.5,102.3 417.5,102.8 417.6,103.3 417.6,103.8 417.7,104.4 417.7,104.9 417.8,105.4 417.9,105.9 417.9,106.4 418,106.9 418,107.4 418.1,107.9 418.2,108.5 418.2,109 418.3,109.5 418.3,110 418.4,110.5 418.5,111 418.5,111.5 418.6,112 418.6,112.5 418.7,113 418.8,113.6 418.8,114.1 418.9,114.6 419,115.1 419,115.6 419.1,116.1 419.2,116.6 419.2,117.1 419.3,117.6 419.4,118.1 419.4,118.6 419.5,119.1 419.6,119.6 419.7,120.1 419.7,120.6 419.8,121.1 419.9,121.6 419.9,122.1 420,122.6 420.1,123.1 420.2,123.5 420.2,124 420.3,124.5 420.4,125 420.5,125.5 420.5,126 420.6,126.4 420.7,126.9 420.8,127.4 420.9,127.9 420.9,128.3 421,128.8 421.1,129.3 421.2,129.7 421.3,130.2 421.3,130.7 421.4,131.1 421.5,131.6 421.6,132 421.7,132.5 421.7,133 421.8,133.4 421.9,133.9 422,134.3 422.1,134.7 422.2,135.2 422.3,135.6 422.3,136.1 422.4,136.5 422.5,136.9 422.6,137.4 422.7,137.8 422.8,138.2 422.9,138.6 423,139.1 423.1,139.5 423.1,139.9 423.2,140.3 423.3,140.7 423.4,141.1 423.5,141.5 423.6,141.9 423.7,142.3 423.8,142.7 423.9,143.1 424,143.5 424.1,143.9 424.2,144.3 424.3,144.7 424.4,145 424.5,145.4 424.6,145.8 424.7,146.2 424.8,146.5 424.9,146.9 425,147.3 425.1,147.6 425.2,148 425.3,148.3 425.4,148.7 425.5,149 425.6,149.4 425.7,149.7 425.8,150.1 425.9,150.4 426,150.8 426.1,151.1 426.2,151.4 426.3,151.7 426.4,152.1 426.5,152.4" fill="none" stroke="#b89689" stroke-width="0.75" stroke-linejoin="round" stroke-linecap="butt" />
<line x1="426.53" y1="152.39" x2="426.53" y2="36.83" stroke="#ead0c9" stroke-width="1.15"/>
<path d="M426.5,36.8 426.5,37.1 426.6,37.4 426.6,37.8 426.6,38.1 426.6,38.4 426.6,38.7 426.7,38.9 426.7,39.2 426.7,39.6 426.7,39.9 426.7,40.3 426.8,40.6 426.8,41 426.8,41.5 426.8,41.9 426.9,42.4 426.9,42.9 426.9,43.1 426.9,43.4 426.9,43.7 427,43.9 427,44.2 427,44.5 427,44.8 427,45.1 427.1,45.3 427.1,45.6 427.1,46 427.1,46.3 427.1,46.6 427.2,46.9 427.2,47.2 427.2,47.6 427.2,47.9 427.2,48.2 427.3,48.6 427.3,48.9 427.3,49.3 427.3,49.7 427.4,50 427.4,50.4 427.4,50.8 427.4,51.2 427.5,51.5 427.5,51.9 427.5,52.3 427.5,52.7 427.6,53.1 427.6,53.5 427.6,54 427.6,54.4 427.7,54.8 427.7,55.2 427.7,55.7 427.8,56.1 427.8,56.5 427.8,57 427.9,57.4 427.9,57.9 427.9,58.3 428,58.8 428,59.3 428,59.7 428.1,60.2 428.1,60.7 428.1,61.2 428.2,61.7 428.2,62.1 428.2,62.6 428.3,63.1 428.3,63.6 428.3,64.1 428.4,64.6 428.4,65.2 428.5,65.7 428.5,66.2 428.5,66.7 428.6,67.2 428.6,67.8 428.6,68.3 428.7,68.8 428.7,69.4 428.8,69.9 428.8,70.4 428.9,71 428.9,71.5 428.9,72.1 429,72.6 429,73.2 429.1,73.8 429.1,74.3 429.2,74.9 429.2,75.5 429.3,76 429.3,76.6 429.4,77.2 429.4,77.7 429.4,78.3 429.5,78.9 429.5,79.5 429.6,80.1 429.6,80.7 429.7,81.2 429.7,81.8 429.8,82.4 429.8,83 429.9,83.6 430,84.2 430,84.8 430.1,85.4 430.1,86 430.2,86.6 430.2,87.2 430.3,87.8 430.3,88.4 430.4,89 430.4,89.6 430.5,90.2 430.6,90.8 430.6,91.4 430.7,92.1 430.7,92.7 430.8,93.3 430.9,93.9 430.9,94.5 431,95.1 431,95.7 431.1,96.3 431.2,96.9 431.2,97.6 431.3,98.2 431.3,98.8 431.4,99.4 431.5,100 431.5,100.6 431.6,101.2 431.7,101.8 431.7,102.5 431.8,103.1 431.9,103.7 431.9,104.3 432,104.9 432.1,105.5 432.1,106.1 432.2,106.7 432.3,107.3 432.4,107.9 432.4,108.6 432.5,109.2 432.6,109.8 432.6,110.4 432.7,111 432.8,111.6 432.9,112.2 432.9,112.8 433,113.4 433.1,114 433.2,114.6 433.2,115.1 433.3,115.7 433.4,116.3 433.5,116.9 433.5,117.5 433.6,118.1 433.7,118.7 433.8,119.3 433.9,119.8 433.9,120.4 434,121 434.1,121.6 434.2,122.1 434.3,122.7 434.3,123.3 434.4,123.9 434.5,124.4 434.6,125 434.7,125.5 434.8,126.1 434.8,126.7 434.9,127.2 435,127.8 435.1,128.3 435.2,128.9 435.3,129.4 435.4,129.9 435.5,130.5 435.5,131 435.6,131.6 435.7,132.1 435.8,132.6 435.9,133.1 436,133.7 436.1,134.2 436.2,134.7 436.3,135.2 436.4,135.7 436.5,136.2 436.6,136.7 436.6,137.3 436.7,137.8 436.8,138.3 436.9,138.7 437,139.2 437.1,139.7 437.2,140.2 437.3,140.7 437.4,141.2 437.5,141.7 437.6,142.1 437.7,142.6 437.8,143.1 437.9,143.5 438,144 438.1,144.5 438.2,144.9 438.3,145.4 438.4,145.8 438.5,146.3 438.7,146.7 438.8,147.2 438.9,147.6 439,148 439.1,148.5 439.2,148.9 439.3,149.3" fill="none" stroke="#ecdad5" stroke-width="1.3" stroke-linejoin="round" stroke-linecap="butt" stroke-opacity="0.6"/>
<path d="M426.5,36.8 426.5,37.1 426.6,37.4 426.6,37.8 426.6,38.1 426.6,38.4 426.6,38.7 426.7,38.9 426.7,39.2 426.7,39.6 426.7,39.9 426.7,40.3 426.8,40.6 426.8,41 426.8,41.5 426.8,41.9 426.9,42.4 426.9,42.9 426.9,43.1 426.9,43.4 426.9,43.7 427,43.9 427,44.2 427,44.5 427,44.8 427,45.1 427.1,45.3 427.1,45.6 427.1,46 427.1,46.3 427.1,46.6 427.2,46.9 427.2,47.2 427.2,47.6 427.2,47.9 427.2,48.2 427.3,48.6 427.3,48.9 427.3,49.3 427.3,49.7 427.4,50 427.4,50.4 427.4,50.8 427.4,51.2 427.5,51.5 427.5,51.9 427.5,52.3 427.5,52.7 427.6,53.1 427.6,53.5 427.6,54 427.6,54.4 427.7,54.8 427.7,55.2 427.7,55.7 427.8,56.1 427.8,56.5 427.8,57 427.9,57.4 427.9,57.9 427.9,58.3 428,58.8 428,59.3 428,59.7 428.1,60.2 428.1,60.7 428.1,61.2 428.2,61.7 428.2,62.1 428.2,62.6 428.3,63.1 428.3,63.6 428.3,64.1 428.4,64.6 428.4,65.2 428.5,65.7 428.5,66.2 428.5,66.7 428.6,67.2 428.6,67.8 428.6,68.3 428.7,68.8 428.7,69.4 428.8,69.9 428.8,70.4 428.9,71 428.9,71.5 428.9,72.1 429,72.6 429,73.2 429.1,73.8 429.1,74.3 429.2,74.9 429.2,75.5 429.3,76 429.3,76.6 429.4,77.2 429.4,77.7 429.4,78.3 429.5,78.9 429.5,79.5 429.6,80.1 429.6,80.7 429.7,81.2 429.7,81.8 429.8,82.4 429.8,83 429.9,83.6 430,84.2 430,84.8 430.1,85.4 430.1,86 430.2,86.6 430.2,87.2 430.3,87.8 430.3,88.4 430.4,89 430.4,89.6 430.5,90.2 430.6,90.8 430.6,91.4 430.7,92.1 430.7,92.7 430.8,93.3 430.9,93.9 430.9,94.5 431,95.1 431,95.7 431.1,96.3 431.2,96.9 431.2,97.6 431.3,98.2 431.3,98.8 431.4,99.4 431.5,100 431.5,100.6 431.6,101.2 431.7,101.8 431.7,102.5 431.8,103.1 431.9,103.7 431.9,104.3 432,104.9 432.1,105.5 432.1,106.1 432.2,106.7 432.3,107.3 432.4,107.9 432.4,108.6 432.5,109.2 432.6,109.8 432.6,110.4 432.7,111 432.8,111.6 432.9,112.2 432.9,112.8 433,113.4 433.1,114 433.2,114.6 433.2,115.1 433.3,115.7 433.4,116.3 433.5,116.9 433.5,117.5 433.6,118.1 433.7,118.7 433.8,119.3 433.9,119.8 433.9,120.4 434,121 434.1,121.6 434.2,122.1 434.3,122.7 434.3,123.3 434.4,123.9 434.5,124.4 434.6,125 434.7,125.5 434.8,126.1 434.8,126.7 434.9,127.2 435,127.8 435.1,128.3 435.2,128.9 435.3,129.4 435.4,129.9 435.5,130.5 435.5,131 435.6,131.6 435.7,132.1 435.8,132.6 435.9,133.1 436,133.7 436.1,134.2 436.2,134.7 436.3,135.2 436.4,135.7 436.5,136.2 436.6,136.7 436.6,137.3 436.7,137.8 436.8,138.3 436.9,138.7 437,139.2 437.1,139.7 437.2,140.2 437.3,140.7 437.4,141.2 437.5,141.7 437.6,142.1 437.7,142.6 437.8,143.1 437.9,143.5 438,144 438.1,144.5 438.2,144.9 438.3,145.4 438.4,145.8 438.5,146.3 438.7,146.7 438.8,147.2 438.9,147.6 439,148 439.1,148.5 439.2,148.9 439.3,149.3" fill="none" stroke="#b89689" stroke-width="0.75" stroke-linejoin="round" stroke-linecap="butt" />
<line x1="439.29" y1="149.31" x2="439.42" y2="79.77" stroke="#ead0c9" stroke-width="1.15"/>
<path d="M439.4,79.8 439.5,80 439.5,80.3 439.5,80.6 439.6,80.9 439.6,81.2 439.6,81.5 439.7,81.8 439.7,82.1 439.7,82.4 439.8,82.8 439.8,83.1 439.9,83.3 439.9,83.6 439.9,83.9 440,84.2 440,84.5 440,84.9 440.1,85.2 440.1,85.6 440.2,85.9 440.2,86.3 440.3,86.7 440.3,87.1 440.4,87.5 440.4,87.9 440.5,88.3 440.5,88.7 440.6,89.2 440.6,89.6 440.7,90.1 440.8,90.6 440.8,91 440.9,91.5 441,92 441,92.3 441,92.5 441.1,92.8 441.1,93.1 441.1,93.3 441.2,93.6 441.2,93.9 441.3,94.1 441.3,94.4 441.3,94.7 441.4,95 441.4,95.2 441.4,95.5 441.5,95.8 441.5,96.1 441.6,96.4 441.6,96.7 441.6,97 441.7,97.2 441.7,97.5 441.8,97.8 441.8,98.1 441.9,98.4 441.9,98.7 441.9,99 442,99.4 442,99.7 442.1,100 442.1,100.3 442.2,100.6 442.2,100.9 442.3,101.2 442.3,101.5 442.4,101.9 442.4,102.2 442.5,102.5 442.5,102.8 442.6,103.2 442.6,103.5 442.7,103.8 442.7,104.2 442.8,104.5 442.8,104.8 442.9,105.2 442.9,105.5 443,105.8 443,106.2 443.1,106.5 443.1,106.9 443.2,107.2 443.2,107.5 443.3,107.9 443.4,108.2 443.4,108.6 443.5,108.9 443.5,109.3 443.6,109.6 443.6,110 443.7,110.3 443.8,110.7 443.8,111 443.9,111.4 443.9,111.8 444,112.1 444.1,112.5 444.1,112.8 444.2,113.2 444.3,113.6 444.3,113.9 444.4,114.3 444.4,114.6 444.5,115 444.6,115.4 444.6,115.7 444.7,116.1 444.8,116.5 444.8,116.8 444.9,117.2 445,117.6 445,117.9 445.1,118.3 445.2,118.7 445.3,119 445.3,119.4 445.4,119.8 445.5,120.1 445.5,120.5 445.6,120.9 445.7,121.3 445.8,121.6 445.8,122 445.9,122.4 446,122.7 446.1,123.1 446.1,123.5 446.2,123.9 446.3,124.2 446.4,124.6 446.4,125 446.5,125.3 446.6,125.7 446.7,126.1 446.7,126.5 446.8,126.8 446.9,127.2 447,127.6 447.1,127.9 447.2,128.3 447.2,128.7 447.3,129 447.4,129.4 447.5,129.8 447.6,130.1 447.7,130.5 447.7,130.9 447.8,131.2 447.9,131.6 448,132 448.1,132.3 448.2,132.7 448.3,133.1 448.3,133.4 448.4,133.8 448.5,134.1 448.6,134.5 448.7,134.9 448.8,135.2 448.9,135.6 449,135.9 449.1,136.3 449.2,136.6 449.3,137 449.3,137.4 449.4,137.7 449.5,138.1 449.6,138.4 449.7,138.8 449.8,139.1 449.9,139.5 450,139.8 450.1,140.2 450.2,140.5 450.3,140.8 450.4,141.2 450.5,141.5 450.6,141.9 450.7,142.2 450.8,142.6 450.9,142.9 451,143.2 451.1,143.6 451.2,143.9 451.3,144.2 451.4,144.6 451.5,144.9 451.6,145.2 451.7,145.6 451.8,145.9 451.9,146.2 452.1,146.5" fill="none" stroke="#dcc4bc" stroke-width="2.42" stroke-linejoin="round" stroke-linecap="butt" stroke-opacity="0.75"/>
<path d="M439.4,79.8 439.5,80 439.5,80.3 439.5,80.6 439.6,80.9 439.6,81.2 439.6,81.5 439.7,81.8 439.7,82.1 439.7,82.4 439.8,82.8 439.8,83.1 439.9,83.3 439.9,83.6 439.9,83.9 440,84.2 440,84.5 440,84.9 440.1,85.2 440.1,85.6 440.2,85.9 440.2,86.3 440.3,86.7 440.3,87.1 440.4,87.5 440.4,87.9 440.5,88.3 440.5,88.7 440.6,89.2 440.6,89.6 440.7,90.1 440.8,90.6 440.8,91 440.9,91.5 441,92 441,92.3 441,92.5 441.1,92.8 441.1,93.1 441.1,93.3 441.2,93.6 441.2,93.9 441.3,94.1 441.3,94.4 441.3,94.7 441.4,95 441.4,95.2 441.4,95.5 441.5,95.8 441.5,96.1 441.6,96.4 441.6,96.7 441.6,97 441.7,97.2 441.7,97.5 441.8,97.8 441.8,98.1 441.9,98.4 441.9,98.7 441.9,99 442,99.4 442,99.7 442.1,100 442.1,100.3 442.2,100.6 442.2,100.9 442.3,101.2 442.3,101.5 442.4,101.9 442.4,102.2 442.5,102.5 442.5,102.8 442.6,103.2 442.6,103.5 442.7,103.8 442.7,104.2 442.8,104.5 442.8,104.8 442.9,105.2 442.9,105.5 443,105.8 443,106.2 443.1,106.5 443.1,106.9 443.2,107.2 443.2,107.5 443.3,107.9 443.4,108.2 443.4,108.6 443.5,108.9 443.5,109.3 443.6,109.6 443.6,110 443.7,110.3 443.8,110.7 443.8,111 443.9,111.4 443.9,111.8 444,112.1 444.1,112.5 444.1,112.8 444.2,113.2 444.3,113.6 444.3,113.9 444.4,114.3 444.4,114.6 444.5,115 444.6,115.4 444.6,115.7 444.7,116.1 444.8,116.5 444.8,116.8 444.9,117.2 445,117.6 445,117.9 445.1,118.3 445.2,118.7 445.3,119 445.3,119.4 445.4,119.8 445.5,120.1 445.5,120.5 445.6,120.9 445.7,121.3 445.8,121.6 445.8,122 445.9,122.4 446,122.7 446.1,123.1 446.1,123.5 446.2,123.9 446.3,124.2 446.4,124.6 446.4,125 446.5,125.3 446.6,125.7 446.7,126.1 446.7,126.5 446.8,126.8 446.9,127.2 447,127.6 447.1,127.9 447.2,128.3 447.2,128.7 447.3,129 447.4,129.4 447.5,129.8 447.6,130.1 447.7,130.5 447.7,130.9 447.8,131.2 447.9,131.6 448,132 448.1,132.3 448.2,132.7 448.3,133.1 448.3,133.4 448.4,133.8 448.5,134.1 448.6,134.5 448.7,134.9 448.8,135.2 448.9,135.6 449,135.9 449.1,136.3 449.2,136.6 449.3,137 449.3,137.4 449.4,137.7 449.5,138.1 449.6,138.4 449.7,138.8 449.8,139.1 449.9,139.5 450,139.8 450.1,140.2 450.2,140.5 450.3,140.8 450.4,141.2 450.5,141.5 450.6,141.9 450.7,142.2 450.8,142.6 450.9,142.9 451,143.2 451.1,143.6 451.2,143.9 451.3,144.2 451.4,144.6 451.5,144.9 451.6,145.2 451.7,145.6 451.8,145.9 451.9,146.2 452.1,146.5" fill="none" stroke="#a27e6e" stroke-width="1.2" stroke-linejoin="round" stroke-linecap="butt" />
<line x1="452.05" y1="146.53" x2="453.12" y2="91.2" stroke="#ead0c9" stroke-width="1.15"/>
<path d="M453.1,91.2 453.2,91.4 453.2,91.7 453.2,92 453.3,92.3 453.3,92.6 453.4,92.9 453.4,93.2 453.5,93.5 453.5,93.8 453.5,94.1 453.6,94.4 453.7,94.8 453.7,95.1 453.7,95.4 453.8,95.6 453.8,95.9 453.9,96.2 453.9,96.5 454,96.8 454,97.1 454.1,97.4 454.1,97.7 454.2,98.1 454.2,98.4 454.3,98.7 454.3,99.1 454.4,99.4 454.5,99.8 454.5,100.2 454.6,100.6 454.6,101 454.7,101.4 454.8,101.8 454.8,102.2 454.9,102.6 455,103 455.1,103.5 455.1,103.9 455.2,104.4 455.3,104.8 455.4,105.3 455.5,105.7 455.5,106.2 455.6,106.7 455.7,107.2 455.8,107.7 455.9,108.1 456,108.7 456,108.9 456.1,109.2 456.1,109.4 456.2,109.7 456.2,109.9 456.3,110.2 456.3,110.4 456.4,110.7 456.4,111 456.5,111.2 456.5,111.5 456.6,111.8 456.6,112 456.7,112.3 456.7,112.6 456.8,112.8 456.8,113.1 456.9,113.4 456.9,113.7 457,113.9 457,114.2 457.1,114.5 457.1,114.8 457.2,115.1 457.2,115.3 457.3,115.6 457.4,115.9 457.4,116.2 457.5,116.5 457.5,116.7 457.6,117 457.6,117.3 457.7,117.6 457.8,117.9 457.8,118.2 457.9,118.5 458,118.8 458,119.1 458.1,119.3 458.1,119.6 458.2,119.9 458.3,120.2 458.3,120.5 458.4,120.8 458.5,121.1 458.5,121.4 458.6,121.7 458.6,122 458.7,122.3 458.8,122.6 458.8,122.9 458.9,123.2 459,123.5 459.1,123.8 459.1,124.1 459.2,124.4 459.3,124.7 459.3,125 459.4,125.3 459.5,125.6 459.5,125.9 459.6,126.2 459.7,126.5 459.8,126.8 459.8,127.1 459.9,127.4 460,127.7 460.1,128 460.1,128.3 460.2,128.6 460.3,128.9 460.4,129.2 460.4,129.5 460.5,129.8 460.6,130.1 460.7,130.4 460.7,130.7 460.8,131.1 460.9,131.4 461,131.7 461.1,132 461.1,132.3 461.2,132.6 461.3,132.9 461.4,133.2 461.5,133.5 461.5,133.8 461.6,134.1 461.7,134.4 461.8,134.7 461.9,135 462,135.3 462,135.6 462.1,135.9 462.2,136.2 462.3,136.5 462.4,136.8 462.5,137.1 462.6,137.4 462.7,137.7 462.7,138 462.8,138.3 462.9,138.6 463,138.9 463.1,139.2 463.2,139.5 463.3,139.8 463.4,140.1 463.5,140.4 463.6,140.7 463.7,140.9 463.8,141.2 463.8,141.5 463.9,141.8 464,142.1 464.1,142.4 464.2,142.7 464.3,143 464.4,143.3 464.5,143.6 464.6,143.8 464.7,144.1 464.8,144.4" fill="none" stroke="#dcc4bc" stroke-width="2.516" stroke-linejoin="round" stroke-linecap="butt" stroke-opacity="0.75"/>
<path d="M453.1,91.2 453.2,91.4 453.2,91.7 453.2,92 453.3,92.3 453.3,92.6 453.4,92.9 453.4,93.2 453.5,93.5 453.5,93.8 453.5,94.1 453.6,94.4 453.7,94.8 453.7,95.1 453.7,95.4 453.8,95.6 453.8,95.9 453.9,96.2 453.9,96.5 454,96.8 454,97.1 454.1,97.4 454.1,97.7 454.2,98.1 454.2,98.4 454.3,98.7 454.3,99.1 454.4,99.4 454.5,99.8 454.5,100.2 454.6,100.6 454.6,101 454.7,101.4 454.8,101.8 454.8,102.2 454.9,102.6 455,103 455.1,103.5 455.1,103.9 455.2,104.4 455.3,104.8 455.4,105.3 455.5,105.7 455.5,106.2 455.6,106.7 455.7,107.2 455.8,107.7 455.9,108.1 456,108.7 456,108.9 456.1,109.2 456.1,109.4 456.2,109.7 456.2,109.9 456.3,110.2 456.3,110.4 456.4,110.7 456.4,111 456.5,111.2 456.5,111.5 456.6,111.8 456.6,112 456.7,112.3 456.7,112.6 456.8,112.8 456.8,113.1 456.9,113.4 456.9,113.7 457,113.9 457,114.2 457.1,114.5 457.1,114.8 457.2,115.1 457.2,115.3 457.3,115.6 457.4,115.9 457.4,116.2 457.5,116.5 457.5,116.7 457.6,117 457.6,117.3 457.7,117.6 457.8,117.9 457.8,118.2 457.9,118.5 458,118.8 458,119.1 458.1,119.3 458.1,119.6 458.2,119.9 458.3,120.2 458.3,120.5 458.4,120.8 458.5,121.1 458.5,121.4 458.6,121.7 458.6,122 458.7,122.3 458.8,122.6 458.8,122.9 458.9,123.2 459,123.5 459.1,123.8 459.1,124.1 459.2,124.4 459.3,124.7 459.3,125 459.4,125.3 459.5,125.6 459.5,125.9 459.6,126.2 459.7,126.5 459.8,126.8 459.8,127.1 459.9,127.4 460,127.7 460.1,128 460.1,128.3 460.2,128.6 460.3,128.9 460.4,129.2 460.4,129.5 460.5,129.8 460.6,130.1 460.7,130.4 460.7,130.7 460.8,131.1 460.9,131.4 461,131.7 461.1,132 461.1,132.3 461.2,132.6 461.3,132.9 461.4,133.2 461.5,133.5 461.5,133.8 461.6,134.1 461.7,134.4 461.8,134.7 461.9,135 462,135.3 462,135.6 462.1,135.9 462.2,136.2 462.3,136.5 462.4,136.8 462.5,137.1 462.6,137.4 462.7,137.7 462.7,138 462.8,138.3 462.9,138.6 463,138.9 463.1,139.2 463.2,139.5 463.3,139.8 463.4,140.1 463.5,140.4 463.6,140.7 463.7,140.9 463.8,141.2 463.8,141.5 463.9,141.8 464,142.1 464.1,142.4 464.2,142.7 464.3,143 464.4,143.3 464.5,143.6 464.6,143.8 464.7,144.1 464.8,144.4" fill="none" stroke="#a27e6e" stroke-width="1.24" stroke-linejoin="round" stroke-linecap="butt" />
<line x1="464.81" y1="144.42" x2="466.41" y2="98.69" stroke="#ead0c9" stroke-width="1.15"/>
<path d="M466.4,98.7 466.5,99 466.5,99.2 466.6,99.5 466.6,99.8 466.7,100.1 466.7,100.3 466.8,100.6 466.8,101 466.9,101.2 466.9,101.5 467,101.8 467,102.1 467.1,102.4 467.2,102.7 467.2,103.1 467.3,103.5 467.3,103.7 467.4,104 467.4,104.2 467.5,104.5 467.5,104.8 467.6,105.1 467.7,105.4 467.7,105.7 467.8,106 467.8,106.3 467.9,106.6 468,106.9 468,107.2 468.1,107.6 468.2,107.9 468.2,108.2 468.3,108.6 468.4,108.9 468.4,109.3 468.5,109.7 468.6,110 468.7,110.4 468.8,110.8 468.8,111.2 468.9,111.6 469,112 469.1,112.4 469.2,112.8 469.3,113.2 469.4,113.6 469.5,114 469.5,114.5 469.6,114.9 469.7,115.3 469.8,115.8 469.9,116.2 470,116.7 470.1,117.1 470.2,117.6 470.4,118 470.5,118.5 470.6,119 470.7,119.4 470.8,119.9 470.9,120.4 471,120.9 471.1,121.3 471.3,121.8 471.4,122.3 471.5,122.8 471.6,123.3 471.8,123.8 471.9,124.3 472,124.8 472.1,125 472.1,125.3 472.2,125.5 472.3,125.8 472.3,126 472.4,126.3 472.5,126.5 472.5,126.8 472.6,127.1 472.7,127.3 472.7,127.6 472.8,127.8 472.9,128.1 473,128.3 473,128.6 473.1,128.8 473.2,129.1 473.2,129.4 473.3,129.6 473.4,129.9 473.5,130.1 473.5,130.4 473.6,130.6 473.7,130.9 473.8,131.2 473.8,131.4 473.9,131.7 474,131.9 474.1,132.2 474.1,132.5 474.2,132.7 474.3,133 474.4,133.2 474.5,133.5 474.5,133.8 474.6,134 474.7,134.3 474.8,134.5 474.9,134.8 474.9,135.1 475,135.3 475.1,135.6 475.2,135.8 475.3,136.1 475.3,136.4 475.4,136.6 475.5,136.9 475.6,137.1 475.7,137.4 475.8,137.7 475.9,137.9 475.9,138.2 476,138.4 476.1,138.7 476.2,138.9 476.3,139.2 476.4,139.5 476.5,139.7 476.6,140 476.7,140.2 476.7,140.5 476.8,140.7 476.9,141 477,141.3 477.1,141.5 477.2,141.8 477.3,142 477.4,142.3 477.5,142.5 477.6,142.8" fill="none" stroke="#dcc4bc" stroke-width="2.612" stroke-linejoin="round" stroke-linecap="butt" stroke-opacity="0.75"/>
<path d="M466.4,98.7 466.5,99 466.5,99.2 466.6,99.5 466.6,99.8 466.7,100.1 466.7,100.3 466.8,100.6 466.8,101 466.9,101.2 466.9,101.5 467,101.8 467,102.1 467.1,102.4 467.2,102.7 467.2,103.1 467.3,103.5 467.3,103.7 467.4,104 467.4,104.2 467.5,104.5 467.5,104.8 467.6,105.1 467.7,105.4 467.7,105.7 467.8,106 467.8,106.3 467.9,106.6 468,106.9 468,107.2 468.1,107.6 468.2,107.9 468.2,108.2 468.3,108.6 468.4,108.9 468.4,109.3 468.5,109.7 468.6,110 468.7,110.4 468.8,110.8 468.8,111.2 468.9,111.6 469,112 469.1,112.4 469.2,112.8 469.3,113.2 469.4,113.6 469.5,114 469.5,114.5 469.6,114.9 469.7,115.3 469.8,115.8 469.9,116.2 470,116.7 470.1,117.1 470.2,117.6 470.4,118 470.5,118.5 470.6,119 470.7,119.4 470.8,119.9 470.9,120.4 471,120.9 471.1,121.3 471.3,121.8 471.4,122.3 471.5,122.8 471.6,123.3 471.8,123.8 471.9,124.3 472,124.8 472.1,125 472.1,125.3 472.2,125.5 472.3,125.8 472.3,126 472.4,126.3 472.5,126.5 472.5,126.8 472.6,127.1 472.7,127.3 472.7,127.6 472.8,127.8 472.9,128.1 473,128.3 473,128.6 473.1,128.8 473.2,129.1 473.2,129.4 473.3,129.6 473.4,129.9 473.5,130.1 473.5,130.4 473.6,130.6 473.7,130.9 473.8,131.2 473.8,131.4 473.9,131.7 474,131.9 474.1,132.2 474.1,132.5 474.2,132.7 474.3,133 474.4,133.2 474.5,133.5 474.5,133.8 474.6,134 474.7,134.3 474.8,134.5 474.9,134.8 474.9,135.1 475,135.3 475.1,135.6 475.2,135.8 475.3,136.1 475.3,136.4 475.4,136.6 475.5,136.9 475.6,137.1 475.7,137.4 475.8,137.7 475.9,137.9 475.9,138.2 476,138.4 476.1,138.7 476.2,138.9 476.3,139.2 476.4,139.5 476.5,139.7 476.6,140 476.7,140.2 476.7,140.5 476.8,140.7 476.9,141 477,141.3 477.1,141.5 477.2,141.8 477.3,142 477.4,142.3 477.5,142.5 477.6,142.8" fill="none" stroke="#a27e6e" stroke-width="1.28" stroke-linejoin="round" stroke-linecap="butt" />
<line x1="477.58" y1="142.78" x2="479.7" y2="104.36" stroke="#ead0c9" stroke-width="1.15"/>
<path d="M479.7,104.4 479.8,104.6 479.8,104.9 479.9,105.2 479.9,105.4 480,105.7 480.1,106 480.1,106.3 480.2,106.6 480.3,106.9 480.3,107.2 480.4,107.5 480.5,107.8 480.5,108.1 480.6,108.4 480.7,108.7 480.7,109 480.8,109.3 480.9,109.7 481,110.1 481.1,110.4 481.1,110.7 481.2,110.9 481.2,111.2 481.3,111.5 481.4,111.7 481.4,112 481.5,112.3 481.6,112.6 481.6,112.9 481.7,113.2 481.8,113.5 481.9,113.8 481.9,114.1 482,114.4 482.1,114.7 482.2,115.1 482.3,115.4 482.3,115.7 482.4,116.1 482.5,116.4 482.6,116.7 482.7,117.1 482.8,117.4 482.9,117.8 483,118.2 483.1,118.5 483.2,118.9 483.3,119.3 483.4,119.6 483.5,120 483.6,120.4 483.7,120.8 483.8,121.2 483.9,121.6 484,122 484.1,122.4 484.2,122.8 484.3,123.2 484.4,123.6 484.6,124 484.7,124.4 484.8,124.8 484.9,125.2 485,125.6 485.2,126.1 485.3,126.5 485.4,126.9 485.5,127.3 485.7,127.8 485.8,128.2 485.9,128.6 486.1,129.1 486.2,129.5 486.4,129.9 486.5,130.4 486.6,130.8 486.8,131.3 486.9,131.7 487.1,132.2 487.2,132.6 487.4,133.1 487.5,133.5 487.7,133.9 487.8,134.4 488,134.8 488.1,135.3 488.3,135.7 488.5,136.2 488.6,136.6 488.8,137.1 489,137.5 489.1,138 489.3,138.4 489.5,138.9 489.6,139.4 489.8,139.8 490,140.3 490.2,140.7 490.3,141.1" fill="none" stroke="#dcc4bc" stroke-width="2.708" stroke-linejoin="round" stroke-linecap="butt" stroke-opacity="0.75"/>
<path d="M479.7,104.4 479.8,104.6 479.8,104.9 479.9,105.2 479.9,105.4 480,105.7 480.1,106 480.1,106.3 480.2,106.6 480.3,106.9 480.3,107.2 480.4,107.5 480.5,107.8 480.5,108.1 480.6,108.4 480.7,108.7 480.7,109 480.8,109.3 480.9,109.7 481,110.1 481.1,110.4 481.1,110.7 481.2,110.9 481.2,111.2 481.3,111.5 481.4,111.7 481.4,112 481.5,112.3 481.6,112.6 481.6,112.9 481.7,113.2 481.8,113.5 481.9,113.8 481.9,114.1 482,114.4 482.1,114.7 482.2,115.1 482.3,115.4 482.3,115.7 482.4,116.1 482.5,116.4 482.6,116.7 482.7,117.1 482.8,117.4 482.9,117.8 483,118.2 483.1,118.5 483.2,118.9 483.3,119.3 483.4,119.6 483.5,120 483.6,120.4 483.7,120.8 483.8,121.2 483.9,121.6 484,122 484.1,122.4 484.2,122.8 484.3,123.2 484.4,123.6 484.6,124 484.7,124.4 484.8,124.8 484.9,125.2 485,125.6 485.2,126.1 485.3,126.5 485.4,126.9 485.5,127.3 485.7,127.8 485.8,128.2 485.9,128.6 486.1,129.1 486.2,129.5 486.4,129.9 486.5,130.4 486.6,130.8 486.8,131.3 486.9,131.7 487.1,132.2 487.2,132.6 487.4,133.1 487.5,133.5 487.7,133.9 487.8,134.4 488,134.8 488.1,135.3 488.3,135.7 488.5,136.2 488.6,136.6 488.8,137.1 489,137.5 489.1,138 489.3,138.4 489.5,138.9 489.6,139.4 489.8,139.8 490,140.3 490.2,140.7 490.3,141.1" fill="none" stroke="#a27e6e" stroke-width="1.32" stroke-linejoin="round" stroke-linecap="butt" />
<line x1="490.34" y1="141.15" x2="492.73" y2="108.97" stroke="#ead0c9" stroke-width="1.15"/>
<path d="M492.7,109 492.8,109.2 492.9,109.5 492.9,109.8 493,110 493.1,110.3 493.2,110.6 493.2,110.9 493.3,111.2 493.4,111.5 493.5,111.8 493.5,112.1 493.6,112.4 493.7,112.6 493.8,112.9 493.8,113.2 493.9,113.5 494,113.8 494.1,114.1 494.2,114.4 494.3,114.8 494.4,115.1 494.5,115.4 494.6,115.8 494.7,116.2 494.7,116.4 494.8,116.7 494.9,116.9 494.9,117.2 495,117.5 495.1,117.7 495.2,118 495.3,118.3 495.3,118.6 495.4,118.9 495.5,119.1 495.6,119.4 495.7,119.7 495.8,120 495.9,120.3 496,120.6 496.1,120.9 496.1,121.3 496.2,121.6 496.3,121.9 496.4,122.2 496.5,122.5 496.6,122.9 496.7,123.2 496.9,123.5 497,123.9 497.1,124.2 497.2,124.6 497.3,124.9 497.4,125.3 497.5,125.6 497.6,126 497.8,126.3 497.9,126.7 498,127 498.1,127.4 498.2,127.8 498.4,128.1 498.5,128.5 498.6,128.9 498.7,129.2 498.9,129.6 499,130 499.1,130.4 499.3,130.7 499.4,131.1 499.6,131.5 499.7,131.9 499.8,132.3 500,132.7 500.1,133.1 500.3,133.4 500.4,133.8 500.6,134.2 500.7,134.6 500.9,135 501,135.4 501.2,135.8 501.3,136.2 501.5,136.6 501.7,137 501.8,137.4 502,137.8 502.2,138.2 502.3,138.6 502.5,139 502.7,139.4 502.8,139.8 503,140.2 503.1,140.4" fill="none" stroke="#dcc4bc" stroke-width="2.804" stroke-linejoin="round" stroke-linecap="butt" stroke-opacity="0.75"/>
<path d="M492.7,109 492.8,109.2 492.9,109.5 492.9,109.8 493,110 493.1,110.3 493.2,110.6 493.2,110.9 493.3,111.2 493.4,111.5 493.5,111.8 493.5,112.1 493.6,112.4 493.7,112.6 493.8,112.9 493.8,113.2 493.9,113.5 494,113.8 494.1,114.1 494.2,114.4 494.3,114.8 494.4,115.1 494.5,115.4 494.6,115.8 494.7,116.2 494.7,116.4 494.8,116.7 494.9,116.9 494.9,117.2 495,117.5 495.1,117.7 495.2,118 495.3,118.3 495.3,118.6 495.4,118.9 495.5,119.1 495.6,119.4 495.7,119.7 495.8,120 495.9,120.3 496,120.6 496.1,120.9 496.1,121.3 496.2,121.6 496.3,121.9 496.4,122.2 496.5,122.5 496.6,122.9 496.7,123.2 496.9,123.5 497,123.9 497.1,124.2 497.2,124.6 497.3,124.9 497.4,125.3 497.5,125.6 497.6,126 497.8,126.3 497.9,126.7 498,127 498.1,127.4 498.2,127.8 498.4,128.1 498.5,128.5 498.6,128.9 498.7,129.2 498.9,129.6 499,130 499.1,130.4 499.3,130.7 499.4,131.1 499.6,131.5 499.7,131.9 499.8,132.3 500,132.7 500.1,133.1 500.3,133.4 500.4,133.8 500.6,134.2 500.7,134.6 500.9,135 501,135.4 501.2,135.8 501.3,136.2 501.5,136.6 501.7,137 501.8,137.4 502,137.8 502.2,138.2 502.3,138.6 502.5,139 502.7,139.4 502.8,139.8 503,140.2 503.1,140.4" fill="none" stroke="#a27e6e" stroke-width="1.3599999999999999" stroke-linejoin="round" stroke-linecap="butt" />
<line x1="503.1" y1="140.38" x2="506.29" y2="113.39" stroke="#ead0c9" stroke-width="1.15"/>
<path d="M506.3,113.4 506.4,113.6 506.4,113.9 506.5,114.1 506.6,114.4 506.7,114.7 506.7,115 506.8,115.2 506.9,115.5 507,115.8 507.1,116.1 507.2,116.4 507.3,116.7 507.3,117 507.4,117.3 507.5,117.6 507.6,117.9 507.7,118.2 507.8,118.4 507.9,118.7 508,119 508.1,119.3 508.2,119.6 508.3,119.9 508.4,120.2 508.5,120.6 508.6,120.9 508.7,121.2 508.8,121.6 508.9,121.9 509,122.3 509.1,122.7 509.3,123 509.4,123.3 509.4,123.5 509.5,123.8 509.6,124.1 509.7,124.3 509.8,124.6 509.9,124.8 510,125.1 510.1,125.4 510.2,125.7 510.3,125.9 510.4,126.2 510.5,126.5 510.6,126.8 510.7,127.1 510.8,127.4 510.9,127.7 511,128 511.1,128.3 511.2,128.6 511.3,128.9 511.4,129.2 511.5,129.5 511.6,129.8 511.8,130.1 511.9,130.4 512,130.7 512.1,131 512.2,131.3 512.4,131.6 512.5,132 512.6,132.3 512.7,132.6 512.9,132.9 513,133.2 513.1,133.6 513.3,133.9 513.4,134.2 513.5,134.6 513.7,134.9 513.8,135.2 513.9,135.5 514.1,135.9 514.2,136.2 514.4,136.5 514.5,136.9 514.7,137.2 514.8,137.6 515,137.9 515.1,138.2 515.3,138.6 515.3,138.7" fill="none" stroke="#dcc4bc" stroke-width="2.9" stroke-linejoin="round" stroke-linecap="butt" stroke-opacity="0.75"/>
<path d="M506.3,113.4 506.4,113.6 506.4,113.9 506.5,114.1 506.6,114.4 506.7,114.7 506.7,115 506.8,115.2 506.9,115.5 507,115.8 507.1,116.1 507.2,116.4 507.3,116.7 507.3,117 507.4,117.3 507.5,117.6 507.6,117.9 507.7,118.2 507.8,118.4 507.9,118.7 508,119 508.1,119.3 508.2,119.6 508.3,119.9 508.4,120.2 508.5,120.6 508.6,120.9 508.7,121.2 508.8,121.6 508.9,121.9 509,122.3 509.1,122.7 509.3,123 509.4,123.3 509.4,123.5 509.5,123.8 509.6,124.1 509.7,124.3 509.8,124.6 509.9,124.8 510,125.1 510.1,125.4 510.2,125.7 510.3,125.9 510.4,126.2 510.5,126.5 510.6,126.8 510.7,127.1 510.8,127.4 510.9,127.7 511,128 511.1,128.3 511.2,128.6 511.3,128.9 511.4,129.2 511.5,129.5 511.6,129.8 511.8,130.1 511.9,130.4 512,130.7 512.1,131 512.2,131.3 512.4,131.6 512.5,132 512.6,132.3 512.7,132.6 512.9,132.9 513,133.2 513.1,133.6 513.3,133.9 513.4,134.2 513.5,134.6 513.7,134.9 513.8,135.2 513.9,135.5 514.1,135.9 514.2,136.2 514.4,136.5 514.5,136.9 514.7,137.2 514.8,137.6 515,137.9 515.1,138.2 515.3,138.6 515.3,138.7" fill="none" stroke="#a27e6e" stroke-width="1.4" stroke-linejoin="round" stroke-linecap="butt" />
<line x1="323.8" y1="87.74" x2="515.03" y2="87.74" stroke="#1010e8" stroke-width="1.9" stroke-dasharray="5.1,4.8"/>
<text x="429.85" y="16.6" font-size="10.2" text-anchor="middle" font-weight="bold" fill="#0a0a0a" font-family='"Liberation Sans", sans-serif' >Thermal history of 4th layer (0 s Delay)</text>
<text x="0" y="0" font-size="10.2" font-weight="bold" fill="#262626" font-family='"Liberation Sans", sans-serif' text-anchor="middle" transform="translate(296,102.15) rotate(-90)">T (°C)</text>
<text x="430.25" y="210.2" font-size="10.0" text-anchor="middle" font-weight="bold" fill="#262626" font-family='"Liberation Sans", sans-serif' >Time (s)</text>
<text x="134.9" y="234.4" font-size="13.5" text-anchor="middle" font-weight="bold" fill="#111" font-family='"Liberation Serif", serif'>(a)</text>
<text x="423.7" y="233.8" font-size="13.5" text-anchor="middle" font-weight="bold" fill="#111" font-family='"Liberation Serif", serif'>(b)</text>
<path d="M324,256.9 L324,420.7 L536.6,420.7" fill="none" stroke="#bababa" stroke-width="1.3"/>
<line x1="324" y1="420.7" x2="324" y2="418.5" stroke="#9a9a9a" stroke-width="0.8"/>
<text x="324" y="433.7" font-size="8.8" text-anchor="middle" font-weight="bold" fill="#262626" font-family='"Liberation Sans", sans-serif' >0</text>
<line x1="359.43" y1="420.7" x2="359.43" y2="418.5" stroke="#9a9a9a" stroke-width="0.8"/>
<text x="359.43" y="433.7" font-size="8.8" text-anchor="middle" font-weight="bold" fill="#262626" font-family='"Liberation Sans", sans-serif' >500</text>
<line x1="394.87" y1="420.7" x2="394.87" y2="418.5" stroke="#9a9a9a" stroke-width="0.8"/>
<text x="394.87" y="433.7" font-size="8.8" text-anchor="middle" font-weight="bold" fill="#262626" font-family='"Liberation Sans", sans-serif' >1000</text>
<line x1="430.3" y1="420.7" x2="430.3" y2="418.5" stroke="#9a9a9a" stroke-width="0.8"/>
<text x="430.3" y="433.7" font-size="8.8" text-anchor="middle" font-weight="bold" fill="#262626" font-family='"Liberation Sans", sans-serif' >1500</text>
<line x1="465.73" y1="420.7" x2="465.73" y2="418.5" stroke="#9a9a9a" stroke-width="0.8"/>
<text x="465.73" y="433.7" font-size="8.8" text-anchor="middle" font-weight="bold" fill="#262626" font-family='"Liberation Sans", sans-serif' >2000</text>
<line x1="501.17" y1="420.7" x2="501.17" y2="418.5" stroke="#9a9a9a" stroke-width="0.8"/>
<text x="501.17" y="433.7" font-size="8.8" text-anchor="middle" font-weight="bold" fill="#262626" font-family='"Liberation Sans", sans-serif' >2500</text>
<line x1="536.6" y1="420.7" x2="536.6" y2="418.5" stroke="#9a9a9a" stroke-width="0.8"/>
<text x="536.6" y="433.7" font-size="8.8" text-anchor="middle" font-weight="bold" fill="#262626" font-family='"Liberation Sans", sans-serif' >3000</text>
<line x1="324" y1="420.7" x2="326.2" y2="420.7" stroke="#9a9a9a" stroke-width="0.8"/>
<text x="320.4" y="424" font-size="8.8" text-anchor="end" font-weight="bold" fill="#262626" font-family='"Liberation Sans", sans-serif' >0</text>
<line x1="324" y1="372.52" x2="326.2" y2="372.52" stroke="#9a9a9a" stroke-width="0.8"/>
<text x="320.4" y="375.82" font-size="8.8" text-anchor="end" font-weight="bold" fill="#262626" font-family='"Liberation Sans", sans-serif' >500</text>
<line x1="324" y1="324.35" x2="326.2" y2="324.35" stroke="#9a9a9a" stroke-width="0.8"/>
<text x="320.4" y="327.65" font-size="8.8" text-anchor="end" font-weight="bold" fill="#262626" font-family='"Liberation Sans", sans-serif' >1000</text>
<line x1="324" y1="276.17" x2="326.2" y2="276.17" stroke="#9a9a9a" stroke-width="0.8"/>
<text x="320.4" y="279.47" font-size="8.8" text-anchor="end" font-weight="bold" fill="#262626" font-family='"Liberation Sans", sans-serif' >1500</text>
<line x1="324" y1="420.2" x2="359.72" y2="420.2" stroke="#e2c9c2" stroke-width="1"/>
<line x1="359.72" y1="420.7" x2="359.72" y2="256.9" stroke="#a6daf2" stroke-width="1.3"/>
<path d="M359.7,256.9 360,256.9 360,259.9 360,263.8 360,267.8 360.1,271.7 360.1,275.6 360.1,279.5 360.1,283.3 360.1,287.1 360.1,290.9 360.2,294.6 360.2,298.3 360.2,302 360.2,305.5 360.2,309.1 360.2,312.6 360.3,316 360.3,319.3 360.3,322.6 360.3,325.9 360.3,329 360.4,332.1 360.4,335.1 360.4,338.1 360.4,341 360.4,343.8 360.5,346.5 360.5,349.2 360.5,351.8 360.5,354.3 360.6,356.8 360.6,359.2 360.6,361.5 360.6,363.7 360.7,365.8 360.7,367.9 360.7,370 360.7,371.9 360.8,373.8 360.8,375.6 360.8,377.3 360.8,379 360.9,380.6 360.9,382.2 360.9,383.7 361,385.1 361,386.5 361,387.8 361,389 361.1,390.3 361.1,391.4 361.1,392.5 361.2,393.6 361.2,394.6 361.2,395.5 361.3,396.5 361.3,397.3 361.3,398.2 361.4,399 361.4,399.7 361.4,400.5 361.5,401.2 361.5,401.8 361.5,402.4 361.6,403 361.6,403.6 361.7,404.2 361.7,404.7 361.7,405.2 361.8,405.6 361.8,406.1 361.8,406.5 361.9,406.9 361.9,407.3 362,407.6 362,408 362.1,408.3 362.1,408.6 362.1,408.9 362.2,409.2 362.2,409.5 362.3,409.8 362.3,410 362.4,410.5 362.5,410.9 362.6,411.3 362.7,411.7 362.8,412 362.9,412.3 363,412.6 363.1,412.9 363.2,413.2 363.3,413.5 363.5,413.9 363.6,414.2 363.8,414.5 364,414.7 364.2,415 364.4,415.3 364.6,415.6 364.9,415.9 365.1,416.1 365.4,416.3 365.7,416.5 366,416.7 366.3,416.9 366.5,417 366.9,417.2 367.2,417.3 367.5,417.4 367.8,417.5 368.1,417.6 368.4,417.7 368.6,417.8 368.9,417.8 369.2,417.9 369.4,417.9 369.7,417.9 370,418 370.3,418 370.5,418 370.8,418.1 371.1,418.1 371.4,418.1 371.6,418.1" fill="none" stroke="#8ccfee" stroke-width="1.0" stroke-linejoin="round" stroke-linecap="butt" />
<line x1="371.62" y1="420.7" x2="371.62" y2="256.9" stroke="#ead0c9" stroke-width="1.15"/>
<path d="M371.6,256.9 371.9,256.9 371.9,258.6 371.9,262.6 371.9,266.6 371.9,270.4 372,274 372,277.4 372,280.7 372,283.8 372,286.8 372,289.6 372,292.3 372.1,294.9 372.1,297.3 372.1,299.6 372.1,301.8 372.1,303.9 372.1,305.8 372.2,307.7 372.2,309.5 372.2,311.2 372.2,312.8 372.2,314.3 372.3,315.7 372.3,317.1 372.3,318.4 372.3,319.7 372.4,320.9 372.4,322.1 372.4,323.2 372.4,324.3 372.4,325.4 372.5,326.4 372.5,327.4 372.5,328.4 372.5,329.4 372.6,330.3 372.6,331.2 372.6,332.1 372.6,333 372.7,333.9 372.7,334.7 372.7,335.6 372.7,336.5 372.8,337.3 372.8,338.1 372.8,339 372.9,339.8 372.9,340.6 372.9,341.5 373,342.3 373,343.1 373,343.9 373,344.8 373.1,345.6 373.1,346.4 373.1,347.2 373.2,348 373.2,348.9 373.2,349.7 373.3,350.5 373.3,351.3 373.3,352.1 373.4,352.9 373.4,353.7 373.5,354.5 373.5,355.3 373.5,356.2 373.6,357 373.6,357.8 373.6,358.6 373.7,359.4 373.7,360.2 373.8,361 373.8,361.7 373.8,362.5 373.9,363.3 373.9,364.1 374,364.9 374,365.7 374,366.4 374.1,367.2 374.1,368 374.2,368.7 374.2,369.5 374.3,370.2 374.3,371 374.3,371.7 374.4,372.5 374.4,373.2 374.5,373.9 374.5,374.7 374.6,375.4 374.6,376.1 374.7,376.8 374.7,377.5 374.8,378.2 374.8,378.9 374.9,379.6 374.9,380.3 375,380.9 375,381.6 375.1,382.3 375.1,382.9 375.2,383.6 375.2,384.2 375.3,384.9 375.3,385.5 375.4,386.1 375.4,386.8 375.5,387.4 375.5,388 375.6,388.6 375.7,389.2 375.7,389.8 375.8,390.3 375.8,390.9 375.9,391.5 375.9,392.1 376,392.6 376.1,393.2 376.1,393.7 376.2,394.2 376.2,394.8 376.3,395.3 376.4,395.8 376.4,396.3 376.5,396.8 376.5,397.3 376.6,397.8 376.7,398.3 376.7,398.7 376.8,399.2 376.9,399.7 376.9,400.1 377,400.6 377.1,401 377.1,401.4 377.2,401.9 377.3,402.3 377.3,402.7 377.4,403.1 377.5,403.5 377.5,403.9 377.6,404.3 377.7,404.6 377.7,405 377.8,405.4 377.9,405.7 377.9,406.1 378,406.4 378.1,406.8 378.2,407.1 378.2,407.4 378.3,407.8 378.4,408.1 378.5,408.4 378.5,408.7 378.6,409 378.7,409.3 378.8,409.6 378.8,409.9 378.9,410.1 379,410.4 379.1,410.7 379.1,410.9 379.2,411.2 379.4,411.7 379.5,412.2 379.7,412.6 379.9,413.1 380,413.5 380.2,413.9 380.4,414.2 380.5,414.6 380.7,415 380.9,415.3 381.1,415.6 381.2,415.9 381.4,416.2 381.6,416.4 381.8,416.7 382.1,417.1 382.4,417.4 382.6,417.7 382.9,418 383.2,418.2 383.5,418.5" fill="none" stroke="#ecdad5" stroke-width="1.3" stroke-linejoin="round" stroke-linecap="butt" stroke-opacity="0.6"/>
<path d="M371.6,256.9 371.9,256.9 371.9,258.6 371.9,262.6 371.9,266.6 371.9,270.4 372,274 372,277.4 372,280.7 372,283.8 372,286.8 372,289.6 372,292.3 372.1,294.9 372.1,297.3 372.1,299.6 372.1,301.8 372.1,303.9 372.1,305.8 372.2,307.7 372.2,309.5 372.2,311.2 372.2,312.8 372.2,314.3 372.3,315.7 372.3,317.1 372.3,318.4 372.3,319.7 372.4,320.9 372.4,322.1 372.4,323.2 372.4,324.3 372.4,325.4 372.5,326.4 372.5,327.4 372.5,328.4 372.5,329.4 372.6,330.3 372.6,331.2 372.6,332.1 372.6,333 372.7,333.9 372.7,334.7 372.7,335.6 372.7,336.5 372.8,337.3 372.8,338.1 372.8,339 372.9,339.8 372.9,340.6 372.9,341.5 373,342.3 373,343.1 373,343.9 373,344.8 373.1,345.6 373.1,346.4 373.1,347.2 373.2,348 373.2,348.9 373.2,349.7 373.3,350.5 373.3,351.3 373.3,352.1 373.4,352.9 373.4,353.7 373.5,354.5 373.5,355.3 373.5,356.2 373.6,357 373.6,357.8 373.6,358.6 373.7,359.4 373.7,360.2 373.8,361 373.8,361.7 373.8,362.5 373.9,363.3 373.9,364.1 374,364.9 374,365.7 374,366.4 374.1,367.2 374.1,368 374.2,368.7 374.2,369.5 374.3,370.2 374.3,371 374.3,371.7 374.4,372.5 374.4,373.2 374.5,373.9 374.5,374.7 374.6,375.4 374.6,376.1 374.7,376.8 374.7,377.5 374.8,378.2 374.8,378.9 374.9,379.6 374.9,380.3 375,380.9 375,381.6 375.1,382.3 375.1,382.9 375.2,383.6 375.2,384.2 375.3,384.9 375.3,385.5 375.4,386.1 375.4,386.8 375.5,387.4 375.5,388 375.6,388.6 375.7,389.2 375.7,389.8 375.8,390.3 375.8,390.9 375.9,391.5 375.9,392.1 376,392.6 376.1,393.2 376.1,393.7 376.2,394.2 376.2,394.8 376.3,395.3 376.4,395.8 376.4,396.3 376.5,396.8 376.5,397.3 376.6,397.8 376.7,398.3 376.7,398.7 376.8,399.2 376.9,399.7 376.9,400.1 377,400.6 377.1,401 377.1,401.4 377.2,401.9 377.3,402.3 377.3,402.7 377.4,403.1 377.5,403.5 377.5,403.9 377.6,404.3 377.7,404.6 377.7,405 377.8,405.4 377.9,405.7 377.9,406.1 378,406.4 378.1,406.8 378.2,407.1 378.2,407.4 378.3,407.8 378.4,408.1 378.5,408.4 378.5,408.7 378.6,409 378.7,409.3 378.8,409.6 378.8,409.9 378.9,410.1 379,410.4 379.1,410.7 379.1,410.9 379.2,411.2 379.4,411.7 379.5,412.2 379.7,412.6 379.9,413.1 380,413.5 380.2,413.9 380.4,414.2 380.5,414.6 380.7,415 380.9,415.3 381.1,415.6 381.2,415.9 381.4,416.2 381.6,416.4 381.8,416.7 382.1,417.1 382.4,417.4 382.6,417.7 382.9,418 383.2,418.2 383.5,418.5" fill="none" stroke="#b89689" stroke-width="0.75" stroke-linejoin="round" stroke-linecap="butt" />
<line x1="383.53" y1="418.48" x2="383.53" y2="256.9" stroke="#ead0c9" stroke-width="1.15"/>
<path d="M383.5,256.9 383.8,256.9 383.8,258.5 383.8,262.6 383.8,266.5 383.8,270.3 383.9,273.9 383.9,277.3 383.9,280.6 383.9,283.7 383.9,286.7 383.9,289.5 384,292.2 384,294.8 384,297.2 384,299.5 384,301.7 384,303.8 384.1,305.7 384.1,307.6 384.1,309.4 384.1,311 384.1,312.6 384.2,314.1 384.2,315.6 384.2,317 384.2,318.3 384.2,319.6 384.3,320.8 384.3,322 384.3,323.1 384.3,324.2 384.3,325.2 384.4,326.3 384.4,327.2 384.4,328.2 384.4,329.2 384.5,330.1 384.5,331 384.5,331.9 384.5,332.8 384.6,333.7 384.6,334.5 384.6,335.4 384.7,336.2 384.7,337.1 384.7,337.9 384.7,338.8 384.8,339.6 384.8,340.4 384.8,341.2 384.9,342.1 384.9,342.9 384.9,343.7 385,344.5 385,345.3 385,346.1 385,346.9 385.1,347.8 385.1,348.6 385.1,349.4 385.2,350.2 385.2,351 385.3,351.8 385.3,352.6 385.3,353.4 385.4,354.2 385.4,355 385.4,355.8 385.5,356.6 385.5,357.4 385.5,358.2 385.6,359 385.6,359.8 385.7,360.6 385.7,361.4 385.7,362.2 385.8,363 385.8,363.7 385.9,364.5 385.9,365.3 385.9,366 386,366.8 386,367.6 386.1,368.3 386.1,369.1 386.2,369.8 386.2,370.6 386.3,371.3 386.3,372 386.3,372.8 386.4,373.5 386.4,374.2 386.5,374.9 386.5,375.7 386.6,376.4 386.6,377.1 386.7,377.8 386.7,378.4 386.8,379.1 386.8,379.8 386.9,380.5 386.9,381.1 387,381.8 387,382.5 387.1,383.1 387.1,383.8 387.2,384.4 387.2,385 387.3,385.6 387.3,386.3 387.4,386.9 387.5,387.5 387.5,388.1 387.6,388.7 387.6,389.3 387.7,389.8 387.7,390.4 387.8,391 387.8,391.5 387.9,392.1 388,392.6 388,393.2 388.1,393.7 388.1,394.2 388.2,394.7 388.3,395.2 388.3,395.8 388.4,396.2 388.4,396.7 388.5,397.2 388.6,397.7 388.6,398.2 388.7,398.6 388.8,399.1 388.8,399.5 388.9,400 389,400.4 389,400.8 389.1,401.3 389.2,401.7 389.2,402.1 389.3,402.5 389.4,402.9 389.4,403.3 389.5,403.7 389.6,404 389.6,404.4 389.7,404.8 389.8,405.1 389.9,405.5 389.9,405.8 390,406.2 390.1,406.5 390.1,406.8 390.2,407.2 390.3,407.5 390.4,407.8 390.4,408.1 390.5,408.4 390.6,408.7 390.7,409 390.7,409.2 390.8,409.5 390.9,409.8 391,410.1 391,410.3 391.1,410.6 391.3,411.1 391.4,411.5 391.6,412 391.8,412.4 391.9,412.8 392.1,413.2 392.3,413.6 392.4,414 392.6,414.3 392.8,414.6 393,414.9 393.1,415.2 393.3,415.5 393.5,415.8 393.7,416 394,416.4 394.3,416.7 394.5,417 394.8,417.3 395.1,417.6 395.4,417.8" fill="none" stroke="#ecdad5" stroke-width="1.3" stroke-linejoin="round" stroke-linecap="butt" stroke-opacity="0.6"/>
<path d="M383.5,256.9 383.8,256.9 383.8,258.5 383.8,262.6 383.8,266.5 383.8,270.3 383.9,273.9 383.9,277.3 383.9,280.6 383.9,283.7 383.9,286.7 383.9,289.5 384,292.2 384,294.8 384,297.2 384,299.5 384,301.7 384,303.8 384.1,305.7 384.1,307.6 384.1,309.4 384.1,311 384.1,312.6 384.2,314.1 384.2,315.6 384.2,317 384.2,318.3 384.2,319.6 384.3,320.8 384.3,322 384.3,323.1 384.3,324.2 384.3,325.2 384.4,326.3 384.4,327.2 384.4,328.2 384.4,329.2 384.5,330.1 384.5,331 384.5,331.9 384.5,332.8 384.6,333.7 384.6,334.5 384.6,335.4 384.7,336.2 384.7,337.1 384.7,337.9 384.7,338.8 384.8,339.6 384.8,340.4 384.8,341.2 384.9,342.1 384.9,342.9 384.9,343.7 385,344.5 385,345.3 385,346.1 385,346.9 385.1,347.8 385.1,348.6 385.1,349.4 385.2,350.2 385.2,351 385.3,351.8 385.3,352.6 385.3,353.4 385.4,354.2 385.4,355 385.4,355.8 385.5,356.6 385.5,357.4 385.5,358.2 385.6,359 385.6,359.8 385.7,360.6 385.7,361.4 385.7,362.2 385.8,363 385.8,363.7 385.9,364.5 385.9,365.3 385.9,366 386,366.8 386,367.6 386.1,368.3 386.1,369.1 386.2,369.8 386.2,370.6 386.3,371.3 386.3,372 386.3,372.8 386.4,373.5 386.4,374.2 386.5,374.9 386.5,375.7 386.6,376.4 386.6,377.1 386.7,377.8 386.7,378.4 386.8,379.1 386.8,379.8 386.9,380.5 386.9,381.1 387,381.8 387,382.5 387.1,383.1 387.1,383.8 387.2,384.4 387.2,385 387.3,385.6 387.3,386.3 387.4,386.9 387.5,387.5 387.5,388.1 387.6,388.7 387.6,389.3 387.7,389.8 387.7,390.4 387.8,391 387.8,391.5 387.9,392.1 388,392.6 388,393.2 388.1,393.7 388.1,394.2 388.2,394.7 388.3,395.2 388.3,395.8 388.4,396.2 388.4,396.7 388.5,397.2 388.6,397.7 388.6,398.2 388.7,398.6 388.8,399.1 388.8,399.5 388.9,400 389,400.4 389,400.8 389.1,401.3 389.2,401.7 389.2,402.1 389.3,402.5 389.4,402.9 389.4,403.3 389.5,403.7 389.6,404 389.6,404.4 389.7,404.8 389.8,405.1 389.9,405.5 389.9,405.8 390,406.2 390.1,406.5 390.1,406.8 390.2,407.2 390.3,407.5 390.4,407.8 390.4,408.1 390.5,408.4 390.6,408.7 390.7,409 390.7,409.2 390.8,409.5 390.9,409.8 391,410.1 391,410.3 391.1,410.6 391.3,411.1 391.4,411.5 391.6,412 391.8,412.4 391.9,412.8 392.1,413.2 392.3,413.6 392.4,414 392.6,414.3 392.8,414.6 393,414.9 393.1,415.2 393.3,415.5 393.5,415.8 393.7,416 394,416.4 394.3,416.7 394.5,417 394.8,417.3 395.1,417.6 395.4,417.8" fill="none" stroke="#b89689" stroke-width="0.75" stroke-linejoin="round" stroke-linecap="butt" />
<line x1="395.43" y1="417.81" x2="395.43" y2="256.9" stroke="#ead0c9" stroke-width="1.15"/>
<path d="M395.4,256.9 395.7,256.9 395.7,258.4 395.7,262.5 395.7,266.4 395.8,270.2 395.8,273.7 395.8,277.2 395.8,280.5 395.8,283.6 395.8,286.6 395.8,289.4 395.9,292.1 395.9,294.6 395.9,297 395.9,299.3 395.9,301.5 395.9,303.6 396,305.5 396,307.4 396,309.1 396,310.8 396,312.4 396.1,313.9 396.1,315.3 396.1,316.7 396.1,318 396.1,319.3 396.2,320.5 396.2,321.7 396.2,322.8 396.2,323.9 396.3,324.9 396.3,325.9 396.3,326.9 396.3,327.9 396.3,328.8 396.4,329.8 396.4,330.7 396.4,331.6 396.5,332.4 396.5,333.3 396.5,334.2 396.5,335 396.6,335.8 396.6,336.7 396.6,337.5 396.6,338.3 396.7,339.1 396.7,340 396.7,340.8 396.8,341.6 396.8,342.4 396.8,343.2 396.9,344 396.9,344.8 396.9,345.6 397,346.4 397,347.2 397,348 397.1,348.8 397.1,349.6 397.1,350.4 397.2,351.2 397.2,352 397.2,352.8 397.3,353.6 397.3,354.4 397.3,355.2 397.4,356 397.4,356.8 397.5,357.6 397.5,358.4 397.5,359.2 397.6,359.9 397.6,360.7 397.6,361.5 397.7,362.3 397.7,363 397.8,363.8 397.8,364.6 397.9,365.3 397.9,366.1 397.9,366.8 398,367.6 398,368.3 398.1,369.1 398.1,369.8 398.2,370.5 398.2,371.3 398.2,372 398.3,372.7 398.3,373.4 398.4,374.1 398.4,374.8 398.5,375.5 398.5,376.2 398.6,376.9 398.6,377.6 398.7,378.3 398.7,379 398.8,379.6 398.8,380.3 398.9,380.9 398.9,381.6 399,382.2 399,382.9 399.1,383.5 399.1,384.1 399.2,384.7 399.2,385.3 399.3,385.9 399.4,386.5 399.4,387.1 399.5,387.7 399.5,388.3 399.6,388.9 399.6,389.4 399.7,390 399.8,390.6 399.8,391.1 399.9,391.6 399.9,392.2 400,392.7 400,393.2 400.1,393.7 400.2,394.2 400.2,394.7 400.3,395.2 400.4,395.7 400.4,396.2 400.5,396.7 400.5,397.1 400.6,397.6 400.7,398 400.7,398.5 400.8,398.9 400.9,399.3 400.9,399.8 401,400.2 401.1,400.6 401.1,401 401.2,401.4 401.3,401.8 401.3,402.2 401.4,402.6 401.5,402.9 401.5,403.3 401.6,403.7 401.7,404 401.8,404.4 401.8,404.7 401.9,405 402,405.4 402,405.7 402.1,406 402.2,406.3 402.3,406.6 402.3,406.9 402.4,407.2 402.5,407.5 402.6,407.8 402.6,408.1 402.7,408.4 402.8,408.6 402.9,408.9 403,409.1 403,409.4 403.2,409.9 403.4,410.3 403.5,410.8 403.7,411.2 403.8,411.6 404,412 404.2,412.4 404.4,412.7 404.5,413.1 404.7,413.4 404.9,413.7 405.1,414 405.2,414.3 405.4,414.6 405.6,414.8 405.9,415.2 406.2,415.5 406.5,415.8 406.7,416.1 407,416.3 407.3,416.6" fill="none" stroke="#ecdad5" stroke-width="1.3" stroke-linejoin="round" stroke-linecap="butt" stroke-opacity="0.6"/>
<path d="M395.4,256.9 395.7,256.9 395.7,258.4 395.7,262.5 395.7,266.4 395.8,270.2 395.8,273.7 395.8,277.2 395.8,280.5 395.8,283.6 395.8,286.6 395.8,289.4 395.9,292.1 395.9,294.6 395.9,297 395.9,299.3 395.9,301.5 395.9,303.6 396,305.5 396,307.4 396,309.1 396,310.8 396,312.4 396.1,313.9 396.1,315.3 396.1,316.7 396.1,318 396.1,319.3 396.2,320.5 396.2,321.7 396.2,322.8 396.2,323.9 396.3,324.9 396.3,325.9 396.3,326.9 396.3,327.9 396.3,328.8 396.4,329.8 396.4,330.7 396.4,331.6 396.5,332.4 396.5,333.3 396.5,334.2 396.5,335 396.6,335.8 396.6,336.7 396.6,337.5 396.6,338.3 396.7,339.1 396.7,340 396.7,340.8 396.8,341.6 396.8,342.4 396.8,343.2 396.9,344 396.9,344.8 396.9,345.6 397,346.4 397,347.2 397,348 397.1,348.8 397.1,349.6 397.1,350.4 397.2,351.2 397.2,352 397.2,352.8 397.3,353.6 397.3,354.4 397.3,355.2 397.4,356 397.4,356.8 397.5,357.6 397.5,358.4 397.5,359.2 397.6,359.9 397.6,360.7 397.6,361.5 397.7,362.3 397.7,363 397.8,363.8 397.8,364.6 397.9,365.3 397.9,366.1 397.9,366.8 398,367.6 398,368.3 398.1,369.1 398.1,369.8 398.2,370.5 398.2,371.3 398.2,372 398.3,372.7 398.3,373.4 398.4,374.1 398.4,374.8 398.5,375.5 398.5,376.2 398.6,376.9 398.6,377.6 398.7,378.3 398.7,379 398.8,379.6 398.8,380.3 398.9,380.9 398.9,381.6 399,382.2 399,382.9 399.1,383.5 399.1,384.1 399.2,384.7 399.2,385.3 399.3,385.9 399.4,386.5 399.4,387.1 399.5,387.7 399.5,388.3 399.6,388.9 399.6,389.4 399.7,390 399.8,390.6 399.8,391.1 399.9,391.6 399.9,392.2 400,392.7 400,393.2 400.1,393.7 400.2,394.2 400.2,394.7 400.3,395.2 400.4,395.7 400.4,396.2 400.5,396.7 400.5,397.1 400.6,397.6 400.7,398 400.7,398.5 400.8,398.9 400.9,399.3 400.9,399.8 401,400.2 401.1,400.6 401.1,401 401.2,401.4 401.3,401.8 401.3,402.2 401.4,402.6 401.5,402.9 401.5,403.3 401.6,403.7 401.7,404 401.8,404.4 401.8,404.7 401.9,405 402,405.4 402,405.7 402.1,406 402.2,406.3 402.3,406.6 402.3,406.9 402.4,407.2 402.5,407.5 402.6,407.8 402.6,408.1 402.7,408.4 402.8,408.6 402.9,408.9 403,409.1 403,409.4 403.2,409.9 403.4,410.3 403.5,410.8 403.7,411.2 403.8,411.6 404,412 404.2,412.4 404.4,412.7 404.5,413.1 404.7,413.4 404.9,413.7 405.1,414 405.2,414.3 405.4,414.6 405.6,414.8 405.9,415.2 406.2,415.5 406.5,415.8 406.7,416.1 407,416.3 407.3,416.6" fill="none" stroke="#b89689" stroke-width="0.75" stroke-linejoin="round" stroke-linecap="butt" />
<line x1="407.34" y1="416.56" x2="407.34" y2="256.9" stroke="#ead0c9" stroke-width="1.15"/>
<path d="M407.3,256.9 407.6,256.9 407.6,258.3 407.6,262.3 407.6,266.3 407.7,270 407.7,273.6 407.7,277 407.7,280.3 407.7,283.4 407.7,286.4 407.7,289.2 407.8,291.9 407.8,294.4 407.8,296.9 407.8,299.1 407.8,301.3 407.8,303.4 407.9,305.3 407.9,307.2 407.9,308.9 407.9,310.6 407.9,312.2 408,313.7 408,315.1 408,316.5 408,317.8 408,319 408.1,320.2 408.1,321.4 408.1,322.5 408.1,323.6 408.2,324.6 408.2,325.6 408.2,326.6 408.2,327.6 408.3,328.5 408.3,329.4 408.3,330.3 408.3,331.2 408.4,332.1 408.4,332.9 408.4,333.8 408.4,334.6 408.5,335.4 408.5,336.3 408.5,337.1 408.6,337.9 408.6,338.7 408.6,339.5 408.6,340.3 408.7,341.1 408.7,341.9 408.7,342.7 408.8,343.5 408.8,344.3 408.8,345.1 408.9,345.9 408.9,346.7 408.9,347.5 409,348.3 409,349.1 409,349.9 409.1,350.7 409.1,351.5 409.1,352.3 409.2,353.1 409.2,353.8 409.2,354.6 409.3,355.4 409.3,356.2 409.4,357 409.4,357.7 409.4,358.5 409.5,359.3 409.5,360.1 409.6,360.8 409.6,361.6 409.6,362.4 409.7,363.1 409.7,363.9 409.8,364.6 409.8,365.4 409.8,366.1 409.9,366.9 409.9,367.6 410,368.3 410,369.1 410.1,369.8 410.1,370.5 410.2,371.2 410.2,371.9 410.2,372.6 410.3,373.3 410.3,374 410.4,374.7 410.4,375.4 410.5,376.1 410.5,376.8 410.6,377.4 410.6,378.1 410.7,378.8 410.7,379.4 410.8,380.1 410.8,380.7 410.9,381.3 410.9,382 411,382.6 411,383.2 411.1,383.8 411.2,384.4 411.2,385 411.3,385.6 411.3,386.2 411.4,386.8 411.4,387.3 411.5,387.9 411.5,388.5 411.6,389 411.7,389.6 411.7,390.1 411.8,390.6 411.8,391.2 411.9,391.7 412,392.2 412,392.7 412.1,393.2 412.1,393.7 412.2,394.2 412.3,394.7 412.3,395.1 412.4,395.6 412.4,396.1 412.5,396.5 412.6,397 412.6,397.4 412.7,397.9 412.8,398.3 412.8,398.7 412.9,399.1 413,399.5 413,399.9 413.1,400.3 413.2,400.7 413.2,401.1 413.3,401.5 413.4,401.8 413.4,402.2 413.5,402.5 413.6,402.9 413.7,403.2 413.7,403.6 413.8,403.9 413.9,404.2 414,404.6 414,404.9 414.1,405.2 414.2,405.5 414.2,405.8 414.3,406.1 414.4,406.4 414.5,406.6 414.5,406.9 414.6,407.2 414.7,407.5 414.8,407.7 414.9,408 415,408.5 415.2,408.9 415.3,409.4 415.5,409.8 415.7,410.2 415.8,410.6 416,411 416.2,411.4 416.3,411.7 416.5,412 416.7,412.3 416.9,412.6 417.1,412.9 417.2,413.2 417.4,413.4 417.7,413.8 418,414.1 418.3,414.4 418.6,414.7 418.8,415 419.1,415.2 419.2,415.3" fill="none" stroke="#ecdad5" stroke-width="1.3" stroke-linejoin="round" stroke-linecap="butt" stroke-opacity="0.6"/>
<path d="M407.3,256.9 407.6,256.9 407.6,258.3 407.6,262.3 407.6,266.3 407.7,270 407.7,273.6 407.7,277 407.7,280.3 407.7,283.4 407.7,286.4 407.7,289.2 407.8,291.9 407.8,294.4 407.8,296.9 407.8,299.1 407.8,301.3 407.8,303.4 407.9,305.3 407.9,307.2 407.9,308.9 407.9,310.6 407.9,312.2 408,313.7 408,315.1 408,316.5 408,317.8 408,319 408.1,320.2 408.1,321.4 408.1,322.5 408.1,323.6 408.2,324.6 408.2,325.6 408.2,326.6 408.2,327.6 408.3,328.5 408.3,329.4 408.3,330.3 408.3,331.2 408.4,332.1 408.4,332.9 408.4,333.8 408.4,334.6 408.5,335.4 408.5,336.3 408.5,337.1 408.6,337.9 408.6,338.7 408.6,339.5 408.6,340.3 408.7,341.1 408.7,341.9 408.7,342.7 408.8,343.5 408.8,344.3 408.8,345.1 408.9,345.9 408.9,346.7 408.9,347.5 409,348.3 409,349.1 409,349.9 409.1,350.7 409.1,351.5 409.1,352.3 409.2,353.1 409.2,353.8 409.2,354.6 409.3,355.4 409.3,356.2 409.4,357 409.4,357.7 409.4,358.5 409.5,359.3 409.5,360.1 409.6,360.8 409.6,361.6 409.6,362.4 409.7,363.1 409.7,363.9 409.8,364.6 409.8,365.4 409.8,366.1 409.9,366.9 409.9,367.6 410,368.3 410,369.1 410.1,369.8 410.1,370.5 410.2,371.2 410.2,371.9 410.2,372.6 410.3,373.3 410.3,374 410.4,374.7 410.4,375.4 410.5,376.1 410.5,376.8 410.6,377.4 410.6,378.1 410.7,378.8 410.7,379.4 410.8,380.1 410.8,380.7 410.9,381.3 410.9,382 411,382.6 411,383.2 411.1,383.8 411.2,384.4 411.2,385 411.3,385.6 411.3,386.2 411.4,386.8 411.4,387.3 411.5,387.9 411.5,388.5 411.6,389 411.7,389.6 411.7,390.1 411.8,390.6 411.8,391.2 411.9,391.7 412,392.2 412,392.7 412.1,393.2 412.1,393.7 412.2,394.2 412.3,394.7 412.3,395.1 412.4,395.6 412.4,396.1 412.5,396.5 412.6,397 412.6,397.4 412.7,397.9 412.8,398.3 412.8,398.7 412.9,399.1 413,399.5 413,399.9 413.1,400.3 413.2,400.7 413.2,401.1 413.3,401.5 413.4,401.8 413.4,402.2 413.5,402.5 413.6,402.9 413.7,403.2 413.7,403.6 413.8,403.9 413.9,404.2 414,404.6 414,404.9 414.1,405.2 414.2,405.5 414.2,405.8 414.3,406.1 414.4,406.4 414.5,406.6 414.5,406.9 414.6,407.2 414.7,407.5 414.8,407.7 414.9,408 415,408.5 415.2,408.9 415.3,409.4 415.5,409.8 415.7,410.2 415.8,410.6 416,411 416.2,411.4 416.3,411.7 416.5,412 416.7,412.3 416.9,412.6 417.1,412.9 417.2,413.2 417.4,413.4 417.7,413.8 418,414.1 418.3,414.4 418.6,414.7 418.8,415 419.1,415.2 419.2,415.3" fill="none" stroke="#b89689" stroke-width="0.75" stroke-linejoin="round" stroke-linecap="butt" />
<line x1="419.24" y1="415.3" x2="419.24" y2="327.91" stroke="#ead0c9" stroke-width="1.15"/>
<path d="M419.2,327.9 419.3,328.2 419.3,328.5 419.3,328.7 419.3,329 419.3,329.4 419.3,329.7 419.3,329.9 419.4,330.2 419.4,330.6 419.4,330.9 419.4,331.3 419.4,331.7 419.5,332.1 419.5,332.5 419.5,333 419.5,333.5 419.5,333.7 419.6,334 419.6,334.3 419.6,334.5 419.6,334.8 419.6,335.1 419.6,335.4 419.7,335.7 419.7,335.9 419.7,336.2 419.7,336.5 419.7,336.9 419.7,337.2 419.8,337.5 419.8,337.8 419.8,338.1 419.8,338.5 419.8,338.8 419.8,339.2 419.9,339.5 419.9,339.9 419.9,340.2 419.9,340.6 420,340.9 420,341.3 420,341.7 420,342.1 420,342.5 420.1,342.8 420.1,343.2 420.1,343.6 420.1,344 420.2,344.4 420.2,344.9 420.2,345.3 420.2,345.7 420.3,346.1 420.3,346.5 420.3,346.9 420.3,347.4 420.4,347.8 420.4,348.2 420.4,348.7 420.5,349.1 420.5,349.6 420.5,350 420.5,350.5 420.6,350.9 420.6,351.4 420.6,351.8 420.7,352.3 420.7,352.8 420.7,353.2 420.8,353.7 420.8,354.2 420.8,354.7 420.9,355.1 420.9,355.6 420.9,356.1 421,356.6 421,357.1 421,357.5 421.1,358 421.1,358.5 421.1,359 421.2,359.5 421.2,360 421.3,360.5 421.3,361 421.3,361.5 421.4,362 421.4,362.5 421.5,363 421.5,363.5 421.5,364 421.6,364.5 421.6,365 421.7,365.5 421.7,366 421.7,366.5 421.8,367 421.8,367.5 421.9,368 421.9,368.5 422,369 422,369.5 422.1,370 422.1,370.5 422.2,371 422.2,371.5 422.2,372 422.3,372.4 422.3,372.9 422.4,373.4 422.4,373.9 422.5,374.4 422.5,374.9 422.6,375.4 422.6,375.9 422.7,376.4 422.7,376.9 422.8,377.4 422.8,377.8 422.9,378.3 423,378.8 423,379.3 423.1,379.8 423.1,380.2 423.2,380.7 423.2,381.2 423.3,381.6 423.3,382.1 423.4,382.6 423.4,383 423.5,383.5 423.6,383.9 423.6,384.4 423.7,384.9 423.7,385.3 423.8,385.8 423.9,386.2 423.9,386.6 424,387.1 424,387.5 424.1,388 424.2,388.4 424.2,388.8 424.3,389.2 424.4,389.7 424.4,390.1 424.5,390.5 424.5,390.9 424.6,391.3 424.7,391.7 424.7,392.2 424.8,392.6 424.9,393 424.9,393.4 425,393.7 425.1,394.1 425.1,394.5 425.2,394.9 425.3,395.3 425.4,395.7 425.4,396 425.5,396.4 425.6,396.8 425.6,397.1 425.7,397.5 425.8,397.9 425.9,398.2 425.9,398.6 426,398.9 426.1,399.3 426.2,399.6 426.2,399.9 426.3,400.3 426.4,400.6 426.5,400.9 426.5,401.2 426.6,401.6 426.7,401.9 426.8,402.2 426.8,402.5 426.9,402.8 427,403.1 427.1,403.4 427.2,403.7 427.2,404 427.3,404.3 427.4,404.6 427.5,404.9 427.6,405.1 427.7,405.4 427.7,405.7 427.8,405.9 427.9,406.2 428,406.5 428.1,406.7 428.2,407 428.2,407.2 428.4,407.7 428.6,408.2 428.8,408.7 429,409.1 429.1,409.6 429.3,410 429.5,410.4 429.7,410.8 429.9,411.2 430.1,411.6 430.3,412 430.5,412.3 430.7,412.7 430.9,413 431,413.3 431.2,413.5" fill="none" stroke="#dcc4bc" stroke-width="1.5" stroke-linejoin="round" stroke-linecap="butt" stroke-opacity="0.6"/>
<path d="M419.2,327.9 419.3,328.2 419.3,328.5 419.3,328.7 419.3,329 419.3,329.4 419.3,329.7 419.3,329.9 419.4,330.2 419.4,330.6 419.4,330.9 419.4,331.3 419.4,331.7 419.5,332.1 419.5,332.5 419.5,333 419.5,333.5 419.5,333.7 419.6,334 419.6,334.3 419.6,334.5 419.6,334.8 419.6,335.1 419.6,335.4 419.7,335.7 419.7,335.9 419.7,336.2 419.7,336.5 419.7,336.9 419.7,337.2 419.8,337.5 419.8,337.8 419.8,338.1 419.8,338.5 419.8,338.8 419.8,339.2 419.9,339.5 419.9,339.9 419.9,340.2 419.9,340.6 420,340.9 420,341.3 420,341.7 420,342.1 420,342.5 420.1,342.8 420.1,343.2 420.1,343.6 420.1,344 420.2,344.4 420.2,344.9 420.2,345.3 420.2,345.7 420.3,346.1 420.3,346.5 420.3,346.9 420.3,347.4 420.4,347.8 420.4,348.2 420.4,348.7 420.5,349.1 420.5,349.6 420.5,350 420.5,350.5 420.6,350.9 420.6,351.4 420.6,351.8 420.7,352.3 420.7,352.8 420.7,353.2 420.8,353.7 420.8,354.2 420.8,354.7 420.9,355.1 420.9,355.6 420.9,356.1 421,356.6 421,357.1 421,357.5 421.1,358 421.1,358.5 421.1,359 421.2,359.5 421.2,360 421.3,360.5 421.3,361 421.3,361.5 421.4,362 421.4,362.5 421.5,363 421.5,363.5 421.5,364 421.6,364.5 421.6,365 421.7,365.5 421.7,366 421.7,366.5 421.8,367 421.8,367.5 421.9,368 421.9,368.5 422,369 422,369.5 422.1,370 422.1,370.5 422.2,371 422.2,371.5 422.2,372 422.3,372.4 422.3,372.9 422.4,373.4 422.4,373.9 422.5,374.4 422.5,374.9 422.6,375.4 422.6,375.9 422.7,376.4 422.7,376.9 422.8,377.4 422.8,377.8 422.9,378.3 423,378.8 423,379.3 423.1,379.8 423.1,380.2 423.2,380.7 423.2,381.2 423.3,381.6 423.3,382.1 423.4,382.6 423.4,383 423.5,383.5 423.6,383.9 423.6,384.4 423.7,384.9 423.7,385.3 423.8,385.8 423.9,386.2 423.9,386.6 424,387.1 424,387.5 424.1,388 424.2,388.4 424.2,388.8 424.3,389.2 424.4,389.7 424.4,390.1 424.5,390.5 424.5,390.9 424.6,391.3 424.7,391.7 424.7,392.2 424.8,392.6 424.9,393 424.9,393.4 425,393.7 425.1,394.1 425.1,394.5 425.2,394.9 425.3,395.3 425.4,395.7 425.4,396 425.5,396.4 425.6,396.8 425.6,397.1 425.7,397.5 425.8,397.9 425.9,398.2 425.9,398.6 426,398.9 426.1,399.3 426.2,399.6 426.2,399.9 426.3,400.3 426.4,400.6 426.5,400.9 426.5,401.2 426.6,401.6 426.7,401.9 426.8,402.2 426.8,402.5 426.9,402.8 427,403.1 427.1,403.4 427.2,403.7 427.2,404 427.3,404.3 427.4,404.6 427.5,404.9 427.6,405.1 427.7,405.4 427.7,405.7 427.8,405.9 427.9,406.2 428,406.5 428.1,406.7 428.2,407 428.2,407.2 428.4,407.7 428.6,408.2 428.8,408.7 429,409.1 429.1,409.6 429.3,410 429.5,410.4 429.7,410.8 429.9,411.2 430.1,411.6 430.3,412 430.5,412.3 430.7,412.7 430.9,413 431,413.3 431.2,413.5" fill="none" stroke="#a27e6e" stroke-width="0.85" stroke-linejoin="round" stroke-linecap="butt" />
<line x1="431.15" y1="413.47" x2="431.15" y2="342.94" stroke="#ead0c9" stroke-width="1.15"/>
<path d="M431.2,342.9 431.2,343.2 431.2,343.5 431.2,343.7 431.2,344.1 431.3,344.4 431.3,344.7 431.3,345.1 431.3,345.3 431.3,345.6 431.4,345.9 431.4,346.2 431.4,346.6 431.4,346.9 431.5,347.3 431.5,347.7 431.5,348.1 431.6,348.5 431.6,348.9 431.6,349.3 431.7,349.8 431.7,350.3 431.7,350.8 431.8,351.3 431.8,351.5 431.8,351.8 431.8,352 431.9,352.3 431.9,352.6 431.9,352.8 431.9,353.1 431.9,353.4 432,353.7 432,354 432,354.3 432,354.5 432.1,354.8 432.1,355.1 432.1,355.4 432.1,355.7 432.2,356.1 432.2,356.4 432.2,356.7 432.2,357 432.3,357.3 432.3,357.6 432.3,358 432.4,358.3 432.4,358.6 432.4,358.9 432.4,359.3 432.5,359.6 432.5,360 432.5,360.3 432.6,360.6 432.6,361 432.6,361.3 432.7,361.7 432.7,362 432.7,362.4 432.8,362.7 432.8,363.1 432.8,363.5 432.9,363.8 432.9,364.2 432.9,364.6 433,364.9 433,365.3 433.1,365.7 433.1,366 433.1,366.4 433.2,366.8 433.2,367.1 433.2,367.5 433.3,367.9 433.3,368.3 433.4,368.7 433.4,369 433.4,369.4 433.5,369.8 433.5,370.2 433.6,370.6 433.6,371 433.7,371.3 433.7,371.7 433.7,372.1 433.8,372.5 433.8,372.9 433.9,373.3 433.9,373.7 434,374.1 434,374.4 434.1,374.8 434.1,375.2 434.2,375.6 434.2,376 434.2,376.4 434.3,376.8 434.3,377.2 434.4,377.6 434.4,377.9 434.5,378.3 434.5,378.7 434.6,379.1 434.6,379.5 434.7,379.9 434.8,380.3 434.8,380.6 434.9,381 434.9,381.4 435,381.8 435,382.2 435.1,382.6 435.1,382.9 435.2,383.3 435.2,383.7 435.3,384.1 435.4,384.4 435.4,384.8 435.5,385.2 435.5,385.6 435.6,385.9 435.6,386.3 435.7,386.7 435.8,387 435.8,387.4 435.9,387.8 435.9,388.1 436,388.5 436.1,388.9 436.1,389.2 436.2,389.6 436.3,389.9 436.3,390.3 436.4,390.6 436.5,391 436.5,391.3 436.6,391.7 436.6,392 436.7,392.4 436.8,392.7 436.8,393.1 436.9,393.4 437,393.7 437.1,394.1 437.1,394.4 437.2,394.7 437.3,395 437.3,395.4 437.4,395.7 437.5,396 437.5,396.3 437.6,396.7 437.7,397 437.8,397.3 437.8,397.6 437.9,397.9 438,398.2 438.1,398.5 438.1,398.8 438.2,399.1 438.3,399.4 438.4,399.7 438.4,400 438.5,400.3 438.6,400.6 438.7,400.8 438.7,401.1 438.8,401.4 438.9,401.7 439,402 439.1,402.2 439.1,402.5 439.2,402.8 439.3,403 439.4,403.3 439.5,403.5 439.6,403.8 439.6,404.1 439.7,404.3 439.9,404.8 440.1,405.3 440.2,405.8 440.4,406.2 440.6,406.7 440.8,407.1 441,407.6 441.1,408 441.3,408.4 441.5,408.8 441.7,409.2 441.9,409.6 442.1,410 442.3,410.4 442.5,410.7 442.7,411.1 442.9,411.4 443.1,411.7" fill="none" stroke="#dcc4bc" stroke-width="1.5" stroke-linejoin="round" stroke-linecap="butt" stroke-opacity="0.6"/>
<path d="M431.2,342.9 431.2,343.2 431.2,343.5 431.2,343.7 431.2,344.1 431.3,344.4 431.3,344.7 431.3,345.1 431.3,345.3 431.3,345.6 431.4,345.9 431.4,346.2 431.4,346.6 431.4,346.9 431.5,347.3 431.5,347.7 431.5,348.1 431.6,348.5 431.6,348.9 431.6,349.3 431.7,349.8 431.7,350.3 431.7,350.8 431.8,351.3 431.8,351.5 431.8,351.8 431.8,352 431.9,352.3 431.9,352.6 431.9,352.8 431.9,353.1 431.9,353.4 432,353.7 432,354 432,354.3 432,354.5 432.1,354.8 432.1,355.1 432.1,355.4 432.1,355.7 432.2,356.1 432.2,356.4 432.2,356.7 432.2,357 432.3,357.3 432.3,357.6 432.3,358 432.4,358.3 432.4,358.6 432.4,358.9 432.4,359.3 432.5,359.6 432.5,360 432.5,360.3 432.6,360.6 432.6,361 432.6,361.3 432.7,361.7 432.7,362 432.7,362.4 432.8,362.7 432.8,363.1 432.8,363.5 432.9,363.8 432.9,364.2 432.9,364.6 433,364.9 433,365.3 433.1,365.7 433.1,366 433.1,366.4 433.2,366.8 433.2,367.1 433.2,367.5 433.3,367.9 433.3,368.3 433.4,368.7 433.4,369 433.4,369.4 433.5,369.8 433.5,370.2 433.6,370.6 433.6,371 433.7,371.3 433.7,371.7 433.7,372.1 433.8,372.5 433.8,372.9 433.9,373.3 433.9,373.7 434,374.1 434,374.4 434.1,374.8 434.1,375.2 434.2,375.6 434.2,376 434.2,376.4 434.3,376.8 434.3,377.2 434.4,377.6 434.4,377.9 434.5,378.3 434.5,378.7 434.6,379.1 434.6,379.5 434.7,379.9 434.8,380.3 434.8,380.6 434.9,381 434.9,381.4 435,381.8 435,382.2 435.1,382.6 435.1,382.9 435.2,383.3 435.2,383.7 435.3,384.1 435.4,384.4 435.4,384.8 435.5,385.2 435.5,385.6 435.6,385.9 435.6,386.3 435.7,386.7 435.8,387 435.8,387.4 435.9,387.8 435.9,388.1 436,388.5 436.1,388.9 436.1,389.2 436.2,389.6 436.3,389.9 436.3,390.3 436.4,390.6 436.5,391 436.5,391.3 436.6,391.7 436.6,392 436.7,392.4 436.8,392.7 436.8,393.1 436.9,393.4 437,393.7 437.1,394.1 437.1,394.4 437.2,394.7 437.3,395 437.3,395.4 437.4,395.7 437.5,396 437.5,396.3 437.6,396.7 437.7,397 437.8,397.3 437.8,397.6 437.9,397.9 438,398.2 438.1,398.5 438.1,398.8 438.2,399.1 438.3,399.4 438.4,399.7 438.4,400 438.5,400.3 438.6,400.6 438.7,400.8 438.7,401.1 438.8,401.4 438.9,401.7 439,402 439.1,402.2 439.1,402.5 439.2,402.8 439.3,403 439.4,403.3 439.5,403.5 439.6,403.8 439.6,404.1 439.7,404.3 439.9,404.8 440.1,405.3 440.2,405.8 440.4,406.2 440.6,406.7 440.8,407.1 441,407.6 441.1,408 441.3,408.4 441.5,408.8 441.7,409.2 441.9,409.6 442.1,410 442.3,410.4 442.5,410.7 442.7,411.1 442.9,411.4 443.1,411.7" fill="none" stroke="#a27e6e" stroke-width="0.85" stroke-linejoin="round" stroke-linecap="butt" />
<line x1="443.06" y1="411.74" x2="443.06" y2="353.45" stroke="#ead0c9" stroke-width="1.15"/>
<path d="M443.1,353.4 443.1,353.7 443.1,354 443.1,354.3 443.2,354.6 443.2,354.9 443.2,355.2 443.2,355.5 443.3,355.8 443.3,356.2 443.3,356.5 443.4,356.8 443.4,357.1 443.4,357.4 443.5,357.7 443.5,358 443.5,358.3 443.6,358.7 443.6,359.1 443.6,359.4 443.7,359.8 443.7,360.2 443.8,360.6 443.8,361 443.9,361.5 443.9,361.9 443.9,362.4 444,362.8 444,363.3 444.1,363.8 444.2,364.3 444.2,364.8 444.2,365 444.3,365.3 444.3,365.5 444.3,365.8 444.4,366.1 444.4,366.3 444.4,366.6 444.4,366.9 444.5,367.1 444.5,367.4 444.5,367.7 444.6,368 444.6,368.2 444.6,368.5 444.7,368.8 444.7,369.1 444.7,369.4 444.8,369.6 444.8,369.9 444.9,370.2 444.9,370.5 444.9,370.8 445,371.1 445,371.4 445,371.7 445.1,372 445.1,372.3 445.1,372.6 445.2,372.9 445.2,373.2 445.3,373.5 445.3,373.8 445.4,374.1 445.4,374.4 445.4,374.7 445.5,375 445.5,375.3 445.6,375.6 445.6,375.9 445.6,376.3 445.7,376.6 445.7,376.9 445.8,377.2 445.8,377.5 445.9,377.8 445.9,378.1 446,378.5 446,378.8 446.1,379.1 446.1,379.4 446.2,379.7 446.2,380 446.3,380.4 446.3,380.7 446.4,381 446.4,381.3 446.5,381.6 446.5,381.9 446.6,382.3 446.6,382.6 446.7,382.9 446.7,383.2 446.8,383.5 446.8,383.8 446.9,384.2 446.9,384.5 447,384.8 447,385.1 447.1,385.4 447.1,385.7 447.2,386.1 447.3,386.4 447.3,386.7 447.4,387 447.4,387.3 447.5,387.6 447.6,387.9 447.6,388.2 447.7,388.5 447.7,388.9 447.8,389.2 447.9,389.5 447.9,389.8 448,390.1 448,390.4 448.1,390.7 448.2,391 448.2,391.3 448.3,391.6 448.4,391.9 448.4,392.2 448.5,392.5 448.6,392.8 448.6,393.1 448.7,393.4 448.8,393.7 448.8,394 448.9,394.2 449,394.5 449,394.8 449.1,395.1 449.2,395.4 449.2,395.7 449.3,395.9 449.4,396.2 449.5,396.5 449.5,396.8 449.6,397.1 449.7,397.3 449.7,397.6 449.8,397.9 449.9,398.1 450,398.4 450,398.7 450.1,398.9 450.2,399.2 450.3,399.5 450.3,399.7 450.4,400 450.5,400.2 450.6,400.5 450.7,400.7 450.7,401 450.9,401.5 451.1,402 451.2,402.5 451.4,402.9 451.5,403.4 451.7,403.9 451.9,404.3 452.1,404.8 452.2,405.2 452.4,405.6 452.6,406.1 452.8,406.5 452.9,406.9 453.1,407.3 453.3,407.7 453.5,408 453.7,408.4 453.9,408.8 454.1,409.2 454.3,409.5 454.5,409.8 454.7,410.2 454.9,410.5 455,410.7" fill="none" stroke="#dcc4bc" stroke-width="1.5" stroke-linejoin="round" stroke-linecap="butt" stroke-opacity="0.6"/>
<path d="M443.1,353.4 443.1,353.7 443.1,354 443.1,354.3 443.2,354.6 443.2,354.9 443.2,355.2 443.2,355.5 443.3,355.8 443.3,356.2 443.3,356.5 443.4,356.8 443.4,357.1 443.4,357.4 443.5,357.7 443.5,358 443.5,358.3 443.6,358.7 443.6,359.1 443.6,359.4 443.7,359.8 443.7,360.2 443.8,360.6 443.8,361 443.9,361.5 443.9,361.9 443.9,362.4 444,362.8 444,363.3 444.1,363.8 444.2,364.3 444.2,364.8 444.2,365 444.3,365.3 444.3,365.5 444.3,365.8 444.4,366.1 444.4,366.3 444.4,366.6 444.4,366.9 444.5,367.1 444.5,367.4 444.5,367.7 444.6,368 444.6,368.2 444.6,368.5 444.7,368.8 444.7,369.1 444.7,369.4 444.8,369.6 444.8,369.9 444.9,370.2 444.9,370.5 444.9,370.8 445,371.1 445,371.4 445,371.7 445.1,372 445.1,372.3 445.1,372.6 445.2,372.9 445.2,373.2 445.3,373.5 445.3,373.8 445.4,374.1 445.4,374.4 445.4,374.7 445.5,375 445.5,375.3 445.6,375.6 445.6,375.9 445.6,376.3 445.7,376.6 445.7,376.9 445.8,377.2 445.8,377.5 445.9,377.8 445.9,378.1 446,378.5 446,378.8 446.1,379.1 446.1,379.4 446.2,379.7 446.2,380 446.3,380.4 446.3,380.7 446.4,381 446.4,381.3 446.5,381.6 446.5,381.9 446.6,382.3 446.6,382.6 446.7,382.9 446.7,383.2 446.8,383.5 446.8,383.8 446.9,384.2 446.9,384.5 447,384.8 447,385.1 447.1,385.4 447.1,385.7 447.2,386.1 447.3,386.4 447.3,386.7 447.4,387 447.4,387.3 447.5,387.6 447.6,387.9 447.6,388.2 447.7,388.5 447.7,388.9 447.8,389.2 447.9,389.5 447.9,389.8 448,390.1 448,390.4 448.1,390.7 448.2,391 448.2,391.3 448.3,391.6 448.4,391.9 448.4,392.2 448.5,392.5 448.6,392.8 448.6,393.1 448.7,393.4 448.8,393.7 448.8,394 448.9,394.2 449,394.5 449,394.8 449.1,395.1 449.2,395.4 449.2,395.7 449.3,395.9 449.4,396.2 449.5,396.5 449.5,396.8 449.6,397.1 449.7,397.3 449.7,397.6 449.8,397.9 449.9,398.1 450,398.4 450,398.7 450.1,398.9 450.2,399.2 450.3,399.5 450.3,399.7 450.4,400 450.5,400.2 450.6,400.5 450.7,400.7 450.7,401 450.9,401.5 451.1,402 451.2,402.5 451.4,402.9 451.5,403.4 451.7,403.9 451.9,404.3 452.1,404.8 452.2,405.2 452.4,405.6 452.6,406.1 452.8,406.5 452.9,406.9 453.1,407.3 453.3,407.7 453.5,408 453.7,408.4 453.9,408.8 454.1,409.2 454.3,409.5 454.5,409.8 454.7,410.2 454.9,410.5 455,410.7" fill="none" stroke="#a27e6e" stroke-width="0.85" stroke-linejoin="round" stroke-linecap="butt" />
<line x1="454.96" y1="410.68" x2="454.96" y2="361.25" stroke="#ead0c9" stroke-width="1.15"/>
<path d="M455,361.3 455,361.5 455,361.8 455.1,362.1 455.1,362.4 455.1,362.7 455.2,362.9 455.2,363.2 455.2,363.5 455.3,363.8 455.3,364.2 455.4,364.5 455.4,364.8 455.4,365.1 455.5,365.3 455.5,365.6 455.5,365.9 455.6,366.2 455.6,366.5 455.7,366.9 455.7,367.2 455.8,367.5 455.8,367.9 455.9,368.2 455.9,368.6 456,369 456,369.4 456.1,369.7 456.1,370.1 456.2,370.5 456.2,371 456.3,371.4 456.4,371.8 456.4,372.2 456.5,372.7 456.5,373.1 456.6,373.6 456.7,374 456.8,374.5 456.8,375 456.9,375.4 457,375.9 457.1,376.4 457.1,376.9 457.2,377.4 457.3,377.9 457.4,378.4 457.4,378.6 457.5,378.9 457.5,379.1 457.6,379.4 457.6,379.6 457.6,379.9 457.7,380.1 457.7,380.4 457.8,380.7 457.8,380.9 457.9,381.2 457.9,381.4 458,381.7 458,382 458.1,382.2 458.1,382.5 458.2,382.7 458.2,383 458.3,383.3 458.3,383.5 458.4,383.8 458.4,384.1 458.5,384.3 458.5,384.6 458.6,384.8 458.6,385.1 458.7,385.4 458.7,385.6 458.8,385.9 458.8,386.2 458.9,386.4 458.9,386.7 459,387 459.1,387.2 459.1,387.5 459.2,387.8 459.2,388 459.3,388.3 459.3,388.5 459.4,388.8 459.5,389.1 459.5,389.3 459.6,389.6 459.6,389.9 459.7,390.1 459.8,390.4 459.8,390.6 459.9,390.9 459.9,391.2 460,391.4 460.1,391.7 460.1,391.9 460.2,392.2 460.3,392.5 460.3,392.7 460.4,393 460.5,393.2 460.5,393.5 460.6,393.7 460.7,394 460.7,394.2 460.8,394.5 460.9,394.7 461,395.2 461.1,395.7 461.3,396.2 461.4,396.7 461.6,397.2 461.7,397.7 461.9,398.2 462,398.6 462.2,399.1 462.3,399.6 462.5,400 462.6,400.5 462.8,400.9 463,401.4 463.1,401.8 463.3,402.2 463.5,402.7 463.6,403.1 463.8,403.5 464,403.9 464.1,404.3 464.3,404.7 464.5,405.1 464.7,405.5 464.9,405.9 465,406.2 465.2,406.6 465.4,407 465.6,407.3 465.8,407.7 466,408 466.2,408.4 466.4,408.7 466.6,409 466.8,409.4 466.9,409.5" fill="none" stroke="#dcc4bc" stroke-width="1.5" stroke-linejoin="round" stroke-linecap="butt" stroke-opacity="0.6"/>
<path d="M455,361.3 455,361.5 455,361.8 455.1,362.1 455.1,362.4 455.1,362.7 455.2,362.9 455.2,363.2 455.2,363.5 455.3,363.8 455.3,364.2 455.4,364.5 455.4,364.8 455.4,365.1 455.5,365.3 455.5,365.6 455.5,365.9 455.6,366.2 455.6,366.5 455.7,366.9 455.7,367.2 455.8,367.5 455.8,367.9 455.9,368.2 455.9,368.6 456,369 456,369.4 456.1,369.7 456.1,370.1 456.2,370.5 456.2,371 456.3,371.4 456.4,371.8 456.4,372.2 456.5,372.7 456.5,373.1 456.6,373.6 456.7,374 456.8,374.5 456.8,375 456.9,375.4 457,375.9 457.1,376.4 457.1,376.9 457.2,377.4 457.3,377.9 457.4,378.4 457.4,378.6 457.5,378.9 457.5,379.1 457.6,379.4 457.6,379.6 457.6,379.9 457.7,380.1 457.7,380.4 457.8,380.7 457.8,380.9 457.9,381.2 457.9,381.4 458,381.7 458,382 458.1,382.2 458.1,382.5 458.2,382.7 458.2,383 458.3,383.3 458.3,383.5 458.4,383.8 458.4,384.1 458.5,384.3 458.5,384.6 458.6,384.8 458.6,385.1 458.7,385.4 458.7,385.6 458.8,385.9 458.8,386.2 458.9,386.4 458.9,386.7 459,387 459.1,387.2 459.1,387.5 459.2,387.8 459.2,388 459.3,388.3 459.3,388.5 459.4,388.8 459.5,389.1 459.5,389.3 459.6,389.6 459.6,389.9 459.7,390.1 459.8,390.4 459.8,390.6 459.9,390.9 459.9,391.2 460,391.4 460.1,391.7 460.1,391.9 460.2,392.2 460.3,392.5 460.3,392.7 460.4,393 460.5,393.2 460.5,393.5 460.6,393.7 460.7,394 460.7,394.2 460.8,394.5 460.9,394.7 461,395.2 461.1,395.7 461.3,396.2 461.4,396.7 461.6,397.2 461.7,397.7 461.9,398.2 462,398.6 462.2,399.1 462.3,399.6 462.5,400 462.6,400.5 462.8,400.9 463,401.4 463.1,401.8 463.3,402.2 463.5,402.7 463.6,403.1 463.8,403.5 464,403.9 464.1,404.3 464.3,404.7 464.5,405.1 464.7,405.5 464.9,405.9 465,406.2 465.2,406.6 465.4,407 465.6,407.3 465.8,407.7 466,408 466.2,408.4 466.4,408.7 466.6,409 466.8,409.4 466.9,409.5" fill="none" stroke="#a27e6e" stroke-width="0.85" stroke-linejoin="round" stroke-linecap="butt" />
<line x1="466.87" y1="409.52" x2="466.87" y2="366.94" stroke="#ead0c9" stroke-width="1.15"/>
<path d="M466.9,366.9 466.9,367.2 466.9,367.5 467,367.8 467,368.1 467.1,368.3 467.1,368.6 467.2,369 467.2,369.3 467.3,369.5 467.3,369.9 467.4,370.2 467.4,370.5 467.5,370.9 467.6,371.3 467.6,371.5 467.6,371.8 467.7,372.1 467.7,372.3 467.8,372.6 467.8,372.9 467.9,373.2 467.9,373.5 468,373.9 468,374.2 468.1,374.5 468.2,374.8 468.2,375.2 468.3,375.5 468.4,375.9 468.4,376.2 468.5,376.6 468.6,377 468.6,377.3 468.7,377.7 468.8,378.1 468.8,378.5 468.9,378.9 469,379.3 469.1,379.7 469.2,380.1 469.2,380.5 469.3,380.9 469.4,381.3 469.5,381.8 469.6,382.2 469.7,382.6 469.8,383 469.9,383.5 470,383.9 470.1,384.3 470.2,384.8 470.3,385.2 470.4,385.7 470.5,386.1 470.6,386.5 470.7,387 470.8,387.4 470.9,387.9 471,388.3 471.1,388.8 471.2,389.2 471.4,389.7 471.5,390.1 471.6,390.6 471.7,391 471.9,391.5 472,391.9 472.1,392.4 472.2,392.8 472.4,393.3 472.5,393.7 472.6,394.1 472.8,394.6 472.9,395 473,395.5 473.2,395.9 473.3,396.3 473.5,396.8 473.6,397.2 473.8,397.6 473.9,398 474.1,398.4 474.2,398.9 474.4,399.3 474.5,399.7 474.7,400.1 474.9,400.5 475,400.9 475.2,401.3 475.4,401.7 475.5,402.1 475.7,402.5 475.9,402.8 476,403.2 476.2,403.6 476.4,404 476.6,404.3 476.8,404.7 476.9,405 477.1,405.4 477.3,405.7 477.5,406.1 477.7,406.4 477.9,406.7 478.1,407.1 478.3,407.4 478.5,407.7 478.7,408 478.8,408.2" fill="none" stroke="#dcc4bc" stroke-width="1.5" stroke-linejoin="round" stroke-linecap="butt" stroke-opacity="0.6"/>
<path d="M466.9,366.9 466.9,367.2 466.9,367.5 467,367.8 467,368.1 467.1,368.3 467.1,368.6 467.2,369 467.2,369.3 467.3,369.5 467.3,369.9 467.4,370.2 467.4,370.5 467.5,370.9 467.6,371.3 467.6,371.5 467.6,371.8 467.7,372.1 467.7,372.3 467.8,372.6 467.8,372.9 467.9,373.2 467.9,373.5 468,373.9 468,374.2 468.1,374.5 468.2,374.8 468.2,375.2 468.3,375.5 468.4,375.9 468.4,376.2 468.5,376.6 468.6,377 468.6,377.3 468.7,377.7 468.8,378.1 468.8,378.5 468.9,378.9 469,379.3 469.1,379.7 469.2,380.1 469.2,380.5 469.3,380.9 469.4,381.3 469.5,381.8 469.6,382.2 469.7,382.6 469.8,383 469.9,383.5 470,383.9 470.1,384.3 470.2,384.8 470.3,385.2 470.4,385.7 470.5,386.1 470.6,386.5 470.7,387 470.8,387.4 470.9,387.9 471,388.3 471.1,388.8 471.2,389.2 471.4,389.7 471.5,390.1 471.6,390.6 471.7,391 471.9,391.5 472,391.9 472.1,392.4 472.2,392.8 472.4,393.3 472.5,393.7 472.6,394.1 472.8,394.6 472.9,395 473,395.5 473.2,395.9 473.3,396.3 473.5,396.8 473.6,397.2 473.8,397.6 473.9,398 474.1,398.4 474.2,398.9 474.4,399.3 474.5,399.7 474.7,400.1 474.9,400.5 475,400.9 475.2,401.3 475.4,401.7 475.5,402.1 475.7,402.5 475.9,402.8 476,403.2 476.2,403.6 476.4,404 476.6,404.3 476.8,404.7 476.9,405 477.1,405.4 477.3,405.7 477.5,406.1 477.7,406.4 477.9,406.7 478.1,407.1 478.3,407.4 478.5,407.7 478.7,408 478.8,408.2" fill="none" stroke="#a27e6e" stroke-width="0.85" stroke-linejoin="round" stroke-linecap="butt" />
<line x1="478.77" y1="408.17" x2="478.77" y2="371.85" stroke="#ead0c9" stroke-width="1.15"/>
<path d="M478.8,371.8 478.8,372.1 478.9,372.4 478.9,372.7 479,372.9 479,373.2 479.1,373.5 479.1,373.8 479.2,374.1 479.3,374.4 479.3,374.6 479.4,374.9 479.4,375.2 479.5,375.5 479.6,375.9 479.6,376.2 479.7,376.6 479.8,376.9 479.8,377.2 479.9,377.4 480,377.7 480,378 480.1,378.3 480.1,378.5 480.2,378.8 480.3,379.1 480.3,379.4 480.4,379.7 480.5,380 480.5,380.3 480.6,380.6 480.7,380.9 480.8,381.3 480.8,381.6 480.9,381.9 481,382.2 481.1,382.6 481.1,382.9 481.2,383.3 481.3,383.6 481.4,384 481.5,384.3 481.6,384.7 481.7,385 481.8,385.4 481.9,385.8 482,386.1 482.1,386.5 482.2,386.9 482.3,387.2 482.4,387.6 482.5,388 482.6,388.4 482.7,388.7 482.8,389.1 482.9,389.5 483,389.9 483.2,390.3 483.3,390.7 483.4,391 483.5,391.4 483.6,391.8 483.8,392.2 483.9,392.6 484,393 484.1,393.4 484.3,393.7 484.4,394.1 484.5,394.5 484.7,394.9 484.8,395.3 485,395.7 485.1,396 485.2,396.4 485.4,396.8 485.5,397.2 485.7,397.5 485.8,397.9 486,398.3 486.1,398.7 486.3,399 486.5,399.4 486.6,399.8 486.8,400.1 486.9,400.5 487.1,400.8 487.3,401.2 487.4,401.5 487.6,401.9 487.8,402.2 488,402.6 488.1,402.9 488.3,403.3 488.5,403.6 488.7,403.9 488.8,404.3 489,404.6 489.2,404.9 489.4,405.2 489.6,405.5 489.8,405.9 490,406.2 490.2,406.5 490.4,406.8 490.6,407.1 490.7,407.2" fill="none" stroke="#dcc4bc" stroke-width="1.5" stroke-linejoin="round" stroke-linecap="butt" stroke-opacity="0.6"/>
<path d="M478.8,371.8 478.8,372.1 478.9,372.4 478.9,372.7 479,372.9 479,373.2 479.1,373.5 479.1,373.8 479.2,374.1 479.3,374.4 479.3,374.6 479.4,374.9 479.4,375.2 479.5,375.5 479.6,375.9 479.6,376.2 479.7,376.6 479.8,376.9 479.8,377.2 479.9,377.4 480,377.7 480,378 480.1,378.3 480.1,378.5 480.2,378.8 480.3,379.1 480.3,379.4 480.4,379.7 480.5,380 480.5,380.3 480.6,380.6 480.7,380.9 480.8,381.3 480.8,381.6 480.9,381.9 481,382.2 481.1,382.6 481.1,382.9 481.2,383.3 481.3,383.6 481.4,384 481.5,384.3 481.6,384.7 481.7,385 481.8,385.4 481.9,385.8 482,386.1 482.1,386.5 482.2,386.9 482.3,387.2 482.4,387.6 482.5,388 482.6,388.4 482.7,388.7 482.8,389.1 482.9,389.5 483,389.9 483.2,390.3 483.3,390.7 483.4,391 483.5,391.4 483.6,391.8 483.8,392.2 483.9,392.6 484,393 484.1,393.4 484.3,393.7 484.4,394.1 484.5,394.5 484.7,394.9 484.8,395.3 485,395.7 485.1,396 485.2,396.4 485.4,396.8 485.5,397.2 485.7,397.5 485.8,397.9 486,398.3 486.1,398.7 486.3,399 486.5,399.4 486.6,399.8 486.8,400.1 486.9,400.5 487.1,400.8 487.3,401.2 487.4,401.5 487.6,401.9 487.8,402.2 488,402.6 488.1,402.9 488.3,403.3 488.5,403.6 488.7,403.9 488.8,404.3 489,404.6 489.2,404.9 489.4,405.2 489.6,405.5 489.8,405.9 490,406.2 490.2,406.5 490.4,406.8 490.6,407.1 490.7,407.2" fill="none" stroke="#a27e6e" stroke-width="0.85" stroke-linejoin="round" stroke-linecap="butt" />
<line x1="490.68" y1="407.21" x2="490.68" y2="376.18" stroke="#ead0c9" stroke-width="1.15"/>
<path d="M490.7,376.2 490.7,376.4 490.8,376.7 490.9,377 490.9,377.3 491,377.5 491.1,377.8 491.2,378.1 491.2,378.4 491.3,378.7 491.4,379 491.5,379.3 491.5,379.5 491.6,379.8 491.7,380.1 491.7,380.4 491.8,380.7 491.9,381 492,381.4 492.1,381.7 492.2,382 492.3,382.4 492.4,382.8 492.5,383.1 492.6,383.4 492.7,383.7 492.7,383.9 492.8,384.2 492.9,384.5 493,384.7 493.1,385 493.1,385.3 493.2,385.6 493.3,385.8 493.4,386.1 493.5,386.4 493.6,386.7 493.7,387 493.8,387.3 493.9,387.6 494,387.9 494.1,388.2 494.2,388.5 494.3,388.8 494.4,389.1 494.5,389.5 494.6,389.8 494.7,390.1 494.8,390.4 494.9,390.7 495.1,391.1 495.2,391.4 495.3,391.7 495.4,392 495.5,392.3 495.7,392.7 495.8,393 495.9,393.3 496,393.7 496.2,394 496.3,394.3 496.4,394.6 496.6,395 496.7,395.3 496.9,395.6 497,395.9 497.1,396.3 497.3,396.6 497.4,396.9 497.6,397.3 497.7,397.6 497.9,397.9 498,398.2 498.2,398.6 498.4,398.9 498.5,399.2 498.7,399.5 498.8,399.8 499,400.1 499.2,400.5 499.3,400.8 499.5,401.1 499.7,401.4 499.9,401.7 500,402 500.2,402.3 500.4,402.6 500.6,402.9 500.8,403.2 500.9,403.5 501.1,403.8 501.3,404.1 501.5,404.4 501.7,404.7 501.9,405 502.1,405.3 502.3,405.5 502.5,405.8 502.6,406" fill="none" stroke="#dcc4bc" stroke-width="1.5" stroke-linejoin="round" stroke-linecap="butt" stroke-opacity="0.6"/>
<path d="M490.7,376.2 490.7,376.4 490.8,376.7 490.9,377 490.9,377.3 491,377.5 491.1,377.8 491.2,378.1 491.2,378.4 491.3,378.7 491.4,379 491.5,379.3 491.5,379.5 491.6,379.8 491.7,380.1 491.7,380.4 491.8,380.7 491.9,381 492,381.4 492.1,381.7 492.2,382 492.3,382.4 492.4,382.8 492.5,383.1 492.6,383.4 492.7,383.7 492.7,383.9 492.8,384.2 492.9,384.5 493,384.7 493.1,385 493.1,385.3 493.2,385.6 493.3,385.8 493.4,386.1 493.5,386.4 493.6,386.7 493.7,387 493.8,387.3 493.9,387.6 494,387.9 494.1,388.2 494.2,388.5 494.3,388.8 494.4,389.1 494.5,389.5 494.6,389.8 494.7,390.1 494.8,390.4 494.9,390.7 495.1,391.1 495.2,391.4 495.3,391.7 495.4,392 495.5,392.3 495.7,392.7 495.8,393 495.9,393.3 496,393.7 496.2,394 496.3,394.3 496.4,394.6 496.6,395 496.7,395.3 496.9,395.6 497,395.9 497.1,396.3 497.3,396.6 497.4,396.9 497.6,397.3 497.7,397.6 497.9,397.9 498,398.2 498.2,398.6 498.4,398.9 498.5,399.2 498.7,399.5 498.8,399.8 499,400.1 499.2,400.5 499.3,400.8 499.5,401.1 499.7,401.4 499.9,401.7 500,402 500.2,402.3 500.4,402.6 500.6,402.9 500.8,403.2 500.9,403.5 501.1,403.8 501.3,404.1 501.5,404.4 501.7,404.7 501.9,405 502.1,405.3 502.3,405.5 502.5,405.8 502.6,406" fill="none" stroke="#a27e6e" stroke-width="0.85" stroke-linejoin="round" stroke-linecap="butt" />
<line x1="323.9" y1="324.35" x2="502.28" y2="324.35" stroke="#1010e8" stroke-width="1.9" stroke-dasharray="5.1,4.8"/>
<text x="429.9" y="253.9" font-size="10.2" text-anchor="middle" font-weight="bold" fill="#0a0a0a" font-family='"Liberation Sans", sans-serif' >Thermal history of 4th layer (120 s Delay)</text>
<text x="0" y="0" font-size="10.2" font-weight="bold" fill="#262626" font-family='"Liberation Sans", sans-serif' text-anchor="middle" transform="translate(296,338.8) rotate(-90)">T (°C)</text>
<text x="430.3" y="446.8" font-size="10.0" text-anchor="middle" font-weight="bold" fill="#262626" font-family='"Liberation Sans", sans-serif' >Time (s)</text>
<text x="134.7" y="471.4" font-size="13.5" text-anchor="middle" font-weight="bold" fill="#111" font-family='"Liberation Serif", serif'>(c)</text>
<text x="423.7" y="471.3" font-size="13.5" text-anchor="middle" font-weight="bold" fill="#111" font-family='"Liberation Serif", serif'>(d)</text>
<path d="M316.4,494.1 L316.4,657.8 L528.7,657.8" fill="none" stroke="#bababa" stroke-width="1.3"/>
<line x1="316.4" y1="657.8" x2="316.4" y2="655.6" stroke="#9a9a9a" stroke-width="0.8"/>
<text x="316.4" y="670.8" font-size="8.8" text-anchor="middle" font-weight="bold" fill="#262626" font-family='"Liberation Sans", sans-serif' >0</text>
<line x1="351.78" y1="657.8" x2="351.78" y2="655.6" stroke="#9a9a9a" stroke-width="0.8"/>
<text x="351.78" y="670.8" font-size="8.8" text-anchor="middle" font-weight="bold" fill="#262626" font-family='"Liberation Sans", sans-serif' >1000</text>
<line x1="387.17" y1="657.8" x2="387.17" y2="655.6" stroke="#9a9a9a" stroke-width="0.8"/>
<text x="387.17" y="670.8" font-size="8.8" text-anchor="middle" font-weight="bold" fill="#262626" font-family='"Liberation Sans", sans-serif' >2000</text>
<line x1="422.55" y1="657.8" x2="422.55" y2="655.6" stroke="#9a9a9a" stroke-width="0.8"/>
<text x="422.55" y="670.8" font-size="8.8" text-anchor="middle" font-weight="bold" fill="#262626" font-family='"Liberation Sans", sans-serif' >3000</text>
<line x1="457.93" y1="657.8" x2="457.93" y2="655.6" stroke="#9a9a9a" stroke-width="0.8"/>
<text x="457.93" y="670.8" font-size="8.8" text-anchor="middle" font-weight="bold" fill="#262626" font-family='"Liberation Sans", sans-serif' >4000</text>
<line x1="493.32" y1="657.8" x2="493.32" y2="655.6" stroke="#9a9a9a" stroke-width="0.8"/>
<text x="493.32" y="670.8" font-size="8.8" text-anchor="middle" font-weight="bold" fill="#262626" font-family='"Liberation Sans", sans-serif' >5000</text>
<line x1="528.7" y1="657.8" x2="528.7" y2="655.6" stroke="#9a9a9a" stroke-width="0.8"/>
<text x="528.7" y="670.8" font-size="8.8" text-anchor="middle" font-weight="bold" fill="#262626" font-family='"Liberation Sans", sans-serif' >6000</text>
<line x1="316.4" y1="657.8" x2="318.6" y2="657.8" stroke="#9a9a9a" stroke-width="0.8"/>
<text x="312.8" y="661.1" font-size="8.8" text-anchor="end" font-weight="bold" fill="#262626" font-family='"Liberation Sans", sans-serif' >0</text>
<line x1="316.4" y1="609.65" x2="318.6" y2="609.65" stroke="#9a9a9a" stroke-width="0.8"/>
<text x="312.8" y="612.95" font-size="8.8" text-anchor="end" font-weight="bold" fill="#262626" font-family='"Liberation Sans", sans-serif' >500</text>
<line x1="316.4" y1="561.51" x2="318.6" y2="561.51" stroke="#9a9a9a" stroke-width="0.8"/>
<text x="312.8" y="564.81" font-size="8.8" text-anchor="end" font-weight="bold" fill="#262626" font-family='"Liberation Sans", sans-serif' >1000</text>
<line x1="316.4" y1="513.36" x2="318.6" y2="513.36" stroke="#9a9a9a" stroke-width="0.8"/>
<text x="312.8" y="516.66" font-size="8.8" text-anchor="end" font-weight="bold" fill="#262626" font-family='"Liberation Sans", sans-serif' >1500</text>
<line x1="316.4" y1="657.3" x2="353.34" y2="657.3" stroke="#e2c9c2" stroke-width="1"/>
<line x1="353.34" y1="657.8" x2="353.34" y2="494.1" stroke="#a6daf2" stroke-width="1.3"/>
<path d="M353.3,494.1 353.6,497.9 353.6,502.3 353.6,506.6 353.6,510.9 353.7,515.1 353.7,519.4 353.7,523.6 353.7,527.7 353.7,531.8 353.7,535.9 353.7,539.9 353.8,543.8 353.8,547.7 353.8,551.5 353.8,555.3 353.8,558.9 353.8,562.5 353.9,566 353.9,569.5 353.9,572.8 353.9,576.1 353.9,579.3 354,582.4 354,585.4 354,588.3 354,591.1 354,593.9 354.1,596.5 354.1,599.1 354.1,601.6 354.1,604 354.2,606.3 354.2,608.5 354.2,610.7 354.2,612.8 354.3,614.7 354.3,616.7 354.3,618.5 354.3,620.2 354.4,621.9 354.4,623.5 354.4,625.1 354.4,626.5 354.5,627.9 354.5,629.3 354.5,630.5 354.6,631.7 354.6,632.9 354.6,634 354.7,635 354.7,636 354.7,637 354.7,637.9 354.8,638.7 354.8,639.5 354.8,640.3 354.9,641 354.9,641.7 354.9,642.3 355,643 355,643.5 355.1,644.1 355.1,644.6 355.1,645.1 355.2,645.6 355.2,646 355.2,646.4 355.3,646.8 355.3,647.2 355.3,647.6 355.4,647.9 355.4,648.2 355.5,648.5 355.5,648.8 355.5,649.1 355.6,649.3 355.7,649.8 355.8,650.2 355.8,650.6 355.9,651 356,651.3 356.1,651.6 356.2,651.9 356.3,652.2 356.5,652.5 356.6,652.8 356.8,653.1 357,653.4 357.2,653.7 357.5,654 357.8,654.2 358.1,654.4 358.4,654.6 358.6,654.7 358.9,654.8 359.2,654.9 359.4,655 359.7,655 360,655.1 360.3,655.2 360.6,655.2 361,655.2 361.3,655.3 361.6,655.3 361.9,655.3 362.1,655.3 362.4,655.3 362.7,655.3 362.9,655.3 363.2,655.4 363.5,655.4 363.8,655.4 364,655.4 364.3,655.4 364.6,655.4 364.9,655.4 365.2,655.4 365.5,655.4 365.7,655.4" fill="none" stroke="#8ccfee" stroke-width="1.0" stroke-linejoin="round" stroke-linecap="butt" />
<line x1="365.65" y1="657.8" x2="365.65" y2="494.1" stroke="#ead0c9" stroke-width="1.15"/>
<path d="M365.7,494.1 365.8,494.7 365.8,500 365.8,505 365.8,509.6 365.8,514 365.9,518.1 365.9,521.9 365.9,525.4 365.9,528.8 365.9,531.8 365.9,534.7 365.9,537.3 365.9,539.8 366,542.1 366,544.3 366,546.3 366,548.2 366,550 366,551.8 366,553.4 366.1,554.9 366.1,556.4 366.1,557.9 366.1,559.3 366.1,560.6 366.1,561.9 366.2,563.2 366.2,564.5 366.2,565.8 366.2,567 366.2,568.3 366.3,569.5 366.3,570.7 366.3,571.9 366.3,573.1 366.3,574.3 366.4,575.5 366.4,576.7 366.4,577.9 366.4,579.1 366.5,580.3 366.5,581.5 366.5,582.7 366.5,583.9 366.5,585 366.6,586.2 366.6,587.4 366.6,588.6 366.7,589.8 366.7,590.9 366.7,592.1 366.7,593.2 366.8,594.4 366.8,595.5 366.8,596.7 366.8,597.8 366.9,598.9 366.9,600.1 366.9,601.2 367,602.3 367,603.4 367,604.5 367.1,605.5 367.1,606.6 367.1,607.7 367.2,608.7 367.2,609.7 367.2,610.8 367.3,611.8 367.3,612.8 367.3,613.8 367.4,614.7 367.4,615.7 367.4,616.7 367.5,617.6 367.5,618.5 367.5,619.5 367.6,620.4 367.6,621.2 367.7,622.1 367.7,623 367.7,623.8 367.8,624.7 367.8,625.5 367.9,626.3 367.9,627.1 367.9,627.9 368,628.6 368,629.4 368.1,630.1 368.1,630.8 368.2,631.5 368.2,632.2 368.2,632.9 368.3,633.6 368.3,634.2 368.4,634.9 368.4,635.5 368.5,636.1 368.5,636.7 368.6,637.3 368.6,637.9 368.7,638.4 368.7,639 368.8,639.5 368.8,640 368.9,640.5 368.9,641 369,641.5 369,642 369.1,642.4 369.1,642.9 369.2,643.3 369.2,643.7 369.3,644.2 369.3,644.6 369.4,644.9 369.4,645.3 369.5,645.7 369.5,646 369.6,646.4 369.7,646.7 369.7,647 369.8,647.4 369.8,647.7 369.9,648 369.9,648.3 370,648.5 370.1,648.8 370.1,649.1 370.2,649.3 370.3,649.8 370.4,650.2 370.6,650.7 370.7,651.1 370.8,651.4 370.9,651.8 371.1,652.1 371.2,652.4 371.3,652.6 371.5,653 371.8,653.3 372,653.6 372.2,653.8 372.5,654.1 372.8,654.4 373.1,654.6 373.4,654.7 373.8,654.9 374,655 374.3,655 374.5,655.1 374.8,655.1 375.1,655.2 375.3,655.2 375.6,655.3 375.9,655.3 376.2,655.3 376.5,655.3 376.8,655.4 377,655.4 377.4,655.4 377.7,655.4 378,655.4" fill="none" stroke="#ecdad5" stroke-width="1.3" stroke-linejoin="round" stroke-linecap="butt" stroke-opacity="0.6"/>
<path d="M365.7,494.1 365.8,494.7 365.8,500 365.8,505 365.8,509.6 365.8,514 365.9,518.1 365.9,521.9 365.9,525.4 365.9,528.8 365.9,531.8 365.9,534.7 365.9,537.3 365.9,539.8 366,542.1 366,544.3 366,546.3 366,548.2 366,550 366,551.8 366,553.4 366.1,554.9 366.1,556.4 366.1,557.9 366.1,559.3 366.1,560.6 366.1,561.9 366.2,563.2 366.2,564.5 366.2,565.8 366.2,567 366.2,568.3 366.3,569.5 366.3,570.7 366.3,571.9 366.3,573.1 366.3,574.3 366.4,575.5 366.4,576.7 366.4,577.9 366.4,579.1 366.5,580.3 366.5,581.5 366.5,582.7 366.5,583.9 366.5,585 366.6,586.2 366.6,587.4 366.6,588.6 366.7,589.8 366.7,590.9 366.7,592.1 366.7,593.2 366.8,594.4 366.8,595.5 366.8,596.7 366.8,597.8 366.9,598.9 366.9,600.1 366.9,601.2 367,602.3 367,603.4 367,604.5 367.1,605.5 367.1,606.6 367.1,607.7 367.2,608.7 367.2,609.7 367.2,610.8 367.3,611.8 367.3,612.8 367.3,613.8 367.4,614.7 367.4,615.7 367.4,616.7 367.5,617.6 367.5,618.5 367.5,619.5 367.6,620.4 367.6,621.2 367.7,622.1 367.7,623 367.7,623.8 367.8,624.7 367.8,625.5 367.9,626.3 367.9,627.1 367.9,627.9 368,628.6 368,629.4 368.1,630.1 368.1,630.8 368.2,631.5 368.2,632.2 368.2,632.9 368.3,633.6 368.3,634.2 368.4,634.9 368.4,635.5 368.5,636.1 368.5,636.7 368.6,637.3 368.6,637.9 368.7,638.4 368.7,639 368.8,639.5 368.8,640 368.9,640.5 368.9,641 369,641.5 369,642 369.1,642.4 369.1,642.9 369.2,643.3 369.2,643.7 369.3,644.2 369.3,644.6 369.4,644.9 369.4,645.3 369.5,645.7 369.5,646 369.6,646.4 369.7,646.7 369.7,647 369.8,647.4 369.8,647.7 369.9,648 369.9,648.3 370,648.5 370.1,648.8 370.1,649.1 370.2,649.3 370.3,649.8 370.4,650.2 370.6,650.7 370.7,651.1 370.8,651.4 370.9,651.8 371.1,652.1 371.2,652.4 371.3,652.6 371.5,653 371.8,653.3 372,653.6 372.2,653.8 372.5,654.1 372.8,654.4 373.1,654.6 373.4,654.7 373.8,654.9 374,655 374.3,655 374.5,655.1 374.8,655.1 375.1,655.2 375.3,655.2 375.6,655.3 375.9,655.3 376.2,655.3 376.5,655.3 376.8,655.4 377,655.4 377.4,655.4 377.7,655.4 378,655.4" fill="none" stroke="#b89689" stroke-width="0.75" stroke-linejoin="round" stroke-linecap="butt" />
<line x1="377.97" y1="655.39" x2="377.97" y2="494.1" stroke="#ead0c9" stroke-width="1.15"/>
<path d="M378,494.1 378.1,494.7 378.1,500 378.1,504.9 378.1,509.6 378.2,514 378.2,518.1 378.2,521.9 378.2,525.4 378.2,528.7 378.2,531.8 378.2,534.7 378.2,537.3 378.3,539.8 378.3,542.1 378.3,544.3 378.3,546.3 378.3,548.2 378.3,550 378.3,551.7 378.4,553.3 378.4,554.9 378.4,556.4 378.4,557.8 378.4,559.2 378.4,560.6 378.5,561.9 378.5,563.2 378.5,564.5 378.5,565.7 378.5,567 378.6,568.2 378.6,569.4 378.6,570.6 378.6,571.8 378.6,573 378.7,574.2 378.7,575.4 378.7,576.6 378.7,577.8 378.7,579 378.8,580.2 378.8,581.4 378.8,582.6 378.8,583.8 378.9,585 378.9,586.1 378.9,587.3 378.9,588.5 379,589.7 379,590.8 379,592 379,593.1 379.1,594.3 379.1,595.4 379.1,596.6 379.2,597.7 379.2,598.8 379.2,600 379.2,601.1 379.3,602.2 379.3,603.3 379.3,604.3 379.4,605.4 379.4,606.5 379.4,607.5 379.5,608.6 379.5,609.6 379.5,610.6 379.6,611.7 379.6,612.7 379.6,613.6 379.7,614.6 379.7,615.6 379.7,616.5 379.8,617.5 379.8,618.4 379.9,619.3 379.9,620.2 379.9,621.1 380,622 380,622.8 380.1,623.7 380.1,624.5 380.1,625.3 380.2,626.1 380.2,626.9 380.3,627.7 380.3,628.5 380.3,629.2 380.4,630 380.4,630.7 380.5,631.4 380.5,632.1 380.6,632.8 380.6,633.4 380.6,634.1 380.7,634.7 380.7,635.3 380.8,636 380.8,636.6 380.9,637.1 380.9,637.7 381,638.3 381,638.8 381.1,639.3 381.1,639.9 381.2,640.4 381.2,640.9 381.3,641.3 381.3,641.8 381.4,642.3 381.4,642.7 381.5,643.1 381.5,643.6 381.6,644 381.6,644.4 381.7,644.8 381.7,645.1 381.8,645.5 381.9,645.9 381.9,646.2 382,646.5 382,646.9 382.1,647.2 382.1,647.5 382.2,647.8 382.3,648.1 382.3,648.4 382.4,648.6 382.4,648.9 382.5,649.1 382.6,649.6 382.7,650.1 382.9,650.5 383,650.9 383.1,651.2 383.3,651.6 383.4,651.9 383.5,652.2 383.7,652.4 383.9,652.8 384.1,653.1 384.3,653.4 384.5,653.7 384.8,653.9 385.1,654.2 385.4,654.4 385.7,654.5 386.1,654.7 386.3,654.8 386.6,654.8 386.8,654.9 387.1,655 387.4,655 387.6,655 387.9,655.1 388.2,655.1 388.5,655.1 388.8,655.1 389.1,655.2 389.4,655.2 389.7,655.2 390,655.2 390.3,655.2" fill="none" stroke="#ecdad5" stroke-width="1.3" stroke-linejoin="round" stroke-linecap="butt" stroke-opacity="0.6"/>
<path d="M378,494.1 378.1,494.7 378.1,500 378.1,504.9 378.1,509.6 378.2,514 378.2,518.1 378.2,521.9 378.2,525.4 378.2,528.7 378.2,531.8 378.2,534.7 378.2,537.3 378.3,539.8 378.3,542.1 378.3,544.3 378.3,546.3 378.3,548.2 378.3,550 378.3,551.7 378.4,553.3 378.4,554.9 378.4,556.4 378.4,557.8 378.4,559.2 378.4,560.6 378.5,561.9 378.5,563.2 378.5,564.5 378.5,565.7 378.5,567 378.6,568.2 378.6,569.4 378.6,570.6 378.6,571.8 378.6,573 378.7,574.2 378.7,575.4 378.7,576.6 378.7,577.8 378.7,579 378.8,580.2 378.8,581.4 378.8,582.6 378.8,583.8 378.9,585 378.9,586.1 378.9,587.3 378.9,588.5 379,589.7 379,590.8 379,592 379,593.1 379.1,594.3 379.1,595.4 379.1,596.6 379.2,597.7 379.2,598.8 379.2,600 379.2,601.1 379.3,602.2 379.3,603.3 379.3,604.3 379.4,605.4 379.4,606.5 379.4,607.5 379.5,608.6 379.5,609.6 379.5,610.6 379.6,611.7 379.6,612.7 379.6,613.6 379.7,614.6 379.7,615.6 379.7,616.5 379.8,617.5 379.8,618.4 379.9,619.3 379.9,620.2 379.9,621.1 380,622 380,622.8 380.1,623.7 380.1,624.5 380.1,625.3 380.2,626.1 380.2,626.9 380.3,627.7 380.3,628.5 380.3,629.2 380.4,630 380.4,630.7 380.5,631.4 380.5,632.1 380.6,632.8 380.6,633.4 380.6,634.1 380.7,634.7 380.7,635.3 380.8,636 380.8,636.6 380.9,637.1 380.9,637.7 381,638.3 381,638.8 381.1,639.3 381.1,639.9 381.2,640.4 381.2,640.9 381.3,641.3 381.3,641.8 381.4,642.3 381.4,642.7 381.5,643.1 381.5,643.6 381.6,644 381.6,644.4 381.7,644.8 381.7,645.1 381.8,645.5 381.9,645.9 381.9,646.2 382,646.5 382,646.9 382.1,647.2 382.1,647.5 382.2,647.8 382.3,648.1 382.3,648.4 382.4,648.6 382.4,648.9 382.5,649.1 382.6,649.6 382.7,650.1 382.9,650.5 383,650.9 383.1,651.2 383.3,651.6 383.4,651.9 383.5,652.2 383.7,652.4 383.9,652.8 384.1,653.1 384.3,653.4 384.5,653.7 384.8,653.9 385.1,654.2 385.4,654.4 385.7,654.5 386.1,654.7 386.3,654.8 386.6,654.8 386.8,654.9 387.1,655 387.4,655 387.6,655 387.9,655.1 388.2,655.1 388.5,655.1 388.8,655.1 389.1,655.2 389.4,655.2 389.7,655.2 390,655.2 390.3,655.2" fill="none" stroke="#b89689" stroke-width="0.75" stroke-linejoin="round" stroke-linecap="butt" />
<line x1="390.28" y1="655.2" x2="390.28" y2="494.1" stroke="#ead0c9" stroke-width="1.15"/>
<path d="M390.3,494.1 390.4,494.6 390.4,499.9 390.4,504.9 390.5,509.6 390.5,513.9 390.5,518 390.5,521.8 390.5,525.4 390.5,528.7 390.5,531.7 390.5,534.6 390.6,537.3 390.6,539.7 390.6,542 390.6,544.2 390.6,546.2 390.6,548.1 390.6,549.9 390.7,551.6 390.7,553.3 390.7,554.8 390.7,556.3 390.7,557.7 390.7,559.1 390.8,560.5 390.8,561.8 390.8,563.1 390.8,564.4 390.8,565.6 390.8,566.9 390.9,568.1 390.9,569.3 390.9,570.5 390.9,571.7 390.9,572.9 391,574.1 391,575.3 391,576.5 391,577.7 391.1,578.9 391.1,580.1 391.1,581.3 391.1,582.5 391.2,583.6 391.2,584.8 391.2,586 391.2,587.2 391.3,588.4 391.3,589.5 391.3,590.7 391.3,591.8 391.4,593 391.4,594.1 391.4,595.3 391.4,596.4 391.5,597.6 391.5,598.7 391.5,599.8 391.6,600.9 391.6,602 391.6,603.1 391.7,604.2 391.7,605.2 391.7,606.3 391.8,607.4 391.8,608.4 391.8,609.4 391.9,610.5 391.9,611.5 391.9,612.5 392,613.4 392,614.4 392,615.4 392.1,616.3 392.1,617.3 392.1,618.2 392.2,619.1 392.2,620 392.2,620.9 392.3,621.8 392.3,622.6 392.4,623.5 392.4,624.3 392.4,625.1 392.5,625.9 392.5,626.7 392.6,627.5 392.6,628.2 392.7,629 392.7,629.7 392.7,630.4 392.8,631.2 392.8,631.8 392.9,632.5 392.9,633.2 393,633.8 393,634.5 393.1,635.1 393.1,635.7 393.1,636.3 393.2,636.9 393.2,637.5 393.3,638 393.3,638.6 393.4,639.1 393.4,639.6 393.5,640.1 393.5,640.6 393.6,641.1 393.6,641.6 393.7,642 393.7,642.5 393.8,642.9 393.8,643.3 393.9,643.7 394,644.1 394,644.5 394.1,644.9 394.1,645.2 394.2,645.6 394.2,645.9 394.3,646.3 394.3,646.6 394.4,646.9 394.5,647.2 394.5,647.5 394.6,647.8 394.6,648.1 394.7,648.3 394.7,648.6 394.8,648.9 394.9,649.3 395.1,649.8 395.2,650.2 395.3,650.6 395.4,650.9 395.6,651.3 395.7,651.6 395.8,651.9 396,652.2 396.2,652.5 396.4,652.8 396.6,653.1 396.8,653.4 397.1,653.7 397.4,653.9 397.7,654.1 398.1,654.3 398.4,654.4 398.6,654.5 398.9,654.6 399.2,654.6 399.4,654.7 399.7,654.7 400,654.8 400.2,654.8 400.5,654.8 400.8,654.8 401.1,654.9 401.4,654.9 401.7,654.9 402,654.9 402.3,654.9 402.6,654.9" fill="none" stroke="#ecdad5" stroke-width="1.3" stroke-linejoin="round" stroke-linecap="butt" stroke-opacity="0.6"/>
<path d="M390.3,494.1 390.4,494.6 390.4,499.9 390.4,504.9 390.5,509.6 390.5,513.9 390.5,518 390.5,521.8 390.5,525.4 390.5,528.7 390.5,531.7 390.5,534.6 390.6,537.3 390.6,539.7 390.6,542 390.6,544.2 390.6,546.2 390.6,548.1 390.6,549.9 390.7,551.6 390.7,553.3 390.7,554.8 390.7,556.3 390.7,557.7 390.7,559.1 390.8,560.5 390.8,561.8 390.8,563.1 390.8,564.4 390.8,565.6 390.8,566.9 390.9,568.1 390.9,569.3 390.9,570.5 390.9,571.7 390.9,572.9 391,574.1 391,575.3 391,576.5 391,577.7 391.1,578.9 391.1,580.1 391.1,581.3 391.1,582.5 391.2,583.6 391.2,584.8 391.2,586 391.2,587.2 391.3,588.4 391.3,589.5 391.3,590.7 391.3,591.8 391.4,593 391.4,594.1 391.4,595.3 391.4,596.4 391.5,597.6 391.5,598.7 391.5,599.8 391.6,600.9 391.6,602 391.6,603.1 391.7,604.2 391.7,605.2 391.7,606.3 391.8,607.4 391.8,608.4 391.8,609.4 391.9,610.5 391.9,611.5 391.9,612.5 392,613.4 392,614.4 392,615.4 392.1,616.3 392.1,617.3 392.1,618.2 392.2,619.1 392.2,620 392.2,620.9 392.3,621.8 392.3,622.6 392.4,623.5 392.4,624.3 392.4,625.1 392.5,625.9 392.5,626.7 392.6,627.5 392.6,628.2 392.7,629 392.7,629.7 392.7,630.4 392.8,631.2 392.8,631.8 392.9,632.5 392.9,633.2 393,633.8 393,634.5 393.1,635.1 393.1,635.7 393.1,636.3 393.2,636.9 393.2,637.5 393.3,638 393.3,638.6 393.4,639.1 393.4,639.6 393.5,640.1 393.5,640.6 393.6,641.1 393.6,641.6 393.7,642 393.7,642.5 393.8,642.9 393.8,643.3 393.9,643.7 394,644.1 394,644.5 394.1,644.9 394.1,645.2 394.2,645.6 394.2,645.9 394.3,646.3 394.3,646.6 394.4,646.9 394.5,647.2 394.5,647.5 394.6,647.8 394.6,648.1 394.7,648.3 394.7,648.6 394.8,648.9 394.9,649.3 395.1,649.8 395.2,650.2 395.3,650.6 395.4,650.9 395.6,651.3 395.7,651.6 395.8,651.9 396,652.2 396.2,652.5 396.4,652.8 396.6,653.1 396.8,653.4 397.1,653.7 397.4,653.9 397.7,654.1 398.1,654.3 398.4,654.4 398.6,654.5 398.9,654.6 399.2,654.6 399.4,654.7 399.7,654.7 400,654.8 400.2,654.8 400.5,654.8 400.8,654.8 401.1,654.9 401.4,654.9 401.7,654.9 402,654.9 402.3,654.9 402.6,654.9" fill="none" stroke="#b89689" stroke-width="0.75" stroke-linejoin="round" stroke-linecap="butt" />
<line x1="402.59" y1="654.91" x2="402.59" y2="552.55" stroke="#ead0c9" stroke-width="1.15"/>
<path d="M402.6,552.6 402.6,552.8 402.6,553.2 402.6,553.5 402.6,553.8 402.6,554.3 402.6,554.8 402.6,555.1 402.6,555.4 402.6,555.7 402.6,556 402.7,556.4 402.7,556.7 402.7,557.1 402.7,557.5 402.7,557.9 402.7,558.3 402.7,558.8 402.7,559.2 402.7,559.7 402.7,560.2 402.7,560.7 402.7,561.2 402.7,561.8 402.8,562.3 402.8,562.9 402.8,563.4 402.8,564 402.8,564.6 402.8,565.3 402.8,565.9 402.8,566.5 402.8,567.2 402.9,567.8 402.9,568.5 402.9,569.2 402.9,569.9 402.9,570.6 402.9,571.3 402.9,572 403,572.7 403,573.5 403,574.2 403,574.9 403,575.7 403,576.5 403,577.2 403.1,578 403.1,578.8 403.1,579.5 403.1,580.3 403.1,581.1 403.2,581.9 403.2,582.7 403.2,583.5 403.2,584.3 403.2,585.1 403.3,585.9 403.3,586.7 403.3,587.5 403.3,588.3 403.3,589.1 403.4,589.9 403.4,590.7 403.4,591.4 403.4,592.2 403.5,593 403.5,593.8 403.5,594.6 403.5,595.4 403.6,596.2 403.6,596.9 403.6,597.7 403.6,598.5 403.7,599.2 403.7,600 403.7,600.7 403.8,601.5 403.8,602.2 403.8,603 403.8,603.7 403.9,604.4 403.9,605.1 403.9,605.9 404,606.6 404,607.3 404,608 404.1,608.6 404.1,609.3 404.1,610 404.2,610.7 404.2,611.3 404.2,612 404.3,612.6 404.3,613.3 404.3,613.9 404.4,614.6 404.4,615.2 404.4,615.8 404.5,616.4 404.5,617 404.6,617.6 404.6,618.2 404.6,618.8 404.7,619.3 404.7,619.9 404.8,620.5 404.8,621 404.8,621.6 404.9,622.1 404.9,622.7 405,623.2 405,623.7 405.1,624.2 405.1,624.7 405.1,625.2 405.2,625.7 405.2,626.2 405.3,626.7 405.3,627.2 405.4,627.6 405.4,628.1 405.5,628.6 405.5,629 405.6,629.5 405.6,629.9 405.6,630.3 405.7,630.8 405.7,631.2 405.8,631.6 405.8,632 405.9,632.4 405.9,632.8 406,633.2 406.1,633.6 406.1,634 406.2,634.4 406.2,634.8 406.3,635.1 406.3,635.5 406.4,635.9 406.4,636.2 406.5,636.6 406.5,636.9 406.6,637.3 406.7,637.6 406.7,637.9 406.8,638.3 406.8,638.6 406.9,638.9 406.9,639.2 407,639.5 407.1,639.8 407.1,640.1 407.2,640.4 407.2,640.7 407.3,641 407.4,641.3 407.4,641.6 407.5,641.8 407.6,642.1 407.6,642.4 407.7,642.6 407.7,642.9 407.8,643.2 407.9,643.4 408,643.9 408.1,644.4 408.3,644.8 408.4,645.3 408.6,645.7 408.7,646.1 408.8,646.5 409,646.9 409.1,647.3 409.3,647.7 409.4,648 409.6,648.4 409.7,648.7 409.9,649 410.1,649.3 410.2,649.6 410.4,649.9 410.5,650.1 410.7,650.4 411,650.8 411.2,651.1 411.5,651.4 411.7,651.7 412,652 412.3,652.3 412.5,652.5 412.8,652.8 413.1,653 413.4,653.2 413.7,653.3 414,653.5 414.3,653.7 414.6,653.8 414.9,653.9" fill="none" stroke="#dcc4bc" stroke-width="1.5" stroke-linejoin="round" stroke-linecap="butt" stroke-opacity="0.6"/>
<path d="M402.6,552.6 402.6,552.8 402.6,553.2 402.6,553.5 402.6,553.8 402.6,554.3 402.6,554.8 402.6,555.1 402.6,555.4 402.6,555.7 402.6,556 402.7,556.4 402.7,556.7 402.7,557.1 402.7,557.5 402.7,557.9 402.7,558.3 402.7,558.8 402.7,559.2 402.7,559.7 402.7,560.2 402.7,560.7 402.7,561.2 402.7,561.8 402.8,562.3 402.8,562.9 402.8,563.4 402.8,564 402.8,564.6 402.8,565.3 402.8,565.9 402.8,566.5 402.8,567.2 402.9,567.8 402.9,568.5 402.9,569.2 402.9,569.9 402.9,570.6 402.9,571.3 402.9,572 403,572.7 403,573.5 403,574.2 403,574.9 403,575.7 403,576.5 403,577.2 403.1,578 403.1,578.8 403.1,579.5 403.1,580.3 403.1,581.1 403.2,581.9 403.2,582.7 403.2,583.5 403.2,584.3 403.2,585.1 403.3,585.9 403.3,586.7 403.3,587.5 403.3,588.3 403.3,589.1 403.4,589.9 403.4,590.7 403.4,591.4 403.4,592.2 403.5,593 403.5,593.8 403.5,594.6 403.5,595.4 403.6,596.2 403.6,596.9 403.6,597.7 403.6,598.5 403.7,599.2 403.7,600 403.7,600.7 403.8,601.5 403.8,602.2 403.8,603 403.8,603.7 403.9,604.4 403.9,605.1 403.9,605.9 404,606.6 404,607.3 404,608 404.1,608.6 404.1,609.3 404.1,610 404.2,610.7 404.2,611.3 404.2,612 404.3,612.6 404.3,613.3 404.3,613.9 404.4,614.6 404.4,615.2 404.4,615.8 404.5,616.4 404.5,617 404.6,617.6 404.6,618.2 404.6,618.8 404.7,619.3 404.7,619.9 404.8,620.5 404.8,621 404.8,621.6 404.9,622.1 404.9,622.7 405,623.2 405,623.7 405.1,624.2 405.1,624.7 405.1,625.2 405.2,625.7 405.2,626.2 405.3,626.7 405.3,627.2 405.4,627.6 405.4,628.1 405.5,628.6 405.5,629 405.6,629.5 405.6,629.9 405.6,630.3 405.7,630.8 405.7,631.2 405.8,631.6 405.8,632 405.9,632.4 405.9,632.8 406,633.2 406.1,633.6 406.1,634 406.2,634.4 406.2,634.8 406.3,635.1 406.3,635.5 406.4,635.9 406.4,636.2 406.5,636.6 406.5,636.9 406.6,637.3 406.7,637.6 406.7,637.9 406.8,638.3 406.8,638.6 406.9,638.9 406.9,639.2 407,639.5 407.1,639.8 407.1,640.1 407.2,640.4 407.2,640.7 407.3,641 407.4,641.3 407.4,641.6 407.5,641.8 407.6,642.1 407.6,642.4 407.7,642.6 407.7,642.9 407.8,643.2 407.9,643.4 408,643.9 408.1,644.4 408.3,644.8 408.4,645.3 408.6,645.7 408.7,646.1 408.8,646.5 409,646.9 409.1,647.3 409.3,647.7 409.4,648 409.6,648.4 409.7,648.7 409.9,649 410.1,649.3 410.2,649.6 410.4,649.9 410.5,650.1 410.7,650.4 411,650.8 411.2,651.1 411.5,651.4 411.7,651.7 412,652 412.3,652.3 412.5,652.5 412.8,652.8 413.1,653 413.4,653.2 413.7,653.3 414,653.5 414.3,653.7 414.6,653.8 414.9,653.9" fill="none" stroke="#a27e6e" stroke-width="0.85" stroke-linejoin="round" stroke-linecap="butt" />
<line x1="414.91" y1="653.95" x2="414.91" y2="580.19" stroke="#ead0c9" stroke-width="1.15"/>
<path d="M414.9,580.2 414.9,580.5 414.9,580.7 414.9,581.1 414.9,581.4 414.9,581.8 415,582.2 415,582.7 415,583.2 415,583.5 415,583.8 415,584.1 415,584.4 415,584.7 415,585 415,585.4 415,585.7 415,586.1 415,586.5 415.1,586.8 415.1,587.2 415.1,587.6 415.1,588.1 415.1,588.5 415.1,588.9 415.1,589.4 415.1,589.8 415.1,590.3 415.2,590.7 415.2,591.2 415.2,591.7 415.2,592.2 415.2,592.7 415.2,593.2 415.2,593.7 415.2,594.2 415.3,594.8 415.3,595.3 415.3,595.8 415.3,596.4 415.3,596.9 415.3,597.5 415.4,598 415.4,598.6 415.4,599.1 415.4,599.7 415.4,600.3 415.5,600.8 415.5,601.4 415.5,602 415.5,602.5 415.5,603.1 415.6,603.7 415.6,604.3 415.6,604.8 415.6,605.4 415.6,606 415.7,606.6 415.7,607.1 415.7,607.7 415.7,608.3 415.8,608.9 415.8,609.4 415.8,610 415.8,610.6 415.9,611.1 415.9,611.7 415.9,612.3 415.9,612.8 416,613.4 416,613.9 416,614.5 416,615 416.1,615.5 416.1,616.1 416.1,616.6 416.2,617.1 416.2,617.7 416.2,618.2 416.3,618.7 416.3,619.2 416.3,619.7 416.3,620.2 416.4,620.7 416.4,621.2 416.4,621.7 416.5,622.2 416.5,622.7 416.5,623.1 416.6,623.6 416.6,624.1 416.7,624.5 416.7,625 416.7,625.4 416.8,625.9 416.8,626.3 416.8,626.8 416.9,627.2 416.9,627.6 417,628 417,628.5 417,628.9 417.1,629.3 417.1,629.7 417.2,630.1 417.2,630.5 417.2,630.8 417.3,631.2 417.3,631.6 417.4,632 417.4,632.3 417.5,632.7 417.5,633.1 417.5,633.4 417.6,633.8 417.6,634.1 417.7,634.5 417.7,634.8 417.8,635.1 417.8,635.4 417.9,635.8 417.9,636.1 418,636.4 418,636.7 418.1,637 418.1,637.3 418.2,637.6 418.2,637.9 418.3,638.2 418.3,638.5 418.4,638.8 418.4,639.1 418.5,639.3 418.5,639.6 418.6,639.9 418.6,640.1 418.7,640.4 418.7,640.7 418.8,640.9 418.9,641.2 419,641.6 419.1,642.1 419.2,642.6 419.3,643 419.4,643.5 419.6,643.9 419.7,644.3 419.8,644.7 419.9,645.1 420.1,645.5 420.2,645.9 420.3,646.2 420.5,646.6 420.6,646.9 420.7,647.2 420.9,647.5 421,647.8 421.2,648.1 421.3,648.4 421.4,648.7 421.6,648.9 421.7,649.2 422,649.5 422.2,649.9 422.4,650.2 422.7,650.5 422.9,650.8 423.2,651.1 423.4,651.3 423.7,651.6 424,651.8 424.2,652 424.5,652.2 424.8,652.4 425,652.6 425.3,652.7 425.6,652.9 425.9,653 426.2,653.1 426.5,653.2 426.8,653.3 427.1,653.4 427.2,653.5" fill="none" stroke="#dcc4bc" stroke-width="1.5" stroke-linejoin="round" stroke-linecap="butt" stroke-opacity="0.6"/>
<path d="M414.9,580.2 414.9,580.5 414.9,580.7 414.9,581.1 414.9,581.4 414.9,581.8 415,582.2 415,582.7 415,583.2 415,583.5 415,583.8 415,584.1 415,584.4 415,584.7 415,585 415,585.4 415,585.7 415,586.1 415,586.5 415.1,586.8 415.1,587.2 415.1,587.6 415.1,588.1 415.1,588.5 415.1,588.9 415.1,589.4 415.1,589.8 415.1,590.3 415.2,590.7 415.2,591.2 415.2,591.7 415.2,592.2 415.2,592.7 415.2,593.2 415.2,593.7 415.2,594.2 415.3,594.8 415.3,595.3 415.3,595.8 415.3,596.4 415.3,596.9 415.3,597.5 415.4,598 415.4,598.6 415.4,599.1 415.4,599.7 415.4,600.3 415.5,600.8 415.5,601.4 415.5,602 415.5,602.5 415.5,603.1 415.6,603.7 415.6,604.3 415.6,604.8 415.6,605.4 415.6,606 415.7,606.6 415.7,607.1 415.7,607.7 415.7,608.3 415.8,608.9 415.8,609.4 415.8,610 415.8,610.6 415.9,611.1 415.9,611.7 415.9,612.3 415.9,612.8 416,613.4 416,613.9 416,614.5 416,615 416.1,615.5 416.1,616.1 416.1,616.6 416.2,617.1 416.2,617.7 416.2,618.2 416.3,618.7 416.3,619.2 416.3,619.7 416.3,620.2 416.4,620.7 416.4,621.2 416.4,621.7 416.5,622.2 416.5,622.7 416.5,623.1 416.6,623.6 416.6,624.1 416.7,624.5 416.7,625 416.7,625.4 416.8,625.9 416.8,626.3 416.8,626.8 416.9,627.2 416.9,627.6 417,628 417,628.5 417,628.9 417.1,629.3 417.1,629.7 417.2,630.1 417.2,630.5 417.2,630.8 417.3,631.2 417.3,631.6 417.4,632 417.4,632.3 417.5,632.7 417.5,633.1 417.5,633.4 417.6,633.8 417.6,634.1 417.7,634.5 417.7,634.8 417.8,635.1 417.8,635.4 417.9,635.8 417.9,636.1 418,636.4 418,636.7 418.1,637 418.1,637.3 418.2,637.6 418.2,637.9 418.3,638.2 418.3,638.5 418.4,638.8 418.4,639.1 418.5,639.3 418.5,639.6 418.6,639.9 418.6,640.1 418.7,640.4 418.7,640.7 418.8,640.9 418.9,641.2 419,641.6 419.1,642.1 419.2,642.6 419.3,643 419.4,643.5 419.6,643.9 419.7,644.3 419.8,644.7 419.9,645.1 420.1,645.5 420.2,645.9 420.3,646.2 420.5,646.6 420.6,646.9 420.7,647.2 420.9,647.5 421,647.8 421.2,648.1 421.3,648.4 421.4,648.7 421.6,648.9 421.7,649.2 422,649.5 422.2,649.9 422.4,650.2 422.7,650.5 422.9,650.8 423.2,651.1 423.4,651.3 423.7,651.6 424,651.8 424.2,652 424.5,652.2 424.8,652.4 425,652.6 425.3,652.7 425.6,652.9 425.9,653 426.2,653.1 426.5,653.2 426.8,653.3 427.1,653.4 427.2,653.5" fill="none" stroke="#a27e6e" stroke-width="0.85" stroke-linejoin="round" stroke-linecap="butt" />
<line x1="427.22" y1="653.47" x2="427.22" y2="593.57" stroke="#ead0c9" stroke-width="1.15"/>
<path d="M427.2,593.6 427.2,593.9 427.2,594.1 427.2,594.5 427.3,594.7 427.3,595 427.3,595.4 427.3,595.8 427.3,596.2 427.3,596.7 427.3,597 427.3,597.2 427.3,597.5 427.3,597.8 427.3,598.1 427.4,598.3 427.4,598.7 427.4,599 427.4,599.3 427.4,599.6 427.4,600 427.4,600.3 427.4,600.7 427.4,601 427.4,601.4 427.5,601.8 427.5,602.1 427.5,602.5 427.5,602.9 427.5,603.3 427.5,603.7 427.5,604.1 427.5,604.5 427.6,605 427.6,605.4 427.6,605.8 427.6,606.3 427.6,606.7 427.6,607.1 427.7,607.6 427.7,608 427.7,608.5 427.7,608.9 427.7,609.4 427.7,609.8 427.8,610.3 427.8,610.8 427.8,611.2 427.8,611.7 427.8,612.2 427.9,612.6 427.9,613.1 427.9,613.6 427.9,614 428,614.5 428,615 428,615.4 428,615.9 428,616.4 428.1,616.8 428.1,617.3 428.1,617.7 428.1,618.2 428.2,618.7 428.2,619.1 428.2,619.6 428.2,620 428.3,620.5 428.3,620.9 428.3,621.4 428.4,621.8 428.4,622.2 428.4,622.7 428.4,623.1 428.5,623.5 428.5,624 428.5,624.4 428.6,624.8 428.6,625.2 428.6,625.6 428.7,626 428.7,626.4 428.7,626.8 428.8,627.2 428.8,627.6 428.8,628 428.9,628.4 428.9,628.8 428.9,629.2 429,629.5 429,629.9 429,630.3 429.1,630.6 429.1,631 429.2,631.3 429.2,631.7 429.2,632 429.3,632.4 429.3,632.7 429.3,633 429.4,633.4 429.4,633.7 429.5,634 429.5,634.3 429.6,634.6 429.6,635 429.6,635.3 429.7,635.6 429.7,635.9 429.8,636.2 429.8,636.4 429.9,636.7 429.9,637 429.9,637.3 430,637.6 430,637.8 430.1,638.1 430.1,638.4 430.2,638.6 430.2,638.9 430.3,639.2 430.3,639.4 430.4,639.9 430.5,640.4 430.6,640.8 430.7,641.3 430.8,641.7 430.9,642.2 431.1,642.6 431.2,643 431.3,643.4 431.4,643.8 431.5,644.2 431.6,644.5 431.7,644.9 431.9,645.2 432,645.6 432.1,645.9 432.2,646.2 432.4,646.5 432.5,646.8 432.6,647.1 432.8,647.4 432.9,647.6 433,647.9 433.2,648.2 433.4,648.5 433.6,648.9 433.8,649.2 434.1,649.5 434.3,649.8 434.5,650.1 434.8,650.3 435.1,650.7 435.4,651 435.7,651.2 435.9,651.4 436.2,651.6 436.4,651.7 436.7,651.9 437,652.1 437.3,652.2 437.5,652.3 437.8,652.5 438.1,652.6 438.4,652.7 438.7,652.8 439,652.9 439.3,652.9 439.5,653" fill="none" stroke="#dcc4bc" stroke-width="1.5" stroke-linejoin="round" stroke-linecap="butt" stroke-opacity="0.6"/>
<path d="M427.2,593.6 427.2,593.9 427.2,594.1 427.2,594.5 427.3,594.7 427.3,595 427.3,595.4 427.3,595.8 427.3,596.2 427.3,596.7 427.3,597 427.3,597.2 427.3,597.5 427.3,597.8 427.3,598.1 427.4,598.3 427.4,598.7 427.4,599 427.4,599.3 427.4,599.6 427.4,600 427.4,600.3 427.4,600.7 427.4,601 427.4,601.4 427.5,601.8 427.5,602.1 427.5,602.5 427.5,602.9 427.5,603.3 427.5,603.7 427.5,604.1 427.5,604.5 427.6,605 427.6,605.4 427.6,605.8 427.6,606.3 427.6,606.7 427.6,607.1 427.7,607.6 427.7,608 427.7,608.5 427.7,608.9 427.7,609.4 427.7,609.8 427.8,610.3 427.8,610.8 427.8,611.2 427.8,611.7 427.8,612.2 427.9,612.6 427.9,613.1 427.9,613.6 427.9,614 428,614.5 428,615 428,615.4 428,615.9 428,616.4 428.1,616.8 428.1,617.3 428.1,617.7 428.1,618.2 428.2,618.7 428.2,619.1 428.2,619.6 428.2,620 428.3,620.5 428.3,620.9 428.3,621.4 428.4,621.8 428.4,622.2 428.4,622.7 428.4,623.1 428.5,623.5 428.5,624 428.5,624.4 428.6,624.8 428.6,625.2 428.6,625.6 428.7,626 428.7,626.4 428.7,626.8 428.8,627.2 428.8,627.6 428.8,628 428.9,628.4 428.9,628.8 428.9,629.2 429,629.5 429,629.9 429,630.3 429.1,630.6 429.1,631 429.2,631.3 429.2,631.7 429.2,632 429.3,632.4 429.3,632.7 429.3,633 429.4,633.4 429.4,633.7 429.5,634 429.5,634.3 429.6,634.6 429.6,635 429.6,635.3 429.7,635.6 429.7,635.9 429.8,636.2 429.8,636.4 429.9,636.7 429.9,637 429.9,637.3 430,637.6 430,637.8 430.1,638.1 430.1,638.4 430.2,638.6 430.2,638.9 430.3,639.2 430.3,639.4 430.4,639.9 430.5,640.4 430.6,640.8 430.7,641.3 430.8,641.7 430.9,642.2 431.1,642.6 431.2,643 431.3,643.4 431.4,643.8 431.5,644.2 431.6,644.5 431.7,644.9 431.9,645.2 432,645.6 432.1,645.9 432.2,646.2 432.4,646.5 432.5,646.8 432.6,647.1 432.8,647.4 432.9,647.6 433,647.9 433.2,648.2 433.4,648.5 433.6,648.9 433.8,649.2 434.1,649.5 434.3,649.8 434.5,650.1 434.8,650.3 435.1,650.7 435.4,651 435.7,651.2 435.9,651.4 436.2,651.6 436.4,651.7 436.7,651.9 437,652.1 437.3,652.2 437.5,652.3 437.8,652.5 438.1,652.6 438.4,652.7 438.7,652.8 439,652.9 439.3,652.9 439.5,653" fill="none" stroke="#a27e6e" stroke-width="0.85" stroke-linejoin="round" stroke-linecap="butt" />
<line x1="439.53" y1="652.99" x2="439.53" y2="603.88" stroke="#ead0c9" stroke-width="1.15"/>
<path d="M439.5,603.9 439.5,604.2 439.6,604.5 439.6,604.8 439.6,605.1 439.6,605.4 439.6,605.7 439.6,606.1 439.6,606.4 439.6,606.9 439.6,607.3 439.7,607.8 439.7,608.3 439.7,608.6 439.7,608.8 439.7,609.1 439.7,609.4 439.7,609.7 439.7,610 439.8,610.3 439.8,610.6 439.8,610.9 439.8,611.2 439.8,611.5 439.8,611.9 439.8,612.2 439.8,612.5 439.9,612.9 439.9,613.2 439.9,613.5 439.9,613.9 439.9,614.3 439.9,614.6 440,615 440,615.3 440,615.7 440,616.1 440,616.4 440,616.8 440.1,617.2 440.1,617.6 440.1,618 440.1,618.3 440.1,618.7 440.2,619.1 440.2,619.5 440.2,619.9 440.2,620.2 440.2,620.6 440.3,621 440.3,621.4 440.3,621.8 440.3,622.1 440.4,622.5 440.4,622.9 440.4,623.3 440.4,623.7 440.5,624 440.5,624.4 440.5,624.8 440.5,625.2 440.6,625.5 440.6,625.9 440.6,626.3 440.6,626.6 440.7,627 440.7,627.3 440.7,627.7 440.8,628.1 440.8,628.4 440.8,628.7 440.8,629.1 440.9,629.4 440.9,629.8 440.9,630.1 441,630.4 441,630.8 441,631.1 441.1,631.4 441.1,631.8 441.1,632.1 441.2,632.4 441.2,632.7 441.2,633 441.3,633.3 441.3,633.6 441.4,633.9 441.4,634.2 441.4,634.5 441.5,634.8 441.5,635.1 441.5,635.4 441.6,635.6 441.6,635.9 441.7,636.2 441.7,636.5 441.7,636.7 441.8,637 441.8,637.2 441.9,637.5 441.9,637.7 441.9,638 442,638.5 442.1,639 442.2,639.4 442.3,639.9 442.4,640.3 442.5,640.8 442.6,641.2 442.7,641.6 442.8,642 442.9,642.4 443,642.8 443.1,643.1 443.2,643.5 443.3,643.8 443.4,644.2 443.5,644.5 443.7,644.8 443.8,645.1 443.9,645.4 444,645.7 444.1,646 444.2,646.3 444.4,646.6 444.5,646.8 444.6,647.1 444.8,647.5 445,647.8 445.2,648.1 445.4,648.5 445.6,648.8 445.9,649 446.1,649.3 446.3,649.6 446.6,649.9 446.9,650.2 447.2,650.5 447.6,650.7 447.9,651 448.1,651.1 448.4,651.3 448.7,651.4 448.9,651.6 449.2,651.7 449.5,651.8 449.8,651.9 450,652 450.3,652.1 450.6,652.2 450.9,652.3 451.2,652.4 451.5,652.4 451.8,652.5" fill="none" stroke="#dcc4bc" stroke-width="1.5" stroke-linejoin="round" stroke-linecap="butt" stroke-opacity="0.6"/>
<path d="M439.5,603.9 439.5,604.2 439.6,604.5 439.6,604.8 439.6,605.1 439.6,605.4 439.6,605.7 439.6,606.1 439.6,606.4 439.6,606.9 439.6,607.3 439.7,607.8 439.7,608.3 439.7,608.6 439.7,608.8 439.7,609.1 439.7,609.4 439.7,609.7 439.7,610 439.8,610.3 439.8,610.6 439.8,610.9 439.8,611.2 439.8,611.5 439.8,611.9 439.8,612.2 439.8,612.5 439.9,612.9 439.9,613.2 439.9,613.5 439.9,613.9 439.9,614.3 439.9,614.6 440,615 440,615.3 440,615.7 440,616.1 440,616.4 440,616.8 440.1,617.2 440.1,617.6 440.1,618 440.1,618.3 440.1,618.7 440.2,619.1 440.2,619.5 440.2,619.9 440.2,620.2 440.2,620.6 440.3,621 440.3,621.4 440.3,621.8 440.3,622.1 440.4,622.5 440.4,622.9 440.4,623.3 440.4,623.7 440.5,624 440.5,624.4 440.5,624.8 440.5,625.2 440.6,625.5 440.6,625.9 440.6,626.3 440.6,626.6 440.7,627 440.7,627.3 440.7,627.7 440.8,628.1 440.8,628.4 440.8,628.7 440.8,629.1 440.9,629.4 440.9,629.8 440.9,630.1 441,630.4 441,630.8 441,631.1 441.1,631.4 441.1,631.8 441.1,632.1 441.2,632.4 441.2,632.7 441.2,633 441.3,633.3 441.3,633.6 441.4,633.9 441.4,634.2 441.4,634.5 441.5,634.8 441.5,635.1 441.5,635.4 441.6,635.6 441.6,635.9 441.7,636.2 441.7,636.5 441.7,636.7 441.8,637 441.8,637.2 441.9,637.5 441.9,637.7 441.9,638 442,638.5 442.1,639 442.2,639.4 442.3,639.9 442.4,640.3 442.5,640.8 442.6,641.2 442.7,641.6 442.8,642 442.9,642.4 443,642.8 443.1,643.1 443.2,643.5 443.3,643.8 443.4,644.2 443.5,644.5 443.7,644.8 443.8,645.1 443.9,645.4 444,645.7 444.1,646 444.2,646.3 444.4,646.6 444.5,646.8 444.6,647.1 444.8,647.5 445,647.8 445.2,648.1 445.4,648.5 445.6,648.8 445.9,649 446.1,649.3 446.3,649.6 446.6,649.9 446.9,650.2 447.2,650.5 447.6,650.7 447.9,651 448.1,651.1 448.4,651.3 448.7,651.4 448.9,651.6 449.2,651.7 449.5,651.8 449.8,651.9 450,652 450.3,652.1 450.6,652.2 450.9,652.3 451.2,652.4 451.5,652.4 451.8,652.5" fill="none" stroke="#a27e6e" stroke-width="0.85" stroke-linejoin="round" stroke-linecap="butt" />
<line x1="451.85" y1="652.5" x2="451.85" y2="611.1" stroke="#ead0c9" stroke-width="1.15"/>
<path d="M451.8,611.1 451.9,611.3 451.9,611.6 451.9,611.9 451.9,612.2 451.9,612.5 451.9,612.8 451.9,613.1 451.9,613.4 452,613.8 452,614.2 452,614.6 452,615 452,615.5 452,616 452.1,616.5 452.1,616.7 452.1,617 452.1,617.3 452.1,617.5 452.1,617.8 452.1,618.1 452.2,618.4 452.2,618.7 452.2,618.9 452.2,619.2 452.2,619.5 452.2,619.8 452.3,620.1 452.3,620.4 452.3,620.7 452.3,621.1 452.3,621.4 452.3,621.7 452.4,622 452.4,622.3 452.4,622.6 452.4,622.9 452.4,623.3 452.5,623.6 452.5,623.9 452.5,624.2 452.5,624.5 452.5,624.9 452.6,625.2 452.6,625.5 452.6,625.8 452.6,626.2 452.6,626.5 452.7,626.8 452.7,627.1 452.7,627.4 452.7,627.8 452.8,628.1 452.8,628.4 452.8,628.7 452.8,629 452.9,629.3 452.9,629.6 452.9,629.9 453,630.2 453,630.5 453,630.8 453,631.1 453.1,631.4 453.1,631.7 453.1,632 453.2,632.3 453.2,632.6 453.2,632.9 453.3,633.2 453.3,633.5 453.3,633.7 453.4,634 453.4,634.3 453.4,634.6 453.5,634.8 453.5,635.1 453.5,635.4 453.6,635.6 453.6,635.9 453.6,636.1 453.7,636.4 453.7,636.9 453.8,637.4 453.9,637.8 454,638.3 454.1,638.7 454.1,639.2 454.2,639.6 454.3,640 454.4,640.4 454.5,640.8 454.6,641.2 454.7,641.6 454.8,642 454.9,642.3 455,642.7 455.1,643 455.2,643.3 455.3,643.7 455.4,644 455.5,644.3 455.6,644.6 455.7,644.9 455.8,645.1 455.9,645.4 456,645.7 456.1,645.9 456.3,646.2 456.4,646.6 456.6,646.9 456.8,647.2 457,647.6 457.2,647.9 457.4,648.2 457.6,648.4 457.8,648.7 458,649 458.3,649.3 458.6,649.6 458.9,649.8 459.2,650.1 459.5,650.3 459.9,650.5 460.2,650.7 460.5,650.9 460.7,651 461,651.1 461.2,651.2 461.5,651.4 461.8,651.4 462.1,651.5 462.4,651.6 462.7,651.7 462.9,651.8 463.2,651.8 463.5,651.9 463.9,652 464.2,652" fill="none" stroke="#dcc4bc" stroke-width="1.5" stroke-linejoin="round" stroke-linecap="butt" stroke-opacity="0.6"/>
<path d="M451.8,611.1 451.9,611.3 451.9,611.6 451.9,611.9 451.9,612.2 451.9,612.5 451.9,612.8 451.9,613.1 451.9,613.4 452,613.8 452,614.2 452,614.6 452,615 452,615.5 452,616 452.1,616.5 452.1,616.7 452.1,617 452.1,617.3 452.1,617.5 452.1,617.8 452.1,618.1 452.2,618.4 452.2,618.7 452.2,618.9 452.2,619.2 452.2,619.5 452.2,619.8 452.3,620.1 452.3,620.4 452.3,620.7 452.3,621.1 452.3,621.4 452.3,621.7 452.4,622 452.4,622.3 452.4,622.6 452.4,622.9 452.4,623.3 452.5,623.6 452.5,623.9 452.5,624.2 452.5,624.5 452.5,624.9 452.6,625.2 452.6,625.5 452.6,625.8 452.6,626.2 452.6,626.5 452.7,626.8 452.7,627.1 452.7,627.4 452.7,627.8 452.8,628.1 452.8,628.4 452.8,628.7 452.8,629 452.9,629.3 452.9,629.6 452.9,629.9 453,630.2 453,630.5 453,630.8 453,631.1 453.1,631.4 453.1,631.7 453.1,632 453.2,632.3 453.2,632.6 453.2,632.9 453.3,633.2 453.3,633.5 453.3,633.7 453.4,634 453.4,634.3 453.4,634.6 453.5,634.8 453.5,635.1 453.5,635.4 453.6,635.6 453.6,635.9 453.6,636.1 453.7,636.4 453.7,636.9 453.8,637.4 453.9,637.8 454,638.3 454.1,638.7 454.1,639.2 454.2,639.6 454.3,640 454.4,640.4 454.5,640.8 454.6,641.2 454.7,641.6 454.8,642 454.9,642.3 455,642.7 455.1,643 455.2,643.3 455.3,643.7 455.4,644 455.5,644.3 455.6,644.6 455.7,644.9 455.8,645.1 455.9,645.4 456,645.7 456.1,645.9 456.3,646.2 456.4,646.6 456.6,646.9 456.8,647.2 457,647.6 457.2,647.9 457.4,648.2 457.6,648.4 457.8,648.7 458,649 458.3,649.3 458.6,649.6 458.9,649.8 459.2,650.1 459.5,650.3 459.9,650.5 460.2,650.7 460.5,650.9 460.7,651 461,651.1 461.2,651.2 461.5,651.4 461.8,651.4 462.1,651.5 462.4,651.6 462.7,651.7 462.9,651.8 463.2,651.8 463.5,651.9 463.9,652 464.2,652" fill="none" stroke="#a27e6e" stroke-width="0.85" stroke-linejoin="round" stroke-linecap="butt" />
<line x1="464.16" y1="652.02" x2="464.16" y2="616.97" stroke="#ead0c9" stroke-width="1.15"/>
<path d="M464.2,617 464.2,617.2 464.2,617.5 464.2,617.8 464.2,618.1 464.2,618.5 464.2,618.8 464.3,619.1 464.3,619.4 464.3,619.8 464.3,620.1 464.3,620.5 464.4,620.9 464.4,621.3 464.4,621.7 464.4,622.2 464.4,622.6 464.5,623.1 464.5,623.6 464.5,624.1 464.5,624.4 464.6,624.6 464.6,624.9 464.6,625.1 464.6,625.4 464.6,625.6 464.6,625.9 464.7,626.2 464.7,626.4 464.7,626.7 464.7,627 464.7,627.2 464.8,627.5 464.8,627.8 464.8,628.1 464.8,628.3 464.8,628.6 464.9,628.9 464.9,629.1 464.9,629.4 464.9,629.7 465,630 465,630.2 465,630.5 465,630.8 465.1,631 465.1,631.3 465.1,631.6 465.1,631.8 465.2,632.1 465.2,632.4 465.2,632.6 465.2,632.9 465.3,633.1 465.3,633.4 465.3,633.7 465.4,633.9 465.4,634.2 465.4,634.7 465.5,635.1 465.6,635.6 465.6,636.1 465.7,636.6 465.8,637 465.8,637.5 465.9,637.9 466,638.3 466.1,638.7 466.1,639.1 466.2,639.5 466.3,639.9 466.4,640.3 466.4,640.7 466.5,641.1 466.6,641.4 466.7,641.7 466.8,642.1 466.9,642.4 467,642.7 467.1,643 467.2,643.3 467.3,643.6 467.4,643.9 467.5,644.2 467.6,644.5 467.7,644.7 467.8,645 467.9,645.3 468.1,645.6 468.2,646 468.4,646.3 468.6,646.6 468.7,646.9 468.9,647.2 469.1,647.5 469.3,647.8 469.5,648 469.8,648.4 470.1,648.7 470.3,648.9 470.6,649.2 470.9,649.5 471.2,649.7 471.5,649.9 471.9,650.1 472.2,650.3 472.5,650.5 472.8,650.6 473,650.7 473.3,650.8 473.6,650.9 473.8,651 474.1,651.1 474.4,651.1 474.7,651.2 475,651.3 475.3,651.3 475.6,651.4 475.9,651.4 476.2,651.5 476.5,651.5" fill="none" stroke="#dcc4bc" stroke-width="1.5" stroke-linejoin="round" stroke-linecap="butt" stroke-opacity="0.6"/>
<path d="M464.2,617 464.2,617.2 464.2,617.5 464.2,617.8 464.2,618.1 464.2,618.5 464.2,618.8 464.3,619.1 464.3,619.4 464.3,619.8 464.3,620.1 464.3,620.5 464.4,620.9 464.4,621.3 464.4,621.7 464.4,622.2 464.4,622.6 464.5,623.1 464.5,623.6 464.5,624.1 464.5,624.4 464.6,624.6 464.6,624.9 464.6,625.1 464.6,625.4 464.6,625.6 464.6,625.9 464.7,626.2 464.7,626.4 464.7,626.7 464.7,627 464.7,627.2 464.8,627.5 464.8,627.8 464.8,628.1 464.8,628.3 464.8,628.6 464.9,628.9 464.9,629.1 464.9,629.4 464.9,629.7 465,630 465,630.2 465,630.5 465,630.8 465.1,631 465.1,631.3 465.1,631.6 465.1,631.8 465.2,632.1 465.2,632.4 465.2,632.6 465.2,632.9 465.3,633.1 465.3,633.4 465.3,633.7 465.4,633.9 465.4,634.2 465.4,634.7 465.5,635.1 465.6,635.6 465.6,636.1 465.7,636.6 465.8,637 465.8,637.5 465.9,637.9 466,638.3 466.1,638.7 466.1,639.1 466.2,639.5 466.3,639.9 466.4,640.3 466.4,640.7 466.5,641.1 466.6,641.4 466.7,641.7 466.8,642.1 466.9,642.4 467,642.7 467.1,643 467.2,643.3 467.3,643.6 467.4,643.9 467.5,644.2 467.6,644.5 467.7,644.7 467.8,645 467.9,645.3 468.1,645.6 468.2,646 468.4,646.3 468.6,646.6 468.7,646.9 468.9,647.2 469.1,647.5 469.3,647.8 469.5,648 469.8,648.4 470.1,648.7 470.3,648.9 470.6,649.2 470.9,649.5 471.2,649.7 471.5,649.9 471.9,650.1 472.2,650.3 472.5,650.5 472.8,650.6 473,650.7 473.3,650.8 473.6,650.9 473.8,651 474.1,651.1 474.4,651.1 474.7,651.2 475,651.3 475.3,651.3 475.6,651.4 475.9,651.4 476.2,651.5 476.5,651.5" fill="none" stroke="#a27e6e" stroke-width="0.85" stroke-linejoin="round" stroke-linecap="butt" />
<line x1="476.47" y1="651.54" x2="476.47" y2="621.4" stroke="#ead0c9" stroke-width="1.15"/>
<path d="M476.5,621.4 476.5,621.7 476.5,622 476.5,622.3 476.5,622.6 476.6,623 476.6,623.2 476.6,623.5 476.6,623.8 476.6,624.1 476.6,624.4 476.7,624.8 476.7,625.1 476.7,625.5 476.7,625.9 476.8,626.3 476.8,626.7 476.8,627.1 476.8,627.5 476.9,628 476.9,628.4 476.9,628.8 477,629.3 477,629.8 477.1,630.2 477.1,630.7 477.1,631.1 477.2,631.6 477.2,632.1 477.3,632.5 477.3,633 477.4,633.5 477.4,633.9 477.5,634.4 477.5,634.8 477.6,635.3 477.6,635.7 477.7,636.1 477.8,636.6 477.8,637 477.9,637.4 477.9,637.8 478,638.2 478.1,638.6 478.1,639 478.2,639.4 478.3,639.7 478.4,640.1 478.4,640.4 478.5,640.8 478.6,641.1 478.7,641.4 478.8,641.7 478.8,642.1 478.9,642.4 479,642.7 479.1,642.9 479.2,643.2 479.3,643.5 479.4,643.8 479.5,644 479.6,644.3 479.7,644.6 479.9,645 480,645.3 480.2,645.7 480.4,646 480.5,646.3 480.7,646.6 480.9,646.8 481.1,647.1 481.2,647.4 481.5,647.7 481.8,648 482,648.3 482.3,648.5 482.6,648.8 482.9,649 483.2,649.2 483.5,649.4 483.8,649.6 484.1,649.8 484.4,649.9 484.7,650.1 485,650.2 485.3,650.3 485.5,650.4 485.8,650.5 486.1,650.5 486.3,650.6 486.6,650.7 486.9,650.8 487.2,650.8 487.5,650.9 487.8,650.9 488.1,651 488.4,651 488.7,651 488.8,651.1" fill="none" stroke="#dcc4bc" stroke-width="1.5" stroke-linejoin="round" stroke-linecap="butt" stroke-opacity="0.6"/>
<path d="M476.5,621.4 476.5,621.7 476.5,622 476.5,622.3 476.5,622.6 476.6,623 476.6,623.2 476.6,623.5 476.6,623.8 476.6,624.1 476.6,624.4 476.7,624.8 476.7,625.1 476.7,625.5 476.7,625.9 476.8,626.3 476.8,626.7 476.8,627.1 476.8,627.5 476.9,628 476.9,628.4 476.9,628.8 477,629.3 477,629.8 477.1,630.2 477.1,630.7 477.1,631.1 477.2,631.6 477.2,632.1 477.3,632.5 477.3,633 477.4,633.5 477.4,633.9 477.5,634.4 477.5,634.8 477.6,635.3 477.6,635.7 477.7,636.1 477.8,636.6 477.8,637 477.9,637.4 477.9,637.8 478,638.2 478.1,638.6 478.1,639 478.2,639.4 478.3,639.7 478.4,640.1 478.4,640.4 478.5,640.8 478.6,641.1 478.7,641.4 478.8,641.7 478.8,642.1 478.9,642.4 479,642.7 479.1,642.9 479.2,643.2 479.3,643.5 479.4,643.8 479.5,644 479.6,644.3 479.7,644.6 479.9,645 480,645.3 480.2,645.7 480.4,646 480.5,646.3 480.7,646.6 480.9,646.8 481.1,647.1 481.2,647.4 481.5,647.7 481.8,648 482,648.3 482.3,648.5 482.6,648.8 482.9,649 483.2,649.2 483.5,649.4 483.8,649.6 484.1,649.8 484.4,649.9 484.7,650.1 485,650.2 485.3,650.3 485.5,650.4 485.8,650.5 486.1,650.5 486.3,650.6 486.6,650.7 486.9,650.8 487.2,650.8 487.5,650.9 487.8,650.9 488.1,651 488.4,651 488.7,651 488.8,651.1" fill="none" stroke="#a27e6e" stroke-width="0.85" stroke-linejoin="round" stroke-linecap="butt" />
<line x1="488.79" y1="651.06" x2="488.79" y2="625.06" stroke="#ead0c9" stroke-width="1.15"/>
<path d="M488.8,625.1 488.8,625.3 488.8,625.6 488.8,625.9 488.9,626.2 488.9,626.5 488.9,626.9 488.9,627.1 488.9,627.4 489,627.7 489,628 489,628.3 489,628.6 489,628.9 489.1,629.2 489.1,629.6 489.1,630 489.2,630.3 489.2,630.7 489.2,631.1 489.3,631.5 489.3,631.9 489.3,632.2 489.4,632.6 489.4,633 489.5,633.4 489.5,633.8 489.5,634.2 489.6,634.6 489.6,635 489.7,635.4 489.7,635.8 489.8,636.2 489.8,636.6 489.9,637 490,637.4 490,637.7 490.1,638.1 490.1,638.5 490.2,638.8 490.3,639.2 490.3,639.5 490.4,639.9 490.5,640.2 490.5,640.5 490.6,640.8 490.7,641.1 490.8,641.4 490.8,641.7 490.9,642 491,642.3 491.1,642.6 491.2,642.8 491.2,643.1 491.3,643.3 491.5,643.7 491.6,644.1 491.7,644.4 491.9,644.7 492,645.1 492.2,645.4 492.4,645.7 492.5,645.9 492.7,646.2 492.8,646.5 493.1,646.8 493.3,647.1 493.6,647.4 493.8,647.7 494.1,647.9 494.3,648.2 494.6,648.4 494.9,648.6 495.2,648.8 495.5,649 495.8,649.2 496.1,649.3 496.4,649.5 496.7,649.6 497.1,649.7 497.3,649.8 497.6,649.9 497.8,650 498.1,650.1 498.4,650.1 498.6,650.2 498.9,650.3 499.2,650.3 499.5,650.4 499.8,650.4 500.1,650.5 500.4,650.5 500.7,650.5 501,650.6 501.1,650.6" fill="none" stroke="#dcc4bc" stroke-width="1.5" stroke-linejoin="round" stroke-linecap="butt" stroke-opacity="0.6"/>
<path d="M488.8,625.1 488.8,625.3 488.8,625.6 488.8,625.9 488.9,626.2 488.9,626.5 488.9,626.9 488.9,627.1 488.9,627.4 489,627.7 489,628 489,628.3 489,628.6 489,628.9 489.1,629.2 489.1,629.6 489.1,630 489.2,630.3 489.2,630.7 489.2,631.1 489.3,631.5 489.3,631.9 489.3,632.2 489.4,632.6 489.4,633 489.5,633.4 489.5,633.8 489.5,634.2 489.6,634.6 489.6,635 489.7,635.4 489.7,635.8 489.8,636.2 489.8,636.6 489.9,637 490,637.4 490,637.7 490.1,638.1 490.1,638.5 490.2,638.8 490.3,639.2 490.3,639.5 490.4,639.9 490.5,640.2 490.5,640.5 490.6,640.8 490.7,641.1 490.8,641.4 490.8,641.7 490.9,642 491,642.3 491.1,642.6 491.2,642.8 491.2,643.1 491.3,643.3 491.5,643.7 491.6,644.1 491.7,644.4 491.9,644.7 492,645.1 492.2,645.4 492.4,645.7 492.5,645.9 492.7,646.2 492.8,646.5 493.1,646.8 493.3,647.1 493.6,647.4 493.8,647.7 494.1,647.9 494.3,648.2 494.6,648.4 494.9,648.6 495.2,648.8 495.5,649 495.8,649.2 496.1,649.3 496.4,649.5 496.7,649.6 497.1,649.7 497.3,649.8 497.6,649.9 497.8,650 498.1,650.1 498.4,650.1 498.6,650.2 498.9,650.3 499.2,650.3 499.5,650.4 499.8,650.4 500.1,650.5 500.4,650.5 500.7,650.5 501,650.6 501.1,650.6" fill="none" stroke="#a27e6e" stroke-width="0.85" stroke-linejoin="round" stroke-linecap="butt" />
<line x1="316.3" y1="561.51" x2="500.8" y2="561.51" stroke="#1010e8" stroke-width="1.9" stroke-dasharray="5.1,4.8"/>
<text x="422.15" y="490.8" font-size="10.2" text-anchor="middle" font-weight="bold" fill="#0a0a0a" font-family='"Liberation Sans", sans-serif' >Thermal history of 4th layer (300 s Delay)</text>
<text x="0" y="0" font-size="10.2" font-weight="bold" fill="#262626" font-family='"Liberation Sans", sans-serif' text-anchor="middle" transform="translate(288.6,575.95) rotate(-90)">T (°C)</text>
<text x="422.55" y="684" font-size="10.0" text-anchor="middle" font-weight="bold" fill="#262626" font-family='"Liberation Sans", sans-serif' >Time (s)</text>
<text x="134.8" y="707.6" font-size="13.5" text-anchor="middle" font-weight="bold" fill="#111" font-family='"Liberation Serif", serif'>(e)</text>
<text x="416" y="708.4" font-size="13.5" text-anchor="middle" font-weight="bold" fill="#111" font-family='"Liberation Serif", serif'>(f)</text></svg></body></html>
